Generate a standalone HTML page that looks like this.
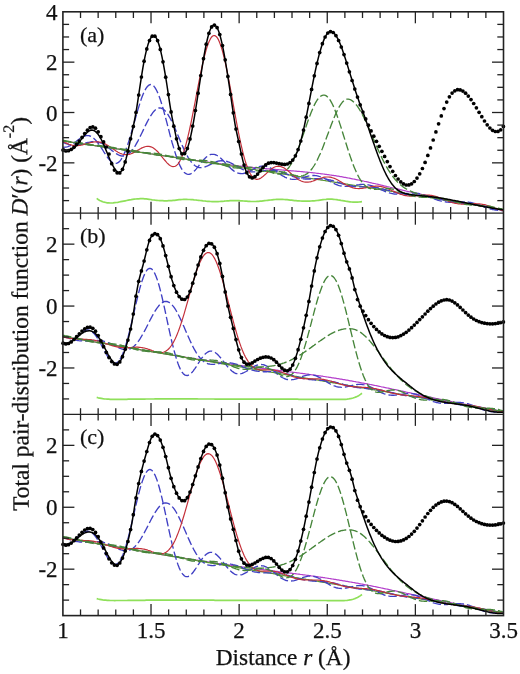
<!DOCTYPE html><html><head><meta charset="utf-8"><title>D(r)</title><style>html,body{margin:0;padding:0;background:#fff;}svg{display:block;}</style></head><body><svg width="520" height="674" viewBox="0 0 520 674"><rect width="520" height="674" fill="#fff"/><path d="M62.9,141.0 63.9,141.2 64.9,141.3 65.9,141.4 66.9,141.6 67.9,141.7 68.9,141.9 69.9,142.0 70.9,142.2 71.9,142.3 72.9,142.4 73.9,142.6 74.9,142.7 75.9,142.9 76.9,143.0 77.9,143.2 78.9,143.3 79.9,143.5 80.9,143.6 81.9,143.8 82.9,143.9 83.9,144.0 84.9,144.2 85.9,144.3 86.9,144.5 87.9,144.6 88.9,144.8 89.9,144.9 90.9,145.1 91.9,145.2 92.9,145.4 93.9,145.5 94.9,145.6 95.9,145.8 96.9,145.9 97.9,146.1 98.9,146.2 100.0,146.4 101.0,146.5 102.0,146.7 103.0,146.8 104.0,147.0 105.0,147.1 106.0,147.2 107.0,147.4 108.0,147.5 109.0,147.7 110.0,147.8 111.0,148.0 112.0,148.1 113.0,148.3 114.0,148.4 115.0,148.6 116.0,148.7 117.0,148.9 118.0,149.0 119.0,149.2 120.0,149.3 121.0,149.4 122.0,149.6 123.0,149.7 124.0,149.9 125.0,150.0 126.0,150.2 127.0,150.3 128.0,150.5 129.0,150.6 130.0,150.8 131.0,150.9 132.0,151.1 133.0,151.2 134.0,151.4 135.0,151.5 136.0,151.7 137.0,151.8 138.0,152.0 139.0,152.1 140.0,152.3 141.0,152.4 142.0,152.5 143.0,152.7 144.0,152.8 145.0,153.0 146.0,153.1 147.0,153.3 148.0,153.4 149.0,153.6 150.0,153.7 151.0,153.9 152.0,154.0 153.0,154.2 154.0,154.3 155.0,154.5 156.0,154.6 157.0,154.8 158.0,154.9 159.0,155.1 160.0,155.2 161.0,155.4 162.0,155.5 163.0,155.7 164.0,155.8 165.0,156.0 166.0,156.1 167.0,156.2 168.0,156.4 169.0,156.5 170.0,156.7 171.0,156.8 172.0,157.0 173.1,157.1 174.1,157.3 175.1,157.4 176.1,157.6 177.1,157.7 178.1,157.9 179.1,158.0 180.1,158.2 181.1,158.3 182.1,158.4 183.1,158.6 184.1,158.7 185.1,158.9 186.1,159.0 187.1,159.2 188.1,159.3 189.1,159.5 190.1,159.6 191.1,159.7 192.1,159.9 193.1,160.0 194.1,160.2 195.1,160.3 196.1,160.5 197.1,160.6 198.1,160.7 199.1,160.9 200.1,161.0 201.1,161.2 202.1,161.3 203.1,161.4 204.1,161.6 205.1,161.7 206.1,161.9 207.1,162.0 208.1,162.1 209.1,162.3 210.1,162.4 211.1,162.5 212.1,162.7 213.1,162.8 214.1,162.9 215.1,163.1 216.1,163.2 217.1,163.3 218.1,163.5 219.1,163.6 220.1,163.7 221.1,163.8 222.1,164.0 223.1,164.1 224.1,164.2 225.1,164.4 226.1,164.5 227.1,164.6 228.1,164.7 229.1,164.8 230.1,165.0 231.1,165.1 232.1,165.2 233.1,165.3 234.1,165.4 235.1,165.6 236.1,165.7 237.1,165.8 238.1,165.9 239.1,166.0 240.1,166.1 241.1,166.2 242.1,166.3 243.1,166.4 244.1,166.6 245.1,166.7 246.1,166.8 247.2,166.9 248.2,167.0 249.2,167.1 250.2,167.2 251.2,167.3 252.2,167.4 253.2,167.5 254.2,167.6 255.2,167.7 256.2,167.8 257.2,167.9 258.2,168.0 259.2,168.0 260.2,168.1 261.2,168.2 262.2,168.3 263.2,168.4 264.2,168.5 265.2,168.6 266.2,168.7 267.2,168.8 268.2,168.9 269.2,168.9 270.2,169.0 271.2,169.1 272.2,169.2 273.2,169.3 274.2,169.4 275.2,169.4 276.2,169.5 277.2,169.6 278.2,169.7 279.2,169.8 280.2,169.8 281.2,169.9 282.2,170.0 283.2,170.1 284.2,170.2 285.2,170.3 286.2,170.3 287.2,170.4 288.2,170.5 289.2,170.6 290.2,170.7 291.2,170.8 292.2,170.8 293.2,170.9 294.2,171.0 295.2,171.1 296.2,171.2 297.2,171.3 298.2,171.4 299.2,171.4 300.2,171.5 301.2,171.6 302.2,171.7 303.2,171.8 304.2,171.9 305.2,172.0 306.2,172.1 307.2,172.2 308.2,172.3 309.2,172.4 310.2,172.5 311.2,172.6 312.2,172.7 313.2,172.8 314.2,172.9 315.2,173.0 316.2,173.2 317.2,173.3 318.2,173.4 319.2,173.5 320.3,173.6 321.3,173.8 322.3,173.9 323.3,174.0 324.3,174.1 325.3,174.3 326.3,174.4 327.3,174.6 328.3,174.7 329.3,174.8 330.3,175.0 331.3,175.1 332.3,175.3 333.3,175.4 334.3,175.6 335.3,175.7 336.3,175.9 337.3,176.1 338.3,176.2 339.3,176.4 340.3,176.6 341.3,176.7 342.3,176.9 343.3,177.1 344.3,177.3 345.3,177.4 346.3,177.6 347.3,177.8 348.3,178.0 349.3,178.2 350.3,178.4 351.3,178.6 352.3,178.8 353.3,179.0 354.3,179.2 355.3,179.4 356.3,179.6 357.3,179.8 358.3,180.0 359.3,180.2 360.3,180.4 361.3,180.6 362.3,180.8 363.3,181.0 364.3,181.3 365.3,181.5 366.3,181.7 367.3,181.9 368.3,182.1 369.3,182.4 370.3,182.6 371.3,182.8 372.3,183.1 373.3,183.3 374.3,183.5 375.3,183.7 376.3,184.0 377.3,184.2 378.3,184.4 379.3,184.7 380.3,184.9 381.3,185.2 382.3,185.4 383.3,185.6 384.3,185.9 385.3,186.1 386.3,186.3 387.3,186.6 388.3,186.8 389.3,187.0 390.3,187.3 391.3,187.5 392.3,187.8 393.4,188.0 394.4,188.2 395.4,188.5 396.4,188.7 397.4,188.9 398.4,189.2 399.4,189.4 400.4,189.7 401.4,189.9 402.4,190.1 403.4,190.4 404.4,190.6 405.4,190.8 406.4,191.1 407.4,191.3 408.4,191.5 409.4,191.8 410.4,192.0 411.4,192.2 412.4,192.4 413.4,192.7 414.4,192.9 415.4,193.1 416.4,193.3 417.4,193.6 418.4,193.8 419.4,194.0 420.4,194.2 421.4,194.4 422.4,194.7 423.4,194.9 424.4,195.1 425.4,195.3 426.4,195.5 427.4,195.7 428.4,196.0 429.4,196.2 430.4,196.4 431.4,196.6 432.4,196.8 433.4,197.0 434.4,197.2 435.4,197.4 436.4,197.6 437.4,197.8 438.4,198.0 439.4,198.2 440.4,198.4 441.4,198.6 442.4,198.8 443.4,199.0 444.4,199.2 445.4,199.4 446.4,199.6 447.4,199.8 448.4,200.0 449.4,200.2 450.4,200.4 451.4,200.6 452.4,200.8 453.4,201.0 454.4,201.2 455.4,201.3 456.4,201.5 457.4,201.7 458.4,201.9 459.4,202.1 460.4,202.3 461.4,202.5 462.4,202.6 463.4,202.8 464.4,203.0 465.4,203.2 466.4,203.4 467.5,203.6 468.5,203.7 469.5,203.9 470.5,204.1 471.5,204.3 472.5,204.5 473.5,204.6 474.5,204.8 475.5,205.0 476.5,205.2 477.5,205.4 478.5,205.5 479.5,205.7 480.5,205.9 481.5,206.1 482.5,206.2 483.5,206.4 484.5,206.6 485.5,206.8 486.5,206.9 487.5,207.1 488.5,207.3 489.5,207.5 490.5,207.6 491.5,207.8 492.5,208.0 493.5,208.2 494.5,208.3 495.5,208.5 496.5,208.7 497.5,208.8 498.5,209.0 499.5,209.2 500.5,209.4 501.5,209.5 502.5,209.7 503.5,209.9" fill="none" stroke="#b440cc" stroke-width="1.2" stroke-linejoin="round"/><path d="M62.9,141.0 63.9,141.2 64.9,141.3 65.9,141.4 66.9,141.6 67.9,141.7 68.9,141.9 69.9,142.0 70.9,142.2 71.9,142.3 72.9,142.4 73.9,142.6 74.9,142.7 75.9,142.9 76.9,143.0 77.9,143.2 78.9,143.3 79.9,143.5 80.9,143.6 81.9,143.8 82.9,143.9 83.9,144.0 84.9,144.2 85.9,144.3 86.9,144.5 87.9,144.6 88.9,144.8 89.9,144.9 90.9,145.1 91.9,145.2 92.9,145.4 93.9,145.5 94.9,145.6 95.9,145.8 96.9,145.9 97.9,146.1 98.9,146.2 100.0,146.4 101.0,146.5 102.0,146.7 103.0,146.8 104.0,147.0 105.0,147.1 106.0,147.2 107.0,147.4 108.0,147.5 109.0,147.7 110.0,147.8 111.0,148.0 112.0,148.1 113.0,148.3 114.0,148.4 115.0,148.6 116.0,148.7 117.0,148.9 118.0,149.0 119.0,149.2 120.0,149.3 121.0,149.5 122.0,149.6 123.0,149.7 124.0,149.9 125.0,150.0 126.0,150.2 127.0,150.3 128.0,150.5 129.0,150.6 130.0,150.8 131.0,150.9 132.0,151.1 133.0,151.2 134.0,151.4 135.0,151.5 136.0,151.7 137.0,151.8 138.0,152.0 139.0,152.1 140.0,152.3 141.0,152.4 142.0,152.6 143.0,152.7 144.0,152.9 145.0,153.0 146.0,153.1 147.0,153.3 148.0,153.4 149.0,153.6 150.0,153.7 151.0,153.9 152.0,154.0 153.0,154.2 154.0,154.3 155.0,154.5 156.0,154.6 157.0,154.8 158.0,154.9 159.0,155.1 160.0,155.2 161.0,155.4 162.0,155.5 163.0,155.7 164.0,155.8 165.0,156.0 166.0,156.1 167.0,156.3 168.0,156.4 169.0,156.6 170.0,156.7 171.0,156.9 172.0,157.0 173.1,157.2 174.1,157.3 175.1,157.5 176.1,157.6 177.1,157.8 178.1,157.9 179.1,158.1 180.1,158.2 181.1,158.4 182.1,158.5 183.1,158.7 184.1,158.8 185.1,159.0 186.1,159.1 187.1,159.3 188.1,159.4 189.1,159.6 190.1,159.7 191.1,159.9 192.1,160.1 193.1,160.2 194.1,160.4 195.1,160.5 196.1,160.7 197.1,160.8 198.1,161.0 199.1,161.1 200.1,161.3 201.1,161.4 202.1,161.6 203.1,161.7 204.1,161.9 205.1,162.0 206.1,162.2 207.1,162.3 208.1,162.5 209.1,162.6 210.1,162.8 211.1,162.9 212.1,163.1 213.1,163.2 214.1,163.4 215.1,163.5 216.1,163.7 217.1,163.9 218.1,164.0 219.1,164.2 220.1,164.3 221.1,164.5 222.1,164.6 223.1,164.8 224.1,164.9 225.1,165.1 226.1,165.2 227.1,165.4 228.1,165.5 229.1,165.7 230.1,165.8 231.1,166.0 232.1,166.2 233.1,166.3 234.1,166.5 235.1,166.6 236.1,166.8 237.1,166.9 238.1,167.1 239.1,167.2 240.1,167.4 241.1,167.5 242.1,167.7 243.1,167.8 244.1,168.0 245.1,168.2 246.1,168.3 247.2,168.5 248.2,168.6 249.2,168.8 250.2,168.9 251.2,169.1 252.2,169.2 253.2,169.4 254.2,169.5 255.2,169.7 256.2,169.9 257.2,170.0 258.2,170.2 259.2,170.3 260.2,170.5 261.2,170.6 262.2,170.8 263.2,170.9 264.2,171.1 265.2,171.3 266.2,171.4 267.2,171.6 268.2,171.7 269.2,171.9 270.2,172.0 271.2,172.2 272.2,172.3 273.2,172.5 274.2,172.7 275.2,172.8 276.2,173.0 277.2,173.1 278.2,173.3 279.2,173.4 280.2,173.6 281.2,173.8 282.2,173.9 283.2,174.1 284.2,174.2 285.2,174.4 286.2,174.5 287.2,174.7 288.2,174.8 289.2,175.0 290.2,175.2 291.2,175.3 292.2,175.5 293.2,175.6 294.2,175.8 295.2,175.9 296.2,176.1 297.2,176.3 298.2,176.4 299.2,176.6 300.2,176.7 301.2,176.9 302.2,177.0 303.2,177.2 304.2,177.4 305.2,177.5 306.2,177.7 307.2,177.8 308.2,178.0 309.2,178.2 310.2,178.3 311.2,178.5 312.2,178.6 313.2,178.8 314.2,178.9 315.2,179.1 316.2,179.3 317.2,179.4 318.2,179.6 319.2,179.7 320.3,179.9 321.3,180.1 322.3,180.2 323.3,180.4 324.3,180.5 325.3,180.7 326.3,180.9 327.3,181.0 328.3,181.2 329.3,181.3 330.3,181.5 331.3,181.6 332.3,181.8 333.3,182.0 334.3,182.1 335.3,182.3 336.3,182.4 337.3,182.6 338.3,182.8 339.3,182.9 340.3,183.1 341.3,183.2 342.3,183.4 343.3,183.6 344.3,183.7 345.3,183.9 346.3,184.0 347.3,184.2 348.3,184.4 349.3,184.5 350.3,184.7 351.3,184.8 352.3,185.0 353.3,185.2 354.3,185.3 355.3,185.5 356.3,185.7 357.3,185.8 358.3,186.0 359.3,186.1 360.3,186.3 361.3,186.5 362.3,186.6 363.3,186.8 364.3,186.9 365.3,187.1 366.3,187.3 367.3,187.4 368.3,187.6 369.3,187.7 370.3,187.9 371.3,188.1 372.3,188.2 373.3,188.4 374.3,188.6 375.3,188.7 376.3,188.9 377.3,189.0 378.3,189.2 379.3,189.4 380.3,189.5 381.3,189.7 382.3,189.9 383.3,190.0 384.3,190.2 385.3,190.3 386.3,190.5 387.3,190.7 388.3,190.8 389.3,191.0 390.3,191.2 391.3,191.3 392.3,191.5 393.4,191.6 394.4,191.8 395.4,192.0 396.4,192.1 397.4,192.3 398.4,192.5 399.4,192.6 400.4,192.8 401.4,192.9 402.4,193.1 403.4,193.3 404.4,193.4 405.4,193.6 406.4,193.8 407.4,193.9 408.4,194.1 409.4,194.3 410.4,194.4 411.4,194.6 412.4,194.7 413.4,194.9 414.4,195.1 415.4,195.2 416.4,195.4 417.4,195.6 418.4,195.7 419.4,195.9 420.4,196.1 421.4,196.2 422.4,196.4 423.4,196.6 424.4,196.7 425.4,196.9 426.4,197.1 427.4,197.2 428.4,197.4 429.4,197.5 430.4,197.7 431.4,197.9 432.4,198.0 433.4,198.2 434.4,198.4 435.4,198.5 436.4,198.7 437.4,198.9 438.4,199.0 439.4,199.2 440.4,199.4 441.4,199.5 442.4,199.7 443.4,199.9 444.4,200.0 445.4,200.2 446.4,200.4 447.4,200.5 448.4,200.7 449.4,200.9 450.4,201.0 451.4,201.2 452.4,201.4 453.4,201.5 454.4,201.7 455.4,201.9 456.4,202.0 457.4,202.2 458.4,202.4 459.4,202.5 460.4,202.7 461.4,202.9 462.4,203.0 463.4,203.2 464.4,203.4 465.4,203.5 466.4,203.7 467.5,203.9 468.5,204.0 469.5,204.2 470.5,204.4 471.5,204.5 472.5,204.7 473.5,204.9 474.5,205.0 475.5,205.2 476.5,205.4 477.5,205.5 478.5,205.7 479.5,205.9 480.5,206.0 481.5,206.2 482.5,206.4 483.5,206.5 484.5,206.7 485.5,206.9 486.5,207.0 487.5,207.2 488.5,207.4 489.5,207.6 490.5,207.7 491.5,207.9 492.5,208.1 493.5,208.2 494.5,208.4 495.5,208.6 496.5,208.7 497.5,208.9 498.5,209.1 499.5,209.2 500.5,209.4 501.5,209.6 502.5,209.7 503.5,209.9" fill="none" stroke="#5c9632" stroke-width="1.2" stroke-linejoin="round"/><path d="M62.9,147.2 63.9,147.3 64.9,147.2 65.9,147.1 66.9,146.9 67.9,146.6 68.9,146.2 69.9,145.8 70.9,145.2 71.9,144.6 72.9,143.9 73.9,143.2 74.9,142.5 75.9,141.7 76.9,140.9 77.9,140.1 78.9,139.4 79.9,138.6 80.9,138.0 81.9,137.3 82.9,136.8 83.9,136.3 84.9,136.0 85.9,135.7 86.9,135.6 87.9,135.6 88.9,135.7 89.9,136.0 90.9,136.4 91.9,137.0 92.9,137.7 93.9,138.5 94.9,139.4 95.9,140.5 96.9,141.7 97.9,143.0 98.9,144.4 100.0,145.8 101.0,147.3 102.0,148.9 103.0,150.5 104.0,152.1 105.0,153.6 106.0,155.1 107.0,156.6 108.0,158.0 109.0,159.2 110.0,160.4 111.0,161.4 112.0,162.2 113.0,162.8 114.0,163.2 115.0,163.5 116.0,163.4 117.0,163.2 118.0,162.7 119.0,161.9 120.0,160.9 121.0,159.6 122.0,158.0 123.0,156.2 124.0,154.1 125.0,151.9 126.0,149.3 127.0,146.6 128.0,143.7 129.0,140.6 130.0,137.4 131.0,134.0 132.0,130.5 133.0,127.0 134.0,123.4 135.0,119.9 136.0,116.3 137.0,112.8 138.0,109.4 139.0,106.1 140.0,102.9 141.0,99.9 142.0,97.1 143.0,94.5 144.0,92.2 145.0,90.2 146.0,88.4 147.0,87.0 148.0,85.9 149.0,85.1 150.0,84.6 151.0,84.5 152.0,84.8 153.0,85.4 154.0,86.3 155.0,87.6 156.0,89.3 157.0,91.2 158.0,93.4 159.0,95.9 160.0,98.7 161.0,101.7 162.0,104.9 163.0,108.3 164.0,111.9 165.0,115.6 166.0,119.4 167.0,123.2 168.0,127.1 169.0,130.9 170.0,134.8 171.0,138.6 172.0,142.3 173.1,145.9 174.1,149.3 175.1,152.6 176.1,155.7 177.1,158.6 178.1,161.3 179.1,163.7 180.1,165.9 181.1,167.9 182.1,169.6 183.1,171.0 184.1,172.2 185.1,173.1 186.1,173.7 187.1,174.1 188.1,174.3 189.1,174.3 190.1,174.0 191.1,173.6 192.1,172.9 193.1,172.1 194.1,171.2 195.1,170.2 196.1,169.1 197.1,167.9 198.1,166.6 199.1,165.3 200.1,164.1 201.1,162.8 202.1,161.6 203.1,160.4 204.1,159.3 205.1,158.2 206.1,157.3 207.1,156.5 208.1,155.8 209.1,155.2 210.1,154.7 211.1,154.4 212.1,154.3 213.1,154.3 214.1,154.4 215.1,154.6 216.1,155.0 217.1,155.5 218.1,156.1 219.1,156.8 220.1,157.6 221.1,158.5 222.1,159.5 223.1,160.5 224.1,161.5 225.1,162.6 226.1,163.7 227.1,164.7 228.1,165.8 229.1,166.8 230.1,167.8 231.1,168.8 232.1,169.6 233.1,170.4 234.1,171.2 235.1,171.8 236.1,172.3 237.1,172.8 238.1,173.1 239.1,173.4 240.1,173.5 241.1,173.6 242.1,173.6 243.1,173.5 244.1,173.3 245.1,173.0 246.1,172.7 247.2,172.3 248.2,171.8 249.2,171.3 250.2,170.8 251.2,170.3 252.2,169.8 253.2,169.2 254.2,168.7 255.2,168.2 256.2,167.8 257.2,167.4 258.2,167.0 259.2,166.7 260.2,166.4 261.2,166.2 262.2,166.1 263.2,166.1 264.2,166.1 265.2,166.2 266.2,166.4 267.2,166.6 268.2,167.0 269.2,167.4 270.2,167.8 271.2,168.3 272.2,168.9 273.2,169.5 274.2,170.1 275.2,170.8 276.2,171.5 277.2,172.2 278.2,172.9 279.2,173.6 280.2,174.3 281.2,174.9 282.2,175.6 283.2,176.2 284.2,176.7 285.2,177.3 286.2,177.7 287.2,178.1 288.2,178.5 289.2,178.8 290.2,179.0 291.2,179.2 292.2,179.3 293.2,179.3 294.2,179.3 295.2,179.3 296.2,179.2 297.2,179.0 298.2,178.8 299.2,178.6 300.2,178.3 301.2,178.1 302.2,177.8 303.2,177.5 304.2,177.2 305.2,176.9 306.2,176.6 307.2,176.3 308.2,176.1 309.2,175.9 310.2,175.8 311.2,175.6 312.2,175.5 313.2,175.5 314.2,175.5 315.2,175.6 316.2,175.7 317.2,175.9 318.2,176.1 319.2,176.4 320.3,176.7 321.3,177.1 322.3,177.5 323.3,177.9 324.3,178.4 325.3,178.9 326.3,179.4 327.3,180.0 328.3,180.5 329.3,181.0 330.3,181.6 331.3,182.1 332.3,182.7 333.3,183.2 334.3,183.6 335.3,184.1 336.3,184.5 337.3,184.9 338.3,185.3 339.3,185.6 340.3,185.8 341.3,186.0 342.3,186.2 343.3,186.3 344.3,186.4 345.3,186.4 346.3,186.4 347.3,186.4 348.3,186.3 349.3,186.2 350.3,186.1 351.3,186.0 352.3,185.8 353.3,185.6 354.3,185.5 355.3,185.3 356.3,185.1 357.3,184.9 358.3,184.8 359.3,184.7 360.3,184.5 361.3,184.5 362.3,184.4 363.3,184.4 364.3,184.4 365.3,184.5 366.3,184.6 367.3,184.7 368.3,184.9 369.3,185.1 370.3,185.3 371.3,185.6 372.3,185.9 373.3,186.3 374.3,186.7 375.3,187.1 376.3,187.5 377.3,187.9 378.3,188.4 379.3,188.8 380.3,189.3 381.3,189.8 382.3,190.2 383.3,190.7 384.3,191.1 385.3,191.5 386.3,191.9 387.3,192.3 388.3,192.6 389.3,192.9 390.3,193.2 391.3,193.4 392.3,193.6 393.4,193.8 394.4,194.0 395.4,194.1 396.4,194.1 397.4,194.2 398.4,194.2 399.4,194.1 400.4,194.1 401.4,194.0 402.4,194.0 403.4,193.9 404.4,193.8 405.4,193.6 406.4,193.5 407.4,193.4 408.4,193.3 409.4,193.2 410.4,193.2 411.4,193.1 412.4,193.1 413.4,193.1 414.4,193.1 415.4,193.2 416.4,193.2 417.4,193.3 418.4,193.5 419.4,193.7 420.4,193.9 421.4,194.1 422.4,194.4 423.4,194.7 424.4,195.0 425.4,195.3 426.4,195.7 427.4,196.1 428.4,196.5 429.4,196.9 430.4,197.3 431.4,197.7 432.4,198.1 433.4,198.5 434.4,198.9 435.4,199.3 436.4,199.7 437.4,200.0 438.4,200.4 439.4,200.7 440.4,200.9 441.4,201.2 442.4,201.4 443.4,201.6 444.4,201.8 445.4,201.9 446.4,202.1 447.4,202.1 448.4,202.2 449.4,202.2 450.4,202.2 451.4,202.2 452.4,202.2 453.4,202.2 454.4,202.1 455.4,202.1 456.4,202.0 457.4,202.0 458.4,201.9 459.4,201.8 460.4,201.8 461.4,201.8 462.4,201.8 463.4,201.8 464.4,201.8 465.4,201.8 466.4,201.9 467.5,202.0 468.5,202.1 469.5,202.3 470.5,202.5 471.5,202.7 472.5,202.9 473.5,203.2 474.5,203.4 475.5,203.7 476.5,204.0 477.5,204.4 478.5,204.7 479.5,205.1 480.5,205.5 481.5,205.8 482.5,206.2 483.5,206.6 484.5,207.0 485.5,207.3 486.5,207.7 487.5,208.0 488.5,208.4 489.5,208.7 490.5,209.0 491.5,209.2 492.5,209.5 493.5,209.7 494.5,209.9 495.5,210.1 496.5,210.2 497.5,210.3 498.5,210.4 499.5,210.5 500.5,210.6 501.5,210.6 502.5,210.6 503.5,210.6" fill="none" stroke="#4040c4" stroke-width="1.35" stroke-dasharray="8.5,3" stroke-linejoin="round"/><path d="M62.9,142.4 63.9,142.8 64.9,143.2 65.9,143.6 66.9,143.9 67.9,144.2 68.9,144.5 69.9,144.7 70.9,144.9 71.9,145.0 72.9,145.1 73.9,145.2 74.9,145.2 75.9,145.1 76.9,145.0 77.9,144.9 78.9,144.7 79.9,144.6 80.9,144.3 81.9,144.1 82.9,143.8 83.9,143.6 84.9,143.3 85.9,143.0 86.9,142.7 87.9,142.5 88.9,142.3 89.9,142.1 90.9,141.9 91.9,141.7 92.9,141.7 93.9,141.6 94.9,141.6 95.9,141.7 96.9,141.8 97.9,142.0 98.9,142.3 100.0,142.6 101.0,143.0 102.0,143.5 103.0,144.0 104.0,144.6 105.0,145.2 106.0,145.9 107.0,146.6 108.0,147.4 109.0,148.2 110.0,149.0 111.0,149.8 112.0,150.6 113.0,151.3 114.0,152.1 115.0,152.8 116.0,153.5 117.0,154.1 118.0,154.7 119.0,155.2 120.0,155.5 121.0,155.8 122.0,156.0 123.0,156.0 124.0,156.0 125.0,155.8 126.0,155.4 127.0,155.0 128.0,154.3 129.0,153.6 130.0,152.7 131.0,151.6 132.0,150.4 133.0,149.1 134.0,147.7 135.0,146.1 136.0,144.4 137.0,142.6 138.0,140.8 139.0,138.8 140.0,136.8 141.0,134.8 142.0,132.7 143.0,130.6 144.0,128.5 145.0,126.4 146.0,124.4 147.0,122.4 148.0,120.5 149.0,118.6 150.0,116.9 151.0,115.3 152.0,113.8 153.0,112.4 154.0,111.2 155.0,110.2 156.0,109.4 157.0,108.7 158.0,108.3 159.0,108.0 160.0,108.0 161.0,108.1 162.0,108.5 163.0,109.0 164.0,109.8 165.0,110.7 166.0,111.8 167.0,113.1 168.0,114.6 169.0,116.3 170.0,118.0 171.0,119.9 172.0,122.0 173.1,124.1 174.1,126.3 175.1,128.6 176.1,131.0 177.1,133.3 178.1,135.7 179.1,138.1 180.1,140.5 181.1,142.9 182.1,145.2 183.1,147.4 184.1,149.6 185.1,151.7 186.1,153.6 187.1,155.5 188.1,157.3 189.1,158.9 190.1,160.4 191.1,161.7 192.1,162.9 193.1,164.0 194.1,164.9 195.1,165.7 196.1,166.4 197.1,166.9 198.1,167.3 199.1,167.5 200.1,167.6 201.1,167.7 202.1,167.6 203.1,167.4 204.1,167.2 205.1,166.8 206.1,166.5 207.1,166.0 208.1,165.6 209.1,165.1 210.1,164.6 211.1,164.1 212.1,163.6 213.1,163.1 214.1,162.7 215.1,162.2 216.1,161.9 217.1,161.5 218.1,161.2 219.1,161.0 220.1,160.8 221.1,160.7 222.1,160.7 223.1,160.7 224.1,160.8 225.1,161.0 226.1,161.2 227.1,161.5 228.1,161.8 229.1,162.2 230.1,162.7 231.1,163.1 232.1,163.6 233.1,164.2 234.1,164.7 235.1,165.3 236.1,165.9 237.1,166.4 238.1,167.0 239.1,167.6 240.1,168.1 241.1,168.6 242.1,169.1 243.1,169.6 244.1,170.0 245.1,170.4 246.1,170.7 247.2,171.0 248.2,171.3 249.2,171.5 250.2,171.7 251.2,171.8 252.2,171.9 253.2,171.9 254.2,171.9 255.2,171.9 256.2,171.8 257.2,171.7 258.2,171.6 259.2,171.5 260.2,171.3 261.2,171.2 262.2,171.0 263.2,170.9 264.2,170.7 265.2,170.6 266.2,170.4 267.2,170.3 268.2,170.2 269.2,170.2 270.2,170.2 271.2,170.2 272.2,170.2 273.2,170.2 274.2,170.3 275.2,170.5 276.2,170.6 277.2,170.8 278.2,171.1 279.2,171.3 280.2,171.6 281.2,172.0 282.2,172.3 283.2,172.7 284.2,173.0 285.2,173.4 286.2,173.8 287.2,174.2 288.2,174.6 289.2,175.0 290.2,175.4 291.2,175.8 292.2,176.2 293.2,176.6 294.2,176.9 295.2,177.2 296.2,177.5 297.2,177.8 298.2,178.0 299.2,178.2 300.2,178.4 301.2,178.6 302.2,178.7 303.2,178.8 304.2,178.9 305.2,179.0 306.2,179.0 307.2,179.0 308.2,179.0 309.2,179.0 310.2,179.0 311.2,178.9 312.2,178.9 313.2,178.8 314.2,178.8 315.2,178.7 316.2,178.7 317.2,178.7 318.2,178.6 319.2,178.6 320.3,178.7 321.3,178.7 322.3,178.8 323.3,178.8 324.3,178.9 325.3,179.1 326.3,179.2 327.3,179.4 328.3,179.6 329.3,179.8 330.3,180.0 331.3,180.3 332.3,180.5 333.3,180.8 334.3,181.1 335.3,181.5 336.3,181.8 337.3,182.1 338.3,182.5 339.3,182.8 340.3,183.1 341.3,183.5 342.3,183.8 343.3,184.1 344.3,184.4 345.3,184.7 346.3,185.0 347.3,185.2 348.3,185.5 349.3,185.7 350.3,185.9 351.3,186.1 352.3,186.2 353.3,186.4 354.3,186.5 355.3,186.6 356.3,186.7 357.3,186.7 358.3,186.8 359.3,186.8 360.3,186.8 361.3,186.9 362.3,186.9 363.3,186.9 364.3,186.9 365.3,186.9 366.3,186.9 367.3,186.9 368.3,187.0 369.3,187.0 370.3,187.0 371.3,187.1 372.3,187.2 373.3,187.2 374.3,187.3 375.3,187.5 376.3,187.6 377.3,187.7 378.3,187.9 379.3,188.1 380.3,188.3 381.3,188.5 382.3,188.8 383.3,189.0 384.3,189.3 385.3,189.6 386.3,189.9 387.3,190.2 388.3,190.4 389.3,190.7 390.3,191.0 391.3,191.3 392.3,191.6 393.4,191.9 394.4,192.2 395.4,192.5 396.4,192.7 397.4,193.0 398.4,193.2 399.4,193.5 400.4,193.7 401.4,193.9 402.4,194.0 403.4,194.2 404.4,194.3 405.4,194.5 406.4,194.6 407.4,194.7 408.4,194.8 409.4,194.9 410.4,194.9 411.4,195.0 412.4,195.0 413.4,195.1 414.4,195.1 415.4,195.2 416.4,195.2 417.4,195.2 418.4,195.3 419.4,195.3 420.4,195.4 421.4,195.5 422.4,195.6 423.4,195.7 424.4,195.8 425.4,195.9 426.4,196.0 427.4,196.2 428.4,196.3 429.4,196.5 430.4,196.7 431.4,196.9 432.4,197.1 433.4,197.3 434.4,197.6 435.4,197.8 436.4,198.1 437.4,198.3 438.4,198.6 439.4,198.9 440.4,199.2 441.4,199.4 442.4,199.7 443.4,200.0 444.4,200.3 445.4,200.5 446.4,200.8 447.4,201.0 448.4,201.3 449.4,201.5 450.4,201.7 451.4,201.9 452.4,202.1 453.4,202.3 454.4,202.4 455.4,202.6 456.4,202.7 457.4,202.8 458.4,203.0 459.4,203.1 460.4,203.2 461.4,203.2 462.4,203.3 463.4,203.4 464.4,203.5 465.4,203.5 466.4,203.6 467.5,203.7 468.5,203.7 469.5,203.8 470.5,203.9 471.5,204.0 472.5,204.0 473.5,204.1 474.5,204.2 475.5,204.4 476.5,204.5 477.5,204.6 478.5,204.8 479.5,205.0 480.5,205.1 481.5,205.3 482.5,205.5 483.5,205.7 484.5,206.0 485.5,206.2 486.5,206.4 487.5,206.7 488.5,206.9 489.5,207.2 490.5,207.5 491.5,207.7 492.5,208.0 493.5,208.2 494.5,208.5 495.5,208.8 496.5,209.0 497.5,209.3 498.5,209.5 499.5,209.7 500.5,209.9 501.5,210.1 502.5,210.3 503.5,210.5" fill="none" stroke="#4040c4" stroke-width="1.35" stroke-dasharray="8.5,3" stroke-linejoin="round"/><path d="M62.9,141.5 63.9,142.0 64.9,142.5 65.9,142.9 66.9,143.4 67.9,143.8 68.9,144.2 69.9,144.5 70.9,144.8 71.9,145.1 72.9,145.3 73.9,145.4 74.9,145.5 75.9,145.6 76.9,145.6 77.9,145.6 78.9,145.5 79.9,145.4 80.9,145.2 81.9,145.0 82.9,144.8 83.9,144.5 84.9,144.2 85.9,143.9 86.9,143.6 87.9,143.3 88.9,143.1 89.9,142.8 90.9,142.5 91.9,142.3 92.9,142.1 93.9,142.0 94.9,141.9 95.9,141.8 96.9,141.8 97.9,141.8 98.9,142.0 100.0,142.1 101.0,142.4 102.0,142.7 103.0,143.0 104.0,143.4 105.0,143.9 106.0,144.4 107.0,145.0 108.0,145.6 109.0,146.2 110.0,146.9 111.0,147.6 112.0,148.3 113.0,149.0 114.0,149.6 115.0,150.3 116.0,151.0 117.0,151.6 118.0,152.2 119.0,152.7 120.0,153.2 121.0,153.6 122.0,154.0 123.0,154.3 124.0,154.5 125.0,154.6 126.0,154.7 127.0,154.6 128.0,154.5 129.0,154.3 130.0,154.1 131.0,153.8 132.0,153.4 133.0,152.9 134.0,152.4 135.0,151.9 136.0,151.3 137.0,150.7 138.0,150.1 139.0,149.6 140.0,149.0 141.0,148.4 142.0,147.9 143.0,147.5 144.0,147.1 145.0,146.8 146.0,146.5 147.0,146.4 148.0,146.4 149.0,146.4 150.0,146.6 151.0,146.9 152.0,147.3 153.0,147.8 154.0,148.5 155.0,149.2 156.0,150.1 157.0,151.0 158.0,152.0 159.0,153.2 160.0,154.3 161.0,155.6 162.0,156.8 163.0,158.1 164.0,159.3 165.0,160.5 166.0,161.7 167.0,162.8 168.0,163.8 169.0,164.7 170.0,165.4 171.0,166.0 172.0,166.4 173.1,166.6 174.1,166.5 175.1,166.3 176.1,165.7 177.1,164.9 178.1,163.8 179.1,162.3 180.1,160.6 181.1,158.6 182.1,156.2 183.1,153.6 184.1,150.6 185.1,147.4 186.1,143.8 187.1,140.0 188.1,135.9 189.1,131.6 190.1,127.0 191.1,122.3 192.1,117.4 193.1,112.3 194.1,107.2 195.1,102.0 196.1,96.7 197.1,91.4 198.1,86.2 199.1,81.1 200.1,76.0 201.1,71.1 202.1,66.4 203.1,61.9 204.1,57.7 205.1,53.8 206.1,50.1 207.1,46.9 208.1,44.0 209.1,41.5 210.1,39.4 211.1,37.7 212.1,36.5 213.1,35.8 214.1,35.5 215.1,35.7 216.1,36.4 217.1,37.5 218.1,39.1 219.1,41.2 220.1,43.7 221.1,46.6 222.1,49.8 223.1,53.5 224.1,57.5 225.1,61.8 226.1,66.4 227.1,71.2 228.1,76.3 229.1,81.5 230.1,86.9 231.1,92.4 232.1,97.9 233.1,103.5 234.1,109.0 235.1,114.6 236.1,120.0 237.1,125.3 238.1,130.5 239.1,135.5 240.1,140.3 241.1,144.9 242.1,149.2 243.1,153.3 244.1,157.1 245.1,160.6 246.1,163.8 247.2,166.7 248.2,169.3 249.2,171.6 250.2,173.5 251.2,175.2 252.2,176.6 253.2,177.6 254.2,178.4 255.2,179.0 256.2,179.3 257.2,179.3 258.2,179.2 259.2,178.9 260.2,178.4 261.2,177.8 262.2,177.1 263.2,176.3 264.2,175.4 265.2,174.5 266.2,173.6 267.2,172.6 268.2,171.7 269.2,170.8 270.2,169.9 271.2,169.1 272.2,168.4 273.2,167.8 274.2,167.2 275.2,166.8 276.2,166.5 277.2,166.3 278.2,166.2 279.2,166.3 280.2,166.4 281.2,166.7 282.2,167.1 283.2,167.5 284.2,168.1 285.2,168.7 286.2,169.4 287.2,170.2 288.2,171.0 289.2,171.9 290.2,172.8 291.2,173.7 292.2,174.6 293.2,175.4 294.2,176.3 295.2,177.1 296.2,177.9 297.2,178.7 298.2,179.4 299.2,180.0 300.2,180.5 301.2,181.0 302.2,181.4 303.2,181.7 304.2,182.0 305.2,182.1 306.2,182.2 307.2,182.2 308.2,182.1 309.2,182.0 310.2,181.8 311.2,181.6 312.2,181.3 313.2,181.0 314.2,180.6 315.2,180.2 316.2,179.8 317.2,179.4 318.2,179.0 319.2,178.7 320.3,178.3 321.3,178.0 322.3,177.7 323.3,177.4 324.3,177.2 325.3,177.1 326.3,177.0 327.3,177.0 328.3,177.0 329.3,177.1 330.3,177.2 331.3,177.4 332.3,177.7 333.3,178.0 334.3,178.4 335.3,178.8 336.3,179.3 337.3,179.8 338.3,180.3 339.3,180.9 340.3,181.5 341.3,182.1 342.3,182.7 343.3,183.3 344.3,183.9 345.3,184.4 346.3,185.0 347.3,185.5 348.3,186.0 349.3,186.5 350.3,186.9 351.3,187.3 352.3,187.6 353.3,187.9 354.3,188.1 355.3,188.3 356.3,188.5 357.3,188.5 358.3,188.6 359.3,188.6 360.3,188.5 361.3,188.5 362.3,188.3 363.3,188.2 364.3,188.0 365.3,187.9 366.3,187.7 367.3,187.5 368.3,187.2 369.3,187.0 370.3,186.9 371.3,186.7 372.3,186.5 373.3,186.4 374.3,186.3 375.3,186.2 376.3,186.2 377.3,186.2 378.3,186.2 379.3,186.3 380.3,186.4 381.3,186.6 382.3,186.8 383.3,187.1 384.3,187.4 385.3,187.7 386.3,188.0 387.3,188.4 388.3,188.8 389.3,189.3 390.3,189.7 391.3,190.2 392.3,190.7 393.4,191.1 394.4,191.6 395.4,192.1 396.4,192.5 397.4,193.0 398.4,193.4 399.4,193.8 400.4,194.2 401.4,194.5 402.4,194.8 403.4,195.1 404.4,195.4 405.4,195.6 406.4,195.7 407.4,195.9 408.4,196.0 409.4,196.1 410.4,196.1 411.4,196.1 412.4,196.1 413.4,196.0 414.4,196.0 415.4,195.9 416.4,195.8 417.4,195.7 418.4,195.6 419.4,195.5 420.4,195.4 421.4,195.3 422.4,195.2 423.4,195.1 424.4,195.0 425.4,195.0 426.4,195.0 427.4,195.0 428.4,195.1 429.4,195.2 430.4,195.3 431.4,195.4 432.4,195.6 433.4,195.8 434.4,196.0 435.4,196.3 436.4,196.6 437.4,196.9 438.4,197.3 439.4,197.6 440.4,198.0 441.4,198.4 442.4,198.8 443.4,199.2 444.4,199.6 445.4,200.0 446.4,200.4 447.4,200.8 448.4,201.2 449.4,201.6 450.4,201.9 451.4,202.3 452.4,202.6 453.4,202.8 454.4,203.1 455.4,203.3 456.4,203.5 457.4,203.7 458.4,203.8 459.4,203.9 460.4,204.0 461.4,204.1 462.4,204.1 463.4,204.1 464.4,204.1 465.4,204.1 466.4,204.1 467.5,204.0 468.5,204.0 469.5,203.9 470.5,203.9 471.5,203.8 472.5,203.8 473.5,203.8 474.5,203.7 475.5,203.7 476.5,203.8 477.5,203.8 478.5,203.8 479.5,203.9 480.5,204.0 481.5,204.2 482.5,204.3 483.5,204.5 484.5,204.7 485.5,204.9 486.5,205.2 487.5,205.5 488.5,205.8 489.5,206.1 490.5,206.4 491.5,206.8 492.5,207.1 493.5,207.5 494.5,207.8 495.5,208.2 496.5,208.6 497.5,208.9 498.5,209.3 499.5,209.6 500.5,210.0 501.5,210.3 502.5,210.6 503.5,210.9" fill="none" stroke="#c4303a" stroke-width="1.2" stroke-linejoin="round"/><path d="M62.9,140.3 63.9,140.5 64.9,140.7 65.9,141.0 66.9,141.2 67.9,141.4 68.9,141.6 69.9,141.8 70.9,142.0 71.9,142.3 72.9,142.5 73.9,142.7 74.9,142.9 75.9,143.1 76.9,143.3 77.9,143.5 78.9,143.6 79.9,143.8 80.9,143.9 81.9,144.1 82.9,144.2 83.9,144.3 84.9,144.5 85.9,144.6 86.9,144.7 87.9,144.8 88.9,144.8 89.9,144.9 90.9,145.0 91.9,145.1 92.9,145.1 93.9,145.2 94.9,145.2 95.9,145.3 96.9,145.4 97.9,145.4 98.9,145.5 100.0,145.6 101.0,145.7 102.0,145.8 103.0,145.9 104.0,146.0 105.0,146.1 106.0,146.2 107.0,146.4 108.0,146.5 109.0,146.7 110.0,146.9 111.0,147.1 112.0,147.3 113.0,147.5 114.0,147.7 115.0,147.9 116.0,148.1 117.0,148.4 118.0,148.6 119.0,148.8 120.0,149.1 121.0,149.3 122.0,149.6 123.0,149.8 124.0,150.0 125.0,150.3 126.0,150.5 127.0,150.7 128.0,150.9 129.0,151.1 130.0,151.2 131.0,151.4 132.0,151.6 133.0,151.7 134.0,151.8 135.0,152.0 136.0,152.1 137.0,152.2 138.0,152.3 139.0,152.3 140.0,152.4 141.0,152.5 142.0,152.5 143.0,152.6 144.0,152.6 145.0,152.6 146.0,152.7 147.0,152.7 148.0,152.8 149.0,152.8 150.0,152.9 151.0,153.0 152.0,153.0 153.0,153.1 154.0,153.2 155.0,153.3 156.0,153.4 157.0,153.6 158.0,153.7 159.0,153.9 160.0,154.1 161.0,154.3 162.0,154.5 163.0,154.7 164.0,154.9 165.0,155.2 166.0,155.4 167.0,155.7 168.0,155.9 169.0,156.2 170.0,156.5 171.0,156.8 172.0,157.0 173.1,157.3 174.1,157.6 175.1,157.8 176.1,158.1 177.1,158.3 178.1,158.5 179.1,158.8 180.1,159.0 181.1,159.1 182.1,159.3 183.1,159.5 184.1,159.6 185.1,159.7 186.1,159.8 187.1,159.9 188.1,160.0 189.1,160.0 190.1,160.1 191.1,160.1 192.1,160.1 193.1,160.2 194.1,160.2 195.1,160.2 196.1,160.2 197.1,160.2 198.1,160.2 199.1,160.2 200.1,160.2 201.1,160.2 202.1,160.3 203.1,160.3 204.1,160.4 205.1,160.5 206.1,160.6 207.1,160.7 208.1,160.9 209.1,161.1 210.1,161.2 211.1,161.5 212.1,161.7 213.1,161.9 214.1,162.2 215.1,162.5 216.1,162.8 217.1,163.1 218.1,163.4 219.1,163.7 220.1,164.1 221.1,164.4 222.1,164.7 223.1,165.1 224.1,165.4 225.1,165.7 226.1,166.0 227.1,166.3 228.1,166.6 229.1,166.8 230.1,167.1 231.1,167.3 232.1,167.5 233.1,167.6 234.1,167.8 235.1,167.9 236.1,167.9 237.1,168.0 238.1,168.0 239.1,168.0 240.1,168.0 241.1,168.0 242.1,167.9 243.1,167.9 244.1,167.8 245.1,167.7 246.1,167.6 247.2,167.5 248.2,167.4 249.2,167.4 250.2,167.3 251.2,167.3 252.2,167.3 253.2,167.3 254.2,167.3 255.2,167.4 256.2,167.4 257.2,167.6 258.2,167.7 259.2,167.9 260.2,168.2 261.2,168.4 262.2,168.7 263.2,169.1 264.2,169.4 265.2,169.8 266.2,170.2 267.2,170.7 268.2,171.1 269.2,171.5 270.2,171.9 271.2,172.3 272.2,172.7 273.2,173.1 274.2,173.4 275.2,173.6 276.2,173.8 277.2,174.0 278.2,174.0 279.2,174.0 280.2,173.9 281.2,173.6 282.2,173.3 283.2,172.8 284.2,172.2 285.2,171.4 286.2,170.5 287.2,169.5 288.2,168.3 289.2,167.0 290.2,165.5 291.2,163.9 292.2,162.1 293.2,160.2 294.2,158.1 295.2,155.9 296.2,153.6 297.2,151.1 298.2,148.6 299.2,146.0 300.2,143.2 301.2,140.4 302.2,137.6 303.2,134.7 304.2,131.8 305.2,128.9 306.2,126.0 307.2,123.1 308.2,120.3 309.2,117.6 310.2,114.9 311.2,112.3 312.2,109.9 313.2,107.6 314.2,105.4 315.2,103.4 316.2,101.6 317.2,100.0 318.2,98.6 319.2,97.4 320.3,96.5 321.3,95.8 322.3,95.3 323.3,95.1 324.3,95.1 325.3,95.4 326.3,95.9 327.3,96.7 328.3,97.7 329.3,98.9 330.3,100.4 331.3,102.1 332.3,104.0 333.3,106.1 334.3,108.4 335.3,110.9 336.3,113.5 337.3,116.2 338.3,119.1 339.3,122.1 340.3,125.1 341.3,128.3 342.3,131.5 343.3,134.7 344.3,137.9 345.3,141.1 346.3,144.3 347.3,147.5 348.3,150.6 349.3,153.7 350.3,156.6 351.3,159.5 352.3,162.3 353.3,164.9 354.3,167.4 355.3,169.8 356.3,172.1 357.3,174.2 358.3,176.2 359.3,178.0 360.3,179.6 361.3,181.1 362.3,182.5 363.3,183.7 364.3,184.8 365.3,185.7 366.3,186.6 367.3,187.2 368.3,187.8 369.3,188.3 370.3,188.6 371.3,188.9 372.3,189.1 373.3,189.2 374.3,189.3 375.3,189.3 376.3,189.3 377.3,189.2 378.3,189.1 379.3,189.0 380.3,188.9 381.3,188.8 382.3,188.7 383.3,188.6 384.3,188.5 385.3,188.5 386.3,188.5 387.3,188.5 388.3,188.5 389.3,188.6 390.3,188.7 391.3,188.9 392.3,189.1 393.4,189.3 394.4,189.5 395.4,189.8 396.4,190.1 397.4,190.5 398.4,190.8 399.4,191.2 400.4,191.6 401.4,192.0 402.4,192.4 403.4,192.8 404.4,193.2 405.4,193.6 406.4,194.0 407.4,194.3 408.4,194.7 409.4,195.0 410.4,195.4 411.4,195.6 412.4,195.9 413.4,196.2 414.4,196.4 415.4,196.6 416.4,196.7 417.4,196.9 418.4,197.0 419.4,197.1 420.4,197.1 421.4,197.2 422.4,197.2 423.4,197.2 424.4,197.2 425.4,197.2 426.4,197.2 427.4,197.2 428.4,197.2 429.4,197.1 430.4,197.1 431.4,197.1 432.4,197.1 433.4,197.2 434.4,197.2 435.4,197.2 436.4,197.3 437.4,197.4 438.4,197.5 439.4,197.6 440.4,197.8 441.4,197.9 442.4,198.1 443.4,198.3 444.4,198.6 445.4,198.8 446.4,199.1 447.4,199.3 448.4,199.6 449.4,199.9 450.4,200.2 451.4,200.5 452.4,200.9 453.4,201.2 454.4,201.5 455.4,201.8 456.4,202.1 457.4,202.4 458.4,202.7 459.4,203.0 460.4,203.2 461.4,203.5 462.4,203.7 463.4,203.9 464.4,204.1 465.4,204.3 466.4,204.5 467.5,204.6 468.5,204.7 469.5,204.9 470.5,205.0 471.5,205.1 472.5,205.1 473.5,205.2 474.5,205.3 475.5,205.3 476.5,205.4 477.5,205.4 478.5,205.5 479.5,205.5 480.5,205.6 481.5,205.6 482.5,205.7 483.5,205.7 484.5,205.8 485.5,205.9 486.5,206.0 487.5,206.1 488.5,206.2 489.5,206.4 490.5,206.5 491.5,206.7 492.5,206.9 493.5,207.1 494.5,207.3 495.5,207.5 496.5,207.7 497.5,208.0 498.5,208.2 499.5,208.5 500.5,208.7 501.5,209.0 502.5,209.3 503.5,209.5" fill="none" stroke="#46853a" stroke-width="1.35" stroke-dasharray="8.5,3" stroke-linejoin="round"/><path d="M62.9,140.9 63.9,141.0 64.9,141.1 65.9,141.2 66.9,141.3 67.9,141.4 68.9,141.5 69.9,141.6 70.9,141.6 71.9,141.7 72.9,141.8 73.9,142.0 74.9,142.1 75.9,142.2 76.9,142.3 77.9,142.4 78.9,142.6 79.9,142.7 80.9,142.9 81.9,143.0 82.9,143.2 83.9,143.3 84.9,143.5 85.9,143.7 86.9,143.9 87.9,144.1 88.9,144.3 89.9,144.5 90.9,144.7 91.9,144.9 92.9,145.1 93.9,145.3 94.9,145.5 95.9,145.7 96.9,145.9 97.9,146.1 98.9,146.2 100.0,146.4 101.0,146.6 102.0,146.8 103.0,146.9 104.0,147.1 105.0,147.3 106.0,147.4 107.0,147.5 108.0,147.7 109.0,147.8 110.0,147.9 111.0,148.0 112.0,148.1 113.0,148.2 114.0,148.3 115.0,148.4 116.0,148.5 117.0,148.6 118.0,148.7 119.0,148.8 120.0,148.8 121.0,148.9 122.0,149.0 123.0,149.1 124.0,149.2 125.0,149.3 126.0,149.4 127.0,149.5 128.0,149.7 129.0,149.8 130.0,149.9 131.0,150.1 132.0,150.2 133.0,150.4 134.0,150.6 135.0,150.7 136.0,150.9 137.0,151.1 138.0,151.3 139.0,151.5 140.0,151.7 141.0,152.0 142.0,152.2 143.0,152.4 144.0,152.6 145.0,152.8 146.0,153.0 147.0,153.3 148.0,153.5 149.0,153.7 150.0,153.9 151.0,154.1 152.0,154.3 153.0,154.4 154.0,154.6 155.0,154.8 156.0,154.9 157.0,155.1 158.0,155.2 159.0,155.3 160.0,155.4 161.0,155.5 162.0,155.6 163.0,155.7 164.0,155.8 165.0,155.9 166.0,156.0 167.0,156.1 168.0,156.1 169.0,156.2 170.0,156.3 171.0,156.3 172.0,156.4 173.1,156.5 174.1,156.6 175.1,156.7 176.1,156.8 177.1,156.9 178.1,157.0 179.1,157.1 180.1,157.2 181.1,157.4 182.1,157.5 183.1,157.7 184.1,157.9 185.1,158.1 186.1,158.3 187.1,158.5 188.1,158.7 189.1,158.9 190.1,159.1 191.1,159.4 192.1,159.6 193.1,159.9 194.1,160.1 195.1,160.3 196.1,160.6 197.1,160.8 198.1,161.1 199.1,161.3 200.1,161.5 201.1,161.7 202.1,161.9 203.1,162.1 204.1,162.3 205.1,162.5 206.1,162.7 207.1,162.8 208.1,162.9 209.1,163.1 210.1,163.2 211.1,163.3 212.1,163.4 213.1,163.5 214.1,163.5 215.1,163.6 216.1,163.6 217.1,163.7 218.1,163.7 219.1,163.8 220.1,163.8 221.1,163.9 222.1,163.9 223.1,164.0 224.1,164.0 225.1,164.1 226.1,164.2 227.1,164.2 228.1,164.3 229.1,164.5 230.1,164.6 231.1,164.7 232.1,164.9 233.1,165.0 234.1,165.2 235.1,165.4 236.1,165.7 237.1,165.9 238.1,166.1 239.1,166.4 240.1,166.6 241.1,166.9 242.1,167.2 243.1,167.5 244.1,167.8 245.1,168.1 246.1,168.4 247.2,168.6 248.2,168.9 249.2,169.2 250.2,169.5 251.2,169.7 252.2,169.9 253.2,170.2 254.2,170.4 255.2,170.6 256.2,170.7 257.2,170.9 258.2,171.0 259.2,171.1 260.2,171.2 261.2,171.3 262.2,171.3 263.2,171.4 264.2,171.4 265.2,171.4 266.2,171.4 267.2,171.4 268.2,171.4 269.2,171.4 270.2,171.3 271.2,171.3 272.2,171.3 273.2,171.3 274.2,171.3 275.2,171.3 276.2,171.4 277.2,171.4 278.2,171.5 279.2,171.6 280.2,171.7 281.2,171.9 282.2,172.0 283.2,172.2 284.2,172.4 285.2,172.7 286.2,172.9 287.2,173.2 288.2,173.5 289.2,173.8 290.2,174.1 291.2,174.4 292.2,174.7 293.2,174.9 294.2,175.2 295.2,175.4 296.2,175.7 297.2,175.8 298.2,175.9 299.2,176.0 300.2,176.0 301.2,175.9 302.2,175.8 303.2,175.6 304.2,175.2 305.2,174.8 306.2,174.2 307.2,173.6 308.2,172.8 309.2,171.9 310.2,170.9 311.2,169.7 312.2,168.5 313.2,167.0 314.2,165.5 315.2,163.8 316.2,162.0 317.2,160.1 318.2,158.0 319.2,155.8 320.3,153.6 321.3,151.2 322.3,148.8 323.3,146.2 324.3,143.6 325.3,141.0 326.3,138.3 327.3,135.6 328.3,132.9 329.3,130.1 330.3,127.5 331.3,124.8 332.3,122.2 333.3,119.6 334.3,117.2 335.3,114.8 336.3,112.6 337.3,110.5 338.3,108.5 339.3,106.7 340.3,105.1 341.3,103.6 342.3,102.3 343.3,101.3 344.3,100.4 345.3,99.7 346.3,99.3 347.3,99.1 348.3,99.1 349.3,99.4 350.3,99.7 351.3,100.2 352.3,100.9 353.3,101.7 354.3,102.6 355.3,103.7 356.3,104.9 357.3,106.2 358.3,107.6 359.3,109.2 360.3,110.8 361.3,112.6 362.3,114.4 363.3,116.4 364.3,118.4 365.3,120.5 366.3,122.6 367.3,124.8 368.3,127.0 369.3,129.3 370.3,131.6 371.3,133.9 372.3,136.3 373.3,138.6 374.3,140.9 375.3,143.3 376.3,145.6 377.3,147.9 378.3,150.1 379.3,152.3 380.3,154.5 381.3,156.6 382.3,158.7 383.3,160.7 384.3,162.7 385.3,164.5 386.3,166.4 387.3,168.1 388.3,169.8 389.3,171.4 390.3,173.0 391.3,174.5 392.3,175.9 393.4,177.2 394.4,178.5 395.4,179.7 396.4,180.8 397.4,181.9 398.4,182.9 399.4,183.8 400.4,184.7 401.4,185.6 402.4,186.3 403.4,187.1 404.4,187.8 405.4,188.4 406.4,189.0 407.4,189.6 408.4,190.1 409.4,190.6 410.4,191.0 411.4,191.5 412.4,191.9 413.4,192.3 414.4,192.7 415.4,193.0 416.4,193.3 417.4,193.7 418.4,194.0 419.4,194.3 420.4,194.6 421.4,194.8 422.4,195.1 423.4,195.4 424.4,195.6 425.4,195.9 426.4,196.1 427.4,196.4 428.4,196.6 429.4,196.8 430.4,197.1 431.4,197.3 432.4,197.5 433.4,197.7 434.4,197.9 435.4,198.1 436.4,198.3 437.4,198.5 438.4,198.7 439.4,198.9 440.4,199.1 441.4,199.3 442.4,199.4 443.4,199.6 444.4,199.8 445.4,199.9 446.4,200.1 447.4,200.3 448.4,200.4 449.4,200.6 450.4,200.7 451.4,200.9 452.4,201.0 453.4,201.1 454.4,201.3 455.4,201.4 456.4,201.6 457.4,201.7 458.4,201.9 459.4,202.0 460.4,202.2 461.4,202.3 462.4,202.5 463.4,202.6 464.4,202.8 465.4,203.0 466.4,203.1 467.5,203.3 468.5,203.5 469.5,203.6 470.5,203.8 471.5,204.0 472.5,204.2 473.5,204.3 474.5,204.5 475.5,204.7 476.5,204.9 477.5,205.1 478.5,205.3 479.5,205.4 480.5,205.6 481.5,205.8 482.5,206.0 483.5,206.2 484.5,206.4 485.5,206.6 486.5,206.7 487.5,206.9 488.5,207.1 489.5,207.3 490.5,207.4 491.5,207.6 492.5,207.8 493.5,207.9 494.5,208.1 495.5,208.3 496.5,208.4 497.5,208.6 498.5,208.8 499.5,208.9 500.5,209.1 501.5,209.2 502.5,209.4 503.5,209.5" fill="none" stroke="#46853a" stroke-width="1.35" stroke-dasharray="8.5,3" stroke-linejoin="round"/><path d="M62.9,148.3 63.9,149.0 64.9,149.6 65.9,150.0 66.9,150.3 67.9,150.5 68.9,150.5 69.9,150.3 70.9,149.9 71.9,149.5 72.9,148.8 73.9,148.0 74.9,147.1 75.9,146.1 76.9,145.0 77.9,143.8 78.9,142.5 79.9,141.2 80.9,139.9 81.9,138.5 82.9,137.2 83.9,135.9 84.9,134.7 85.9,133.6 86.9,132.7 87.9,131.8 88.9,131.1 89.9,130.6 90.9,130.3 91.9,130.1 92.9,130.2 93.9,130.5 94.9,131.1 95.9,131.9 96.9,132.9 97.9,134.1 98.9,135.5 100.0,137.2 101.0,139.0 102.0,141.0 103.0,143.1 104.0,145.4 105.0,147.7 106.0,150.1 107.0,152.5 108.0,155.0 109.0,157.4 110.0,159.7 111.0,161.8 112.0,163.9 113.0,165.9 114.0,167.7 115.0,169.2 116.0,170.5 117.0,171.5 118.0,172.1 119.0,172.4 120.0,172.2 121.0,171.5 122.0,170.2 123.0,168.2 124.0,165.6 125.0,162.5 126.0,159.0 127.0,155.1 128.0,150.8 129.0,146.3 130.0,141.6 131.0,136.9 132.0,132.3 133.0,127.8 134.0,123.0 135.0,118.0 136.0,112.4 137.0,106.2 138.0,99.7 139.0,92.9 140.0,86.2 141.0,79.6 142.0,73.2 143.0,67.2 144.0,61.6 145.0,56.6 146.0,52.1 147.0,48.1 148.0,44.6 149.0,41.7 150.0,39.4 151.0,37.6 152.0,36.4 153.0,35.8 154.0,35.7 155.0,36.3 156.0,37.5 157.0,39.3 158.0,41.7 159.0,44.7 160.0,48.3 161.0,52.3 162.0,56.9 163.0,61.9 164.0,67.3 165.0,73.1 166.0,79.2 167.0,85.5 168.0,92.1 169.0,98.8 170.0,105.3 171.0,111.5 172.0,117.1 173.1,122.3 174.1,127.4 175.1,132.2 176.1,136.8 177.1,141.0 178.1,144.8 179.1,148.0 180.1,150.7 181.1,152.7 182.1,153.9 183.1,154.4 184.1,154.1 185.1,153.0 186.1,151.4 187.1,149.1 188.1,146.2 189.1,142.7 190.1,138.8 191.1,134.3 192.1,129.5 193.1,124.2 194.1,118.6 195.1,112.7 196.1,106.5 197.1,100.1 198.1,93.6 199.1,87.0 200.1,80.4 201.1,73.9 202.1,67.5 203.1,61.4 204.1,55.5 205.1,50.0 206.1,44.9 207.1,40.3 208.1,36.2 209.1,32.8 210.1,30.0 211.1,27.8 212.1,26.3 213.1,25.4 214.1,25.0 215.1,25.3 216.1,26.2 217.1,27.7 218.1,29.8 219.1,32.5 220.1,35.8 221.1,39.6 222.1,43.9 223.1,48.7 224.1,54.0 225.1,59.5 226.1,65.5 227.1,71.7 228.1,78.1 229.1,84.7 230.1,91.4 231.1,98.2 232.1,105.1 233.1,111.9 234.1,118.5 235.1,124.6 236.1,129.9 237.1,134.5 238.1,139.0 239.1,143.7 240.1,148.4 241.1,153.0 242.1,157.4 243.1,161.6 244.1,165.3 245.1,168.6 246.1,171.3 247.2,173.5 248.2,175.2 249.2,176.4 250.2,177.3 251.2,177.7 252.2,177.9 253.2,177.7 254.2,177.2 255.2,176.5 256.2,175.6 257.2,174.6 258.2,173.5 259.2,172.2 260.2,170.9 261.2,169.7 262.2,168.4 263.2,167.2 264.2,166.1 265.2,165.2 266.2,164.4 267.2,163.8 268.2,163.3 269.2,162.9 270.2,162.7 271.2,162.6 272.2,162.5 273.2,162.5 274.2,162.6 275.2,162.8 276.2,163.0 277.2,163.2 278.2,163.5 279.2,163.7 280.2,163.9 281.2,164.1 282.2,164.3 283.2,164.4 284.2,164.4 285.2,164.4 286.2,164.3 287.2,164.1 288.2,163.7 289.2,163.2 290.2,162.6 291.2,161.7 292.2,160.7 293.2,159.4 294.2,157.9 295.2,156.2 296.2,154.2 297.2,151.9 298.2,149.3 299.2,146.4 300.2,143.1 301.2,139.5 302.2,135.5 303.2,131.2 304.2,126.7 305.2,122.0 306.2,117.1 307.2,112.1 308.2,107.0 309.2,101.8 310.2,96.5 311.2,91.3 312.2,86.2 313.2,81.1 314.2,76.2 315.2,71.4 316.2,66.8 317.2,62.5 318.2,58.3 319.2,54.4 320.3,50.7 321.3,47.3 322.3,44.2 323.3,41.4 324.3,38.9 325.3,36.8 326.3,35.0 327.3,33.6 328.3,32.6 329.3,32.0 330.3,31.6 331.3,31.6 332.3,32.0 333.3,32.6 334.3,33.5 335.3,34.7 336.3,36.1 337.3,37.8 338.3,39.7 339.3,41.9 340.3,44.3 341.3,46.8 342.3,49.5 343.3,52.4 344.3,55.4 345.3,58.4 346.3,61.6 347.3,64.8 348.3,68.1 349.3,71.3 350.3,74.6 351.3,77.8 352.3,81.0 353.3,84.1 354.3,87.3 355.3,90.4 356.3,93.4 357.3,96.4 358.3,99.3 359.3,102.2 360.3,105.0 361.3,107.7 362.3,110.3 363.3,112.9 364.3,115.7 365.3,118.7 366.3,121.6 367.3,124.5 368.3,127.5 369.3,130.4 370.3,133.4 371.3,136.4 372.3,139.3 373.3,142.2 374.3,145.1 375.3,147.9 376.3,150.7 377.3,153.5 378.3,156.2 379.3,158.8 380.3,161.4 381.3,163.8 382.3,166.2 383.3,168.5 384.3,170.7 385.3,172.8 386.3,174.8 387.3,176.7 388.3,178.5 389.3,180.2 390.3,181.7 391.3,183.2 392.3,184.5 393.4,185.8 394.4,186.9 395.4,188.0 396.4,188.9 397.4,189.7 398.4,190.5 399.4,191.1 400.4,191.7 401.4,192.2 402.4,192.6 403.4,193.0 404.4,193.3 405.4,193.6 406.4,193.8 407.4,194.0 408.4,194.2 409.4,194.4 410.4,194.6 411.4,194.7 412.4,194.9 413.4,195.0 414.4,195.1 415.4,195.2 416.4,195.3 417.4,195.4 418.4,195.5 419.4,195.6 420.4,195.7 421.4,195.8 422.4,195.9 423.4,196.0 424.4,196.1 425.4,196.2 426.4,196.2 427.4,196.3 428.4,196.4 429.4,196.6 430.4,196.7 431.4,196.8 432.4,196.9 433.4,197.0 434.4,197.2 435.4,197.3 436.4,197.4 437.4,197.6 438.4,197.7 439.4,197.9 440.4,198.0 441.4,198.2 442.4,198.4 443.4,198.5 444.4,198.7 445.4,198.9 446.4,199.0 447.4,199.2 448.4,199.4 449.4,199.6 450.4,199.8 451.4,200.0 452.4,200.2 453.4,200.4 454.4,200.5 455.4,200.7 456.4,200.9 457.4,201.1 458.4,201.3 459.4,201.6 460.4,201.8 461.4,202.0 462.4,202.2 463.4,202.4 464.4,202.6 465.4,202.8 466.4,203.0 467.5,203.2 468.5,203.4 469.5,203.6 470.5,203.8 471.5,204.1 472.5,204.3 473.5,204.5 474.5,204.7 475.5,204.9 476.5,205.1 477.5,205.3 478.5,205.5 479.5,205.7 480.5,205.9 481.5,206.1 482.5,206.3 483.5,206.5 484.5,206.7 485.5,206.9 486.5,207.1 487.5,207.3 488.5,207.5 489.5,207.6 490.5,207.8 491.5,208.0 492.5,208.2 493.5,208.3 494.5,208.5 495.5,208.7 496.5,208.8 497.5,209.0 498.5,209.2 499.5,209.3 500.5,209.5 501.5,209.6 502.5,209.7 503.5,209.9" fill="none" stroke="#000" stroke-width="1.5" stroke-linejoin="round"/><path d="M96.7,198.4 98.2,199.5 99.7,200.4 101.2,201.1 102.7,201.7 104.2,202.2 105.7,202.5 107.2,202.8 108.7,202.9 110.2,203.0 111.7,203.0 113.2,202.9 114.7,202.7 116.2,202.5 117.7,202.3 119.2,202.0 120.7,201.7 122.2,201.4 123.7,201.1 125.2,200.8 126.7,200.5 128.2,200.2 129.7,199.9 131.2,199.7 132.7,199.4 134.2,199.2 135.7,199.0 137.2,198.9 138.7,198.8 140.2,198.7 141.7,198.7 143.2,198.7 144.7,198.8 146.2,198.9 147.7,199.1 149.2,199.3 150.7,199.5 152.2,199.8 153.7,200.0 155.2,200.2 156.7,200.3 158.2,200.5 159.7,200.6 161.2,200.7 162.7,200.7 164.1,200.8 165.6,200.8 167.1,200.8 168.6,200.7 170.1,200.7 171.6,200.6 173.1,200.4 174.6,200.3 176.1,200.1 177.6,199.9 179.1,199.7 180.6,199.6 182.1,199.5 183.6,199.4 185.1,199.4 186.6,199.4 188.1,199.5 189.6,199.5 191.1,199.6 192.6,199.7 194.1,199.9 195.6,200.0 197.1,200.2 198.6,200.3 200.1,200.5 201.6,200.7 203.1,200.9 204.6,201.0 206.1,201.2 207.6,201.3 209.1,201.4 210.6,201.5 212.1,201.6 213.6,201.7 215.1,201.7 216.6,201.7 218.1,201.6 219.6,201.5 221.1,201.4 222.6,201.3 224.1,201.2 225.6,201.0 227.1,200.9 228.6,200.8 230.1,200.7 231.6,200.7 233.1,200.6 234.6,200.6 236.1,200.6 237.6,200.7 239.1,200.7 240.6,200.8 242.1,200.9 243.6,201.0 245.1,201.1 246.6,201.2 248.1,201.3 249.6,201.4 251.1,201.5 252.6,201.5 254.1,201.5 255.6,201.5 257.1,201.4 258.6,201.3 260.1,201.2 261.6,201.1 263.1,200.9 264.6,200.7 266.1,200.5 267.6,200.3 269.1,200.1 270.6,200.0 272.1,199.8 273.6,199.6 275.1,199.5 276.6,199.4 278.1,199.3 279.6,199.3 281.1,199.3 282.6,199.4 284.1,199.5 285.6,199.6 287.1,199.7 288.6,199.9 290.1,200.1 291.6,200.2 293.1,200.4 294.6,200.6 296.0,200.7 297.5,200.8 299.0,200.9 300.5,201.0 302.0,201.1 303.5,201.1 305.0,201.1 306.5,201.1 308.0,201.1 309.5,201.1 311.0,201.0 312.5,200.9 314.0,200.8 315.5,200.7 317.0,200.5 318.5,200.3 320.0,200.1 321.5,199.9 323.0,199.7 324.5,199.5 326.0,199.4 327.5,199.2 329.0,199.2 330.5,199.2 332.0,199.2 333.5,199.3 335.0,199.5 336.5,199.6 338.0,199.9 339.5,200.1 341.0,200.4 342.5,200.6 344.0,200.9 345.5,201.2 347.0,201.4 348.5,201.6 350.0,201.8 351.5,202.0 353.0,202.1 354.5,202.2 356.0,202.2 357.5,202.2 359.0,202.0 360.5,201.8 362.0,201.6" fill="none" stroke="#8fe05a" stroke-width="1.7" stroke-linejoin="round"/><g fill="#000"><circle cx="63.0" cy="150.1" r="1.85"/><circle cx="65.8" cy="151.0" r="1.85"/><circle cx="68.5" cy="150.7" r="1.85"/><circle cx="71.2" cy="149.4" r="1.85"/><circle cx="73.9" cy="147.3" r="1.85"/><circle cx="76.6" cy="144.4" r="1.85"/><circle cx="79.3" cy="141.1" r="1.85"/><circle cx="82.0" cy="137.4" r="1.85"/><circle cx="84.7" cy="133.6" r="1.85"/><circle cx="87.4" cy="130.2" r="1.85"/><circle cx="90.1" cy="127.7" r="1.85"/><circle cx="92.8" cy="126.9" r="1.85"/><circle cx="95.5" cy="128.2" r="1.85"/><circle cx="98.2" cy="131.8" r="1.85"/><circle cx="100.9" cy="136.7" r="1.85"/><circle cx="103.6" cy="141.9" r="1.85"/><circle cx="106.3" cy="147.0" r="1.85"/><circle cx="109.0" cy="154.0" r="1.85"/><circle cx="111.7" cy="163.7" r="1.85"/><circle cx="114.4" cy="170.1" r="1.85"/><circle cx="117.1" cy="172.8" r="1.85"/><circle cx="119.8" cy="172.9" r="1.85"/><circle cx="122.5" cy="169.3" r="1.85"/><circle cx="125.2" cy="161.9" r="1.85"/><circle cx="127.9" cy="151.2" r="1.85"/><circle cx="130.6" cy="138.8" r="1.85"/><circle cx="133.3" cy="126.4" r="1.85"/><circle cx="136.0" cy="112.4" r="1.85"/><circle cx="138.7" cy="95.0" r="1.85"/><circle cx="141.4" cy="77.0" r="1.85"/><circle cx="144.1" cy="61.2" r="1.85"/><circle cx="146.8" cy="48.9" r="1.85"/><circle cx="149.5" cy="40.5" r="1.85"/><circle cx="152.2" cy="36.2" r="1.85"/><circle cx="154.9" cy="36.2" r="1.85"/><circle cx="157.6" cy="40.6" r="1.85"/><circle cx="160.3" cy="49.4" r="1.85"/><circle cx="163.0" cy="61.8" r="1.85"/><circle cx="165.7" cy="77.2" r="1.85"/><circle cx="168.4" cy="94.6" r="1.85"/><circle cx="171.1" cy="111.9" r="1.85"/><circle cx="173.8" cy="126.2" r="1.85"/><circle cx="176.5" cy="138.8" r="1.85"/><circle cx="179.2" cy="148.5" r="1.85"/><circle cx="181.9" cy="153.8" r="1.85"/><circle cx="184.6" cy="153.6" r="1.85"/><circle cx="187.3" cy="148.4" r="1.85"/><circle cx="190.0" cy="138.9" r="1.85"/><circle cx="192.7" cy="126.0" r="1.85"/><circle cx="195.4" cy="110.5" r="1.85"/><circle cx="198.1" cy="93.2" r="1.85"/><circle cx="200.8" cy="75.5" r="1.85"/><circle cx="203.5" cy="58.7" r="1.85"/><circle cx="206.2" cy="44.2" r="1.85"/><circle cx="208.9" cy="33.3" r="1.85"/><circle cx="211.6" cy="26.9" r="1.85"/><circle cx="214.4" cy="25.1" r="1.85"/><circle cx="217.1" cy="27.6" r="1.85"/><circle cx="219.8" cy="34.5" r="1.85"/><circle cx="222.5" cy="45.5" r="1.85"/><circle cx="225.2" cy="59.8" r="1.85"/><circle cx="227.9" cy="76.4" r="1.85"/><circle cx="230.6" cy="94.4" r="1.85"/><circle cx="233.3" cy="112.8" r="1.85"/><circle cx="236.0" cy="129.0" r="1.85"/><circle cx="238.7" cy="141.5" r="1.85"/><circle cx="241.4" cy="154.0" r="1.85"/><circle cx="244.1" cy="165.0" r="1.85"/><circle cx="246.8" cy="172.7" r="1.85"/><circle cx="249.5" cy="176.8" r="1.85"/><circle cx="252.2" cy="177.9" r="1.85"/><circle cx="254.9" cy="176.7" r="1.85"/><circle cx="257.6" cy="174.1" r="1.85"/><circle cx="260.3" cy="170.8" r="1.85"/><circle cx="263.0" cy="167.4" r="1.85"/><circle cx="265.7" cy="164.8" r="1.85"/><circle cx="268.4" cy="163.2" r="1.85"/><circle cx="271.1" cy="162.6" r="1.85"/><circle cx="273.8" cy="162.6" r="1.85"/><circle cx="276.5" cy="163.1" r="1.85"/><circle cx="279.2" cy="163.7" r="1.85"/><circle cx="281.9" cy="164.2" r="1.85"/><circle cx="284.6" cy="164.4" r="1.85"/><circle cx="287.3" cy="164.0" r="1.85"/><circle cx="290.0" cy="162.7" r="1.85"/><circle cx="292.7" cy="160.1" r="1.85"/><circle cx="295.4" cy="155.8" r="1.85"/><circle cx="298.1" cy="149.6" r="1.85"/><circle cx="300.8" cy="141.0" r="1.85"/><circle cx="303.5" cy="130.0" r="1.85"/><circle cx="306.2" cy="117.2" r="1.85"/><circle cx="308.9" cy="103.4" r="1.85"/><circle cx="311.6" cy="89.4" r="1.85"/><circle cx="314.3" cy="75.8" r="1.85"/><circle cx="317.0" cy="63.4" r="1.85"/><circle cx="319.7" cy="52.6" r="1.85"/><circle cx="322.4" cy="43.7" r="1.85"/><circle cx="325.1" cy="37.0" r="1.85"/><circle cx="327.8" cy="33.0" r="1.85"/><circle cx="330.5" cy="31.6" r="1.85"/><circle cx="333.2" cy="32.5" r="1.85"/><circle cx="335.9" cy="35.6" r="1.85"/><circle cx="338.6" cy="40.5" r="1.85"/><circle cx="341.3" cy="47.0" r="1.85"/><circle cx="344.0" cy="54.6" r="1.85"/><circle cx="346.7" cy="63.1" r="1.85"/><circle cx="349.4" cy="71.8" r="1.85"/><circle cx="352.1" cy="80.5" r="1.85"/><circle cx="354.8" cy="89.0" r="1.85"/><circle cx="357.5" cy="97.1" r="1.85"/><circle cx="360.2" cy="104.8" r="1.85"/><circle cx="362.9" cy="112.1" r="1.85"/><circle cx="365.7" cy="118.9" r="1.85"/><circle cx="368.4" cy="125.2" r="1.85"/><circle cx="371.1" cy="130.9" r="1.85"/><circle cx="373.8" cy="136.2" r="1.85"/><circle cx="376.5" cy="141.3" r="1.85"/><circle cx="379.2" cy="146.3" r="1.85"/><circle cx="381.9" cy="151.3" r="1.85"/><circle cx="384.6" cy="156.4" r="1.85"/><circle cx="387.3" cy="161.6" r="1.85"/><circle cx="390.0" cy="166.6" r="1.85"/><circle cx="392.7" cy="171.3" r="1.85"/><circle cx="395.4" cy="175.5" r="1.85"/><circle cx="398.1" cy="179.0" r="1.85"/><circle cx="400.8" cy="181.9" r="1.85"/><circle cx="403.5" cy="183.9" r="1.85"/><circle cx="406.2" cy="185.0" r="1.85"/><circle cx="408.9" cy="184.9" r="1.85"/><circle cx="411.6" cy="183.8" r="1.85"/><circle cx="414.3" cy="181.5" r="1.85"/><circle cx="417.0" cy="178.1" r="1.85"/><circle cx="419.7" cy="173.8" r="1.85"/><circle cx="422.4" cy="168.5" r="1.85"/><circle cx="425.1" cy="162.4" r="1.85"/><circle cx="427.8" cy="155.4" r="1.85"/><circle cx="430.5" cy="147.9" r="1.85"/><circle cx="433.2" cy="140.0" r="1.85"/><circle cx="435.9" cy="131.9" r="1.85"/><circle cx="438.6" cy="123.8" r="1.85"/><circle cx="441.3" cy="115.9" r="1.85"/><circle cx="444.0" cy="108.6" r="1.85"/><circle cx="446.7" cy="102.1" r="1.85"/><circle cx="449.4" cy="96.8" r="1.85"/><circle cx="452.1" cy="93.1" r="1.85"/><circle cx="454.8" cy="90.8" r="1.85"/><circle cx="457.5" cy="89.7" r="1.85"/><circle cx="460.2" cy="89.9" r="1.85"/><circle cx="462.9" cy="91.1" r="1.85"/><circle cx="465.6" cy="93.2" r="1.85"/><circle cx="468.3" cy="96.1" r="1.85"/><circle cx="471.0" cy="99.6" r="1.85"/><circle cx="473.7" cy="103.5" r="1.85"/><circle cx="476.4" cy="107.8" r="1.85"/><circle cx="479.1" cy="112.3" r="1.85"/><circle cx="481.8" cy="116.7" r="1.85"/><circle cx="484.5" cy="121.0" r="1.85"/><circle cx="487.2" cy="124.8" r="1.85"/><circle cx="489.9" cy="128.0" r="1.85"/><circle cx="492.6" cy="130.3" r="1.85"/><circle cx="495.3" cy="131.5" r="1.85"/><circle cx="498.0" cy="131.4" r="1.85"/><circle cx="500.7" cy="129.8" r="1.85"/><circle cx="503.4" cy="126.4" r="1.85"/></g><path d="M62.9,336.5 63.9,336.7 64.9,336.8 65.9,337.0 66.9,337.2 67.9,337.4 68.9,337.5 69.9,337.7 70.9,337.9 71.9,338.0 72.9,338.2 73.9,338.4 74.9,338.6 75.9,338.7 76.9,338.9 77.9,339.1 78.9,339.2 79.9,339.4 80.9,339.6 81.9,339.8 82.9,339.9 83.9,340.1 84.9,340.3 85.9,340.4 86.9,340.6 87.9,340.8 88.9,341.0 89.9,341.1 90.9,341.3 91.9,341.5 92.9,341.6 93.9,341.8 94.9,342.0 95.9,342.2 96.9,342.3 97.9,342.5 98.9,342.7 100.0,342.8 101.0,343.0 102.0,343.2 103.0,343.4 104.0,343.5 105.0,343.7 106.0,343.9 107.0,344.0 108.0,344.2 109.0,344.4 110.0,344.5 111.0,344.7 112.0,344.9 113.0,345.1 114.0,345.2 115.0,345.4 116.0,345.6 117.0,345.7 118.0,345.9 119.0,346.1 120.0,346.3 121.0,346.4 122.0,346.6 123.0,346.8 124.0,346.9 125.0,347.1 126.0,347.3 127.0,347.4 128.0,347.6 129.0,347.8 130.0,348.0 131.0,348.1 132.0,348.3 133.0,348.5 134.0,348.6 135.0,348.8 136.0,349.0 137.0,349.1 138.0,349.3 139.0,349.5 140.0,349.7 141.0,349.8 142.0,350.0 143.0,350.2 144.0,350.3 145.0,350.5 146.0,350.7 147.0,350.8 148.0,351.0 149.0,351.2 150.0,351.3 151.0,351.5 152.0,351.7 153.0,351.8 154.0,352.0 155.0,352.2 156.0,352.4 157.0,352.5 158.0,352.7 159.0,352.9 160.0,353.0 161.0,353.2 162.0,353.4 163.0,353.5 164.0,353.7 165.0,353.9 166.0,354.0 167.0,354.2 168.0,354.4 169.0,354.5 170.0,354.7 171.0,354.8 172.0,355.0 173.1,355.2 174.1,355.3 175.1,355.5 176.1,355.7 177.1,355.8 178.1,356.0 179.1,356.2 180.1,356.3 181.1,356.5 182.1,356.6 183.1,356.8 184.1,357.0 185.1,357.1 186.1,357.3 187.1,357.5 188.1,357.6 189.1,357.8 190.1,357.9 191.1,358.1 192.1,358.3 193.1,358.4 194.1,358.6 195.1,358.7 196.1,358.9 197.1,359.0 198.1,359.2 199.1,359.4 200.1,359.5 201.1,359.7 202.1,359.8 203.1,360.0 204.1,360.1 205.1,360.3 206.1,360.4 207.1,360.6 208.1,360.7 209.1,360.9 210.1,361.1 211.1,361.2 212.1,361.4 213.1,361.5 214.1,361.7 215.1,361.8 216.1,362.0 217.1,362.1 218.1,362.3 219.1,362.4 220.1,362.5 221.1,362.7 222.1,362.8 223.1,363.0 224.1,363.1 225.1,363.3 226.1,363.4 227.1,363.6 228.1,363.7 229.1,363.8 230.1,364.0 231.1,364.1 232.1,364.3 233.1,364.4 234.1,364.6 235.1,364.7 236.1,364.8 237.1,365.0 238.1,365.1 239.1,365.3 240.1,365.4 241.1,365.5 242.1,365.7 243.1,365.8 244.1,365.9 245.1,366.1 246.1,366.2 247.2,366.3 248.2,366.5 249.2,366.6 250.2,366.7 251.2,366.9 252.2,367.0 253.2,367.1 254.2,367.3 255.2,367.4 256.2,367.5 257.2,367.7 258.2,367.8 259.2,367.9 260.2,368.1 261.2,368.2 262.2,368.3 263.2,368.4 264.2,368.6 265.2,368.7 266.2,368.8 267.2,369.0 268.2,369.1 269.2,369.2 270.2,369.3 271.2,369.5 272.2,369.6 273.2,369.7 274.2,369.8 275.2,370.0 276.2,370.1 277.2,370.2 278.2,370.3 279.2,370.5 280.2,370.6 281.2,370.7 282.2,370.9 283.2,371.0 284.2,371.1 285.2,371.2 286.2,371.4 287.2,371.5 288.2,371.6 289.2,371.7 290.2,371.9 291.2,372.0 292.2,372.1 293.2,372.3 294.2,372.4 295.2,372.5 296.2,372.6 297.2,372.8 298.2,372.9 299.2,373.0 300.2,373.2 301.2,373.3 302.2,373.4 303.2,373.6 304.2,373.7 305.2,373.8 306.2,374.0 307.2,374.1 308.2,374.2 309.2,374.4 310.2,374.5 311.2,374.7 312.2,374.8 313.2,374.9 314.2,375.1 315.2,375.2 316.2,375.4 317.2,375.5 318.2,375.6 319.2,375.8 320.3,375.9 321.3,376.1 322.3,376.2 323.3,376.4 324.3,376.5 325.3,376.7 326.3,376.8 327.3,377.0 328.3,377.1 329.3,377.3 330.3,377.4 331.3,377.6 332.3,377.8 333.3,377.9 334.3,378.1 335.3,378.2 336.3,378.4 337.3,378.6 338.3,378.7 339.3,378.9 340.3,379.1 341.3,379.2 342.3,379.4 343.3,379.6 344.3,379.7 345.3,379.9 346.3,380.1 347.3,380.2 348.3,380.4 349.3,380.6 350.3,380.8 351.3,380.9 352.3,381.1 353.3,381.3 354.3,381.5 355.3,381.7 356.3,381.9 357.3,382.0 358.3,382.2 359.3,382.4 360.3,382.6 361.3,382.8 362.3,383.0 363.3,383.2 364.3,383.4 365.3,383.6 366.3,383.7 367.3,383.9 368.3,384.1 369.3,384.3 370.3,384.5 371.3,384.7 372.3,384.9 373.3,385.1 374.3,385.3 375.3,385.5 376.3,385.7 377.3,385.9 378.3,386.1 379.3,386.3 380.3,386.5 381.3,386.8 382.3,387.0 383.3,387.2 384.3,387.4 385.3,387.6 386.3,387.8 387.3,388.0 388.3,388.2 389.3,388.4 390.3,388.6 391.3,388.8 392.3,389.1 393.4,389.3 394.4,389.5 395.4,389.7 396.4,389.9 397.4,390.1 398.4,390.3 399.4,390.6 400.4,390.8 401.4,391.0 402.4,391.2 403.4,391.4 404.4,391.6 405.4,391.8 406.4,392.1 407.4,392.3 408.4,392.5 409.4,392.7 410.4,392.9 411.4,393.1 412.4,393.4 413.4,393.6 414.4,393.8 415.4,394.0 416.4,394.2 417.4,394.4 418.4,394.7 419.4,394.9 420.4,395.1 421.4,395.3 422.4,395.5 423.4,395.7 424.4,395.9 425.4,396.2 426.4,396.4 427.4,396.6 428.4,396.8 429.4,397.0 430.4,397.2 431.4,397.4 432.4,397.7 433.4,397.9 434.4,398.1 435.4,398.3 436.4,398.5 437.4,398.7 438.4,398.9 439.4,399.1 440.4,399.3 441.4,399.6 442.4,399.8 443.4,400.0 444.4,400.2 445.4,400.4 446.4,400.6 447.4,400.8 448.4,401.0 449.4,401.2 450.4,401.4 451.4,401.6 452.4,401.8 453.4,402.0 454.4,402.2 455.4,402.4 456.4,402.6 457.4,402.8 458.4,403.0 459.4,403.2 460.4,403.5 461.4,403.7 462.4,403.8 463.4,404.0 464.4,404.2 465.4,404.4 466.4,404.6 467.5,404.8 468.5,405.0 469.5,405.2 470.5,405.4 471.5,405.6 472.5,405.8 473.5,406.0 474.5,406.2 475.5,406.4 476.5,406.6 477.5,406.8 478.5,407.0 479.5,407.2 480.5,407.4 481.5,407.5 482.5,407.7 483.5,407.9 484.5,408.1 485.5,408.3 486.5,408.5 487.5,408.7 488.5,408.9 489.5,409.1 490.5,409.2 491.5,409.4 492.5,409.6 493.5,409.8 494.5,410.0 495.5,410.2 496.5,410.4 497.5,410.5 498.5,410.7 499.5,410.9 500.5,411.1 501.5,411.3 502.5,411.5 503.5,411.6" fill="none" stroke="#b440cc" stroke-width="1.2" stroke-linejoin="round"/><path d="M62.9,336.5 63.9,336.7 64.9,336.8 65.9,337.0 66.9,337.2 67.9,337.4 68.9,337.5 69.9,337.7 70.9,337.9 71.9,338.0 72.9,338.2 73.9,338.4 74.9,338.6 75.9,338.7 76.9,338.9 77.9,339.1 78.9,339.2 79.9,339.4 80.9,339.6 81.9,339.8 82.9,339.9 83.9,340.1 84.9,340.3 85.9,340.4 86.9,340.6 87.9,340.8 88.9,341.0 89.9,341.1 90.9,341.3 91.9,341.5 92.9,341.6 93.9,341.8 94.9,342.0 95.9,342.2 96.9,342.3 97.9,342.5 98.9,342.7 100.0,342.8 101.0,343.0 102.0,343.2 103.0,343.4 104.0,343.5 105.0,343.7 106.0,343.9 107.0,344.0 108.0,344.2 109.0,344.4 110.0,344.6 111.0,344.7 112.0,344.9 113.0,345.1 114.0,345.2 115.0,345.4 116.0,345.6 117.0,345.8 118.0,345.9 119.0,346.1 120.0,346.3 121.0,346.4 122.0,346.6 123.0,346.8 124.0,347.0 125.0,347.1 126.0,347.3 127.0,347.5 128.0,347.6 129.0,347.8 130.0,348.0 131.0,348.2 132.0,348.3 133.0,348.5 134.0,348.7 135.0,348.8 136.0,349.0 137.0,349.2 138.0,349.4 139.0,349.5 140.0,349.7 141.0,349.9 142.0,350.0 143.0,350.2 144.0,350.4 145.0,350.6 146.0,350.7 147.0,350.9 148.0,351.1 149.0,351.2 150.0,351.4 151.0,351.6 152.0,351.8 153.0,351.9 154.0,352.1 155.0,352.3 156.0,352.4 157.0,352.6 158.0,352.8 159.0,353.0 160.0,353.1 161.0,353.3 162.0,353.5 163.0,353.6 164.0,353.8 165.0,354.0 166.0,354.2 167.0,354.3 168.0,354.5 169.0,354.7 170.0,354.8 171.0,355.0 172.0,355.2 173.1,355.4 174.1,355.5 175.1,355.7 176.1,355.9 177.1,356.0 178.1,356.2 179.1,356.4 180.1,356.6 181.1,356.7 182.1,356.9 183.1,357.1 184.1,357.2 185.1,357.4 186.1,357.6 187.1,357.8 188.1,357.9 189.1,358.1 190.1,358.3 191.1,358.4 192.1,358.6 193.1,358.8 194.1,359.0 195.1,359.1 196.1,359.3 197.1,359.5 198.1,359.6 199.1,359.8 200.1,360.0 201.1,360.2 202.1,360.3 203.1,360.5 204.1,360.7 205.1,360.8 206.1,361.0 207.1,361.2 208.1,361.4 209.1,361.5 210.1,361.7 211.1,361.9 212.1,362.0 213.1,362.2 214.1,362.4 215.1,362.6 216.1,362.7 217.1,362.9 218.1,363.1 219.1,363.2 220.1,363.4 221.1,363.6 222.1,363.8 223.1,363.9 224.1,364.1 225.1,364.3 226.1,364.4 227.1,364.6 228.1,364.8 229.1,365.0 230.1,365.1 231.1,365.3 232.1,365.5 233.1,365.6 234.1,365.8 235.1,366.0 236.1,366.2 237.1,366.3 238.1,366.5 239.1,366.7 240.1,366.8 241.1,367.0 242.1,367.2 243.1,367.4 244.1,367.5 245.1,367.7 246.1,367.9 247.2,368.0 248.2,368.2 249.2,368.4 250.2,368.6 251.2,368.7 252.2,368.9 253.2,369.1 254.2,369.2 255.2,369.4 256.2,369.6 257.2,369.8 258.2,369.9 259.2,370.1 260.2,370.3 261.2,370.4 262.2,370.6 263.2,370.8 264.2,371.0 265.2,371.1 266.2,371.3 267.2,371.5 268.2,371.6 269.2,371.8 270.2,372.0 271.2,372.2 272.2,372.3 273.2,372.5 274.2,372.7 275.2,372.8 276.2,373.0 277.2,373.2 278.2,373.4 279.2,373.5 280.2,373.7 281.2,373.9 282.2,374.0 283.2,374.2 284.2,374.4 285.2,374.6 286.2,374.7 287.2,374.9 288.2,375.1 289.2,375.2 290.2,375.4 291.2,375.6 292.2,375.8 293.2,375.9 294.2,376.1 295.2,376.3 296.2,376.4 297.2,376.6 298.2,376.8 299.2,377.0 300.2,377.1 301.2,377.3 302.2,377.5 303.2,377.6 304.2,377.8 305.2,378.0 306.2,378.2 307.2,378.3 308.2,378.5 309.2,378.7 310.2,378.8 311.2,379.0 312.2,379.2 313.2,379.4 314.2,379.5 315.2,379.7 316.2,379.9 317.2,380.0 318.2,380.2 319.2,380.4 320.3,380.6 321.3,380.7 322.3,380.9 323.3,381.1 324.3,381.3 325.3,381.4 326.3,381.6 327.3,381.8 328.3,381.9 329.3,382.1 330.3,382.3 331.3,382.5 332.3,382.6 333.3,382.8 334.3,383.0 335.3,383.1 336.3,383.3 337.3,383.5 338.3,383.7 339.3,383.8 340.3,384.0 341.3,384.2 342.3,384.3 343.3,384.5 344.3,384.7 345.3,384.9 346.3,385.0 347.3,385.2 348.3,385.4 349.3,385.5 350.3,385.7 351.3,385.9 352.3,386.1 353.3,386.2 354.3,386.4 355.3,386.6 356.3,386.7 357.3,386.9 358.3,387.1 359.3,387.3 360.3,387.4 361.3,387.6 362.3,387.8 363.3,387.9 364.3,388.1 365.3,388.3 366.3,388.5 367.3,388.6 368.3,388.8 369.3,389.0 370.3,389.1 371.3,389.3 372.3,389.5 373.3,389.7 374.3,389.8 375.3,390.0 376.3,390.2 377.3,390.3 378.3,390.5 379.3,390.7 380.3,390.9 381.3,391.0 382.3,391.2 383.3,391.4 384.3,391.5 385.3,391.7 386.3,391.9 387.3,392.1 388.3,392.2 389.3,392.4 390.3,392.6 391.3,392.7 392.3,392.9 393.4,393.1 394.4,393.3 395.4,393.4 396.4,393.6 397.4,393.8 398.4,393.9 399.4,394.1 400.4,394.3 401.4,394.5 402.4,394.6 403.4,394.8 404.4,395.0 405.4,395.1 406.4,395.3 407.4,395.5 408.4,395.7 409.4,395.8 410.4,396.0 411.4,396.2 412.4,396.3 413.4,396.5 414.4,396.7 415.4,396.9 416.4,397.0 417.4,397.2 418.4,397.4 419.4,397.5 420.4,397.7 421.4,397.9 422.4,398.1 423.4,398.2 424.4,398.4 425.4,398.6 426.4,398.7 427.4,398.9 428.4,399.1 429.4,399.3 430.4,399.4 431.4,399.6 432.4,399.8 433.4,399.9 434.4,400.1 435.4,400.3 436.4,400.5 437.4,400.6 438.4,400.8 439.4,401.0 440.4,401.1 441.4,401.3 442.4,401.5 443.4,401.7 444.4,401.8 445.4,402.0 446.4,402.2 447.4,402.3 448.4,402.5 449.4,402.7 450.4,402.9 451.4,403.0 452.4,403.2 453.4,403.4 454.4,403.5 455.4,403.7 456.4,403.9 457.4,404.1 458.4,404.2 459.4,404.4 460.4,404.6 461.4,404.7 462.4,404.9 463.4,405.1 464.4,405.3 465.4,405.4 466.4,405.6 467.5,405.8 468.5,405.9 469.5,406.1 470.5,406.3 471.5,406.5 472.5,406.6 473.5,406.8 474.5,407.0 475.5,407.1 476.5,407.3 477.5,407.5 478.5,407.7 479.5,407.8 480.5,408.0 481.5,408.2 482.5,408.3 483.5,408.5 484.5,408.7 485.5,408.9 486.5,409.0 487.5,409.2 488.5,409.4 489.5,409.5 490.5,409.7 491.5,409.9 492.5,410.1 493.5,410.2 494.5,410.4 495.5,410.6 496.5,410.7 497.5,410.9 498.5,411.1 499.5,411.3 500.5,411.4 501.5,411.6 502.5,411.8 503.5,411.9" fill="none" stroke="#5c9632" stroke-width="1.2" stroke-linejoin="round"/><path d="M62.9,343.9 63.9,344.0 64.9,344.1 65.9,344.0 66.9,343.8 67.9,343.4 68.9,343.0 69.9,342.4 70.9,341.8 71.9,341.1 72.9,340.3 73.9,339.4 74.9,338.5 75.9,337.5 76.9,336.6 77.9,335.6 78.9,334.7 79.9,333.8 80.9,333.0 81.9,332.2 82.9,331.5 83.9,331.0 84.9,330.5 85.9,330.2 86.9,330.0 87.9,330.0 88.9,330.1 89.9,330.5 90.9,330.9 91.9,331.6 92.9,332.4 93.9,333.4 94.9,334.6 95.9,335.9 96.9,337.4 97.9,338.9 98.9,340.6 100.0,342.4 101.0,344.3 102.0,346.1 103.0,348.1 104.0,350.0 105.0,351.9 106.0,353.7 107.0,355.4 108.0,357.1 109.0,358.6 110.0,359.9 111.0,361.0 112.0,361.9 113.0,362.6 114.0,363.1 115.0,363.2 116.0,363.1 117.0,362.6 118.0,361.9 119.0,360.8 120.0,359.4 121.0,357.7 122.0,355.6 123.0,353.3 124.0,350.6 125.0,347.7 126.0,344.5 127.0,341.0 128.0,337.4 129.0,333.5 130.0,329.4 131.0,325.3 132.0,321.0 133.0,316.7 134.0,312.3 135.0,308.0 136.0,303.7 137.0,299.5 138.0,295.4 139.0,291.5 140.0,287.7 141.0,284.3 142.0,281.1 143.0,278.2 144.0,275.6 145.0,273.4 146.0,271.5 147.0,270.1 148.0,269.1 149.0,268.5 150.0,268.3 151.0,268.6 152.0,269.3 153.0,270.4 154.0,271.9 155.0,273.9 156.0,276.2 157.0,278.9 158.0,282.0 159.0,285.3 160.0,289.0 161.0,292.9 162.0,297.0 163.0,301.4 164.0,305.9 165.0,310.4 166.0,315.1 167.0,319.8 168.0,324.5 169.0,329.2 170.0,333.7 171.0,338.2 172.0,342.5 173.1,346.7 174.1,350.6 175.1,354.3 176.1,357.7 177.1,360.9 178.1,363.8 179.1,366.4 180.1,368.6 181.1,370.5 182.1,372.2 183.1,373.4 184.1,374.4 185.1,375.1 186.1,375.4 187.1,375.5 188.1,375.3 189.1,374.9 190.1,374.2 191.1,373.3 192.1,372.3 193.1,371.1 194.1,369.7 195.1,368.3 196.1,366.8 197.1,365.2 198.1,363.6 199.1,362.1 200.1,360.5 201.1,359.1 202.1,357.7 203.1,356.4 204.1,355.2 205.1,354.1 206.1,353.2 207.1,352.5 208.1,351.9 209.1,351.4 210.1,351.2 211.1,351.1 212.1,351.2 213.1,351.5 214.1,351.9 215.1,352.5 216.1,353.2 217.1,354.0 218.1,355.0 219.1,356.1 220.1,357.2 221.1,358.4 222.1,359.7 223.1,361.0 224.1,362.2 225.1,363.5 226.1,364.8 227.1,366.1 228.1,367.2 229.1,368.4 230.1,369.4 231.1,370.3 232.1,371.2 233.1,371.9 234.1,372.6 235.1,373.1 236.1,373.5 237.1,373.7 238.1,373.9 239.1,373.9 240.1,373.8 241.1,373.6 242.1,373.4 243.1,373.0 244.1,372.5 245.1,372.0 246.1,371.5 247.2,370.8 248.2,370.2 249.2,369.5 250.2,368.9 251.2,368.2 252.2,367.6 253.2,367.0 254.2,366.4 255.2,365.9 256.2,365.5 257.2,365.1 258.2,364.8 259.2,364.6 260.2,364.5 261.2,364.5 262.2,364.6 263.2,364.7 264.2,365.0 265.2,365.4 266.2,365.8 267.2,366.3 268.2,366.9 269.2,367.5 270.2,368.2 271.2,369.0 272.2,369.8 273.2,370.6 274.2,371.4 275.2,372.2 276.2,373.1 277.2,373.9 278.2,374.7 279.2,375.5 280.2,376.2 281.2,376.9 282.2,377.5 283.2,378.0 284.2,378.5 285.2,378.9 286.2,379.3 287.2,379.5 288.2,379.7 289.2,379.8 290.2,379.9 291.2,379.8 292.2,379.7 293.2,379.6 294.2,379.4 295.2,379.1 296.2,378.8 297.2,378.5 298.2,378.1 299.2,377.7 300.2,377.4 301.2,377.0 302.2,376.6 303.2,376.2 304.2,375.9 305.2,375.6 306.2,375.4 307.2,375.2 308.2,375.0 309.2,374.9 310.2,374.9 311.2,374.9 312.2,375.0 313.2,375.1 314.2,375.3 315.2,375.6 316.2,375.9 317.2,376.3 318.2,376.8 319.2,377.3 320.3,377.8 321.3,378.4 322.3,379.0 323.3,379.6 324.3,380.2 325.3,380.9 326.3,381.5 327.3,382.2 328.3,382.8 329.3,383.4 330.3,384.0 331.3,384.5 332.3,385.0 333.3,385.5 334.3,385.9 335.3,386.2 336.3,386.6 337.3,386.8 338.3,387.0 339.3,387.1 340.3,387.2 341.3,387.3 342.3,387.3 343.3,387.2 344.3,387.1 345.3,387.0 346.3,386.8 347.3,386.6 348.3,386.4 349.3,386.1 350.3,385.9 351.3,385.6 352.3,385.4 353.3,385.2 354.3,385.0 355.3,384.8 356.3,384.6 357.3,384.5 358.3,384.4 359.3,384.4 360.3,384.4 361.3,384.4 362.3,384.5 363.3,384.7 364.3,384.8 365.3,385.1 366.3,385.4 367.3,385.7 368.3,386.1 369.3,386.5 370.3,386.9 371.3,387.4 372.3,387.9 373.3,388.4 374.3,388.9 375.3,389.5 376.3,390.0 377.3,390.6 378.3,391.1 379.3,391.6 380.3,392.1 381.3,392.6 382.3,393.0 383.3,393.4 384.3,393.8 385.3,394.1 386.3,394.4 387.3,394.6 388.3,394.8 389.3,395.0 390.3,395.1 391.3,395.2 392.3,395.2 393.4,395.2 394.4,395.2 395.4,395.1 396.4,395.0 397.4,394.9 398.4,394.7 399.4,394.6 400.4,394.4 401.4,394.3 402.4,394.1 403.4,394.0 404.4,393.8 405.4,393.7 406.4,393.6 407.4,393.5 408.4,393.5 409.4,393.5 410.4,393.5 411.4,393.6 412.4,393.7 413.4,393.8 414.4,394.0 415.4,394.2 416.4,394.5 417.4,394.8 418.4,395.1 419.4,395.5 420.4,395.8 421.4,396.3 422.4,396.7 423.4,397.1 424.4,397.6 425.4,398.1 426.4,398.5 427.4,399.0 428.4,399.5 429.4,399.9 430.4,400.4 431.4,400.8 432.4,401.2 433.4,401.6 434.4,401.9 435.4,402.2 436.4,402.5 437.4,402.7 438.4,402.9 439.4,403.1 440.4,403.2 441.4,403.3 442.4,403.4 443.4,403.4 444.4,403.4 445.4,403.4 446.4,403.3 447.4,403.3 448.4,403.2 449.4,403.1 450.4,403.0 451.4,402.9 452.4,402.8 453.4,402.7 454.4,402.6 455.4,402.5 456.4,402.5 457.4,402.4 458.4,402.4 459.4,402.4 460.4,402.5 461.4,402.6 462.4,402.7 463.4,402.8 464.4,403.0 465.4,403.2 466.4,403.4 467.5,403.7 468.5,404.0 469.5,404.3 470.5,404.7 471.5,405.0 472.5,405.4 473.5,405.8 474.5,406.2 475.5,406.7 476.5,407.1 477.5,407.5 478.5,407.9 479.5,408.3 480.5,408.7 481.5,409.1 482.5,409.5 483.5,409.8 484.5,410.2 485.5,410.4 486.5,410.7 487.5,410.9 488.5,411.1 489.5,411.3 490.5,411.5 491.5,411.6 492.5,411.7 493.5,411.7 494.5,411.7 495.5,411.8 496.5,411.7 497.5,411.7 498.5,411.7 499.5,411.6 500.5,411.6 501.5,411.5 502.5,411.4 503.5,411.4" fill="none" stroke="#4040c4" stroke-width="1.35" stroke-dasharray="8.5,3" stroke-linejoin="round"/><path d="M62.9,336.0 63.9,336.4 64.9,336.7 65.9,337.1 66.9,337.5 67.9,337.8 68.9,338.1 69.9,338.5 70.9,338.8 71.9,339.1 72.9,339.4 73.9,339.7 74.9,339.9 75.9,340.1 76.9,340.3 77.9,340.5 78.9,340.7 79.9,340.8 80.9,340.9 81.9,340.9 82.9,341.0 83.9,341.0 84.9,341.0 85.9,341.0 86.9,340.9 87.9,340.9 88.9,340.8 89.9,340.7 90.9,340.7 91.9,340.6 92.9,340.5 93.9,340.5 94.9,340.4 95.9,340.4 96.9,340.4 97.9,340.4 98.9,340.5 100.0,340.6 101.0,340.7 102.0,340.8 103.0,341.0 104.0,341.3 105.0,341.5 106.0,341.8 107.0,342.2 108.0,342.6 109.0,343.0 110.0,343.4 111.0,343.9 112.0,344.4 113.0,344.9 114.0,345.4 115.0,345.9 116.0,346.4 117.0,346.9 118.0,347.4 119.0,347.9 120.0,348.3 121.0,348.7 122.0,349.0 123.0,349.3 124.0,349.5 125.0,349.6 126.0,349.6 127.0,349.6 128.0,349.4 129.0,349.2 130.0,348.8 131.0,348.3 132.0,347.7 133.0,347.0 134.0,346.2 135.0,345.2 136.0,344.2 137.0,343.0 138.0,341.7 139.0,340.3 140.0,338.8 141.0,337.2 142.0,335.5 143.0,333.8 144.0,332.0 145.0,330.1 146.0,328.2 147.0,326.2 148.0,324.3 149.0,322.3 150.0,320.3 151.0,318.4 152.0,316.5 153.0,314.7 154.0,312.9 155.0,311.2 156.0,309.6 157.0,308.1 158.0,306.8 159.0,305.5 160.0,304.5 161.0,303.5 162.0,302.8 163.0,302.2 164.0,301.7 165.0,301.5 166.0,301.4 167.0,301.5 168.0,301.8 169.0,302.3 170.0,303.0 171.0,303.9 172.0,304.9 173.1,306.1 174.1,307.4 175.1,308.9 176.1,310.5 177.1,312.3 178.1,314.2 179.1,316.2 180.1,318.2 181.1,320.4 182.1,322.6 183.1,324.8 184.1,327.1 185.1,329.4 186.1,331.8 187.1,334.1 188.1,336.3 189.1,338.6 190.1,340.8 191.1,342.9 192.1,345.0 193.1,347.0 194.1,348.9 195.1,350.6 196.1,352.3 197.1,353.9 198.1,355.4 199.1,356.8 200.1,358.0 201.1,359.1 202.1,360.1 203.1,361.0 204.1,361.8 205.1,362.4 206.1,363.0 207.1,363.4 208.1,363.8 209.1,364.0 210.1,364.2 211.1,364.3 212.1,364.4 213.1,364.4 214.1,364.3 215.1,364.2 216.1,364.1 217.1,363.9 218.1,363.8 219.1,363.6 220.1,363.4 221.1,363.2 222.1,363.1 223.1,363.0 224.1,362.8 225.1,362.7 226.1,362.7 227.1,362.7 228.1,362.7 229.1,362.7 230.1,362.8 231.1,363.0 232.1,363.1 233.1,363.3 234.1,363.6 235.1,363.9 236.1,364.2 237.1,364.5 238.1,364.9 239.1,365.2 240.1,365.6 241.1,366.0 242.1,366.4 243.1,366.9 244.1,367.3 245.1,367.7 246.1,368.1 247.2,368.5 248.2,368.8 249.2,369.2 250.2,369.5 251.2,369.9 252.2,370.1 253.2,370.4 254.2,370.6 255.2,370.9 256.2,371.0 257.2,371.2 258.2,371.3 259.2,371.4 260.2,371.5 261.2,371.6 262.2,371.6 263.2,371.7 264.2,371.7 265.2,371.7 266.2,371.7 267.2,371.7 268.2,371.6 269.2,371.6 270.2,371.6 271.2,371.6 272.2,371.6 273.2,371.7 274.2,371.7 275.2,371.7 276.2,371.8 277.2,371.9 278.2,372.0 279.2,372.1 280.2,372.3 281.2,372.4 282.2,372.6 283.2,372.8 284.2,373.1 285.2,373.3 286.2,373.6 287.2,373.8 288.2,374.1 289.2,374.4 290.2,374.7 291.2,375.0 292.2,375.4 293.2,375.7 294.2,376.0 295.2,376.3 296.2,376.6 297.2,376.9 298.2,377.2 299.2,377.5 300.2,377.8 301.2,378.0 302.2,378.3 303.2,378.5 304.2,378.7 305.2,378.9 306.2,379.0 307.2,379.2 308.2,379.3 309.2,379.5 310.2,379.6 311.2,379.7 312.2,379.8 313.2,379.8 314.2,379.9 315.2,380.0 316.2,380.0 317.2,380.1 318.2,380.1 319.2,380.2 320.3,380.2 321.3,380.3 322.3,380.3 323.3,380.4 324.3,380.5 325.3,380.6 326.3,380.7 327.3,380.8 328.3,380.9 329.3,381.1 330.3,381.2 331.3,381.4 332.3,381.6 333.3,381.8 334.3,382.0 335.3,382.2 336.3,382.5 337.3,382.7 338.3,383.0 339.3,383.2 340.3,383.5 341.3,383.8 342.3,384.0 343.3,384.3 344.3,384.6 345.3,384.9 346.3,385.1 347.3,385.4 348.3,385.7 349.3,385.9 350.3,386.1 351.3,386.4 352.3,386.6 353.3,386.8 354.3,387.0 355.3,387.2 356.3,387.3 357.3,387.5 358.3,387.7 359.3,387.8 360.3,387.9 361.3,388.0 362.3,388.1 363.3,388.2 364.3,388.3 365.3,388.4 366.3,388.5 367.3,388.6 368.3,388.7 369.3,388.7 370.3,388.8 371.3,388.9 372.3,389.0 373.3,389.1 374.3,389.2 375.3,389.3 376.3,389.4 377.3,389.6 378.3,389.7 379.3,389.8 380.3,390.0 381.3,390.2 382.3,390.4 383.3,390.6 384.3,390.8 385.3,391.0 386.3,391.2 387.3,391.4 388.3,391.7 389.3,391.9 390.3,392.1 391.3,392.4 392.3,392.6 393.4,392.9 394.4,393.2 395.4,393.4 396.4,393.7 397.4,393.9 398.4,394.1 399.4,394.4 400.4,394.6 401.4,394.8 402.4,395.0 403.4,395.2 404.4,395.4 405.4,395.6 406.4,395.8 407.4,395.9 408.4,396.1 409.4,396.2 410.4,396.3 411.4,396.5 412.4,396.6 413.4,396.7 414.4,396.8 415.4,396.9 416.4,397.0 417.4,397.1 418.4,397.2 419.4,397.3 420.4,397.4 421.4,397.5 422.4,397.6 423.4,397.7 424.4,397.9 425.4,398.0 426.4,398.1 427.4,398.2 428.4,398.4 429.4,398.5 430.4,398.7 431.4,398.9 432.4,399.1 433.4,399.2 434.4,399.4 435.4,399.6 436.4,399.9 437.4,400.1 438.4,400.3 439.4,400.5 440.4,400.8 441.4,401.0 442.4,401.2 443.4,401.5 444.4,401.7 445.4,402.0 446.4,402.2 447.4,402.4 448.4,402.6 449.4,402.9 450.4,403.1 451.4,403.3 452.4,403.5 453.4,403.7 454.4,403.9 455.4,404.1 456.4,404.2 457.4,404.4 458.4,404.5 459.4,404.7 460.4,404.8 461.4,405.0 462.4,405.1 463.4,405.2 464.4,405.3 465.4,405.5 466.4,405.6 467.5,405.7 468.5,405.8 469.5,405.9 470.5,406.0 471.5,406.1 472.5,406.2 473.5,406.4 474.5,406.5 475.5,406.6 476.5,406.8 477.5,406.9 478.5,407.0 479.5,407.2 480.5,407.4 481.5,407.5 482.5,407.7 483.5,407.9 484.5,408.1 485.5,408.3 486.5,408.5 487.5,408.7 488.5,408.9 489.5,409.1 490.5,409.4 491.5,409.6 492.5,409.8 493.5,410.0 494.5,410.3 495.5,410.5 496.5,410.7 497.5,411.0 498.5,411.2 499.5,411.4 500.5,411.6 501.5,411.8 502.5,412.0 503.5,412.2" fill="none" stroke="#4040c4" stroke-width="1.35" stroke-dasharray="8.5,3" stroke-linejoin="round"/><path d="M62.9,336.8 63.9,337.1 64.9,337.3 65.9,337.6 66.9,337.8 67.9,338.0 68.9,338.2 69.9,338.3 70.9,338.5 71.9,338.6 72.9,338.7 73.9,338.8 74.9,338.9 75.9,339.0 76.9,339.0 77.9,339.1 78.9,339.1 79.9,339.2 80.9,339.2 81.9,339.2 82.9,339.2 83.9,339.3 84.9,339.3 85.9,339.3 86.9,339.4 87.9,339.5 88.9,339.5 89.9,339.6 90.9,339.7 91.9,339.9 92.9,340.0 93.9,340.2 94.9,340.4 95.9,340.6 96.9,340.8 97.9,341.0 98.9,341.3 100.0,341.6 101.0,341.9 102.0,342.2 103.0,342.5 104.0,342.9 105.0,343.2 106.0,343.6 107.0,343.9 108.0,344.3 109.0,344.6 110.0,344.9 111.0,345.3 112.0,345.6 113.0,345.9 114.0,346.2 115.0,346.4 116.0,346.7 117.0,346.9 118.0,347.1 119.0,347.2 120.0,347.4 121.0,347.5 122.0,347.6 123.0,347.6 124.0,347.7 125.0,347.7 126.0,347.7 127.0,347.7 128.0,347.6 129.0,347.6 130.0,347.5 131.0,347.5 132.0,347.4 133.0,347.3 134.0,347.3 135.0,347.3 136.0,347.2 137.0,347.2 138.0,347.2 139.0,347.3 140.0,347.4 141.0,347.5 142.0,347.6 143.0,347.8 144.0,348.0 145.0,348.2 146.0,348.5 147.0,348.7 148.0,349.1 149.0,349.4 150.0,349.7 151.0,350.1 152.0,350.5 153.0,350.8 154.0,351.2 155.0,351.5 156.0,351.8 157.0,352.1 158.0,352.3 159.0,352.4 160.0,352.5 161.0,352.5 162.0,352.5 163.0,352.3 164.0,352.0 165.0,351.6 166.0,351.0 167.0,350.3 168.0,349.5 169.0,348.5 170.0,347.3 171.0,346.0 172.0,344.5 173.1,342.9 174.1,341.0 175.1,339.0 176.1,336.8 177.1,334.4 178.1,331.9 179.1,329.2 180.1,326.4 181.1,323.4 182.1,320.3 183.1,317.1 184.1,313.8 185.1,310.4 186.1,306.9 187.1,303.4 188.1,299.8 189.1,296.2 190.1,292.7 191.1,289.1 192.1,285.6 193.1,282.2 194.1,278.9 195.1,275.7 196.1,272.6 197.1,269.6 198.1,266.9 199.1,264.3 200.1,262.0 201.1,259.9 202.1,258.0 203.1,256.4 204.1,255.0 205.1,254.0 206.1,253.2 207.1,252.7 208.1,252.5 209.1,252.6 210.1,253.0 211.1,253.7 212.1,254.7 213.1,256.0 214.1,257.6 215.1,259.4 216.1,261.6 217.1,263.9 218.1,266.5 219.1,269.3 220.1,272.3 221.1,275.5 222.1,278.9 223.1,282.4 224.1,286.0 225.1,289.8 226.1,293.6 227.1,297.4 228.1,301.3 229.1,305.3 230.1,309.2 231.1,313.1 232.1,316.9 233.1,320.7 234.1,324.4 235.1,328.0 236.1,331.5 237.1,334.9 238.1,338.1 239.1,341.2 240.1,344.1 241.1,346.9 242.1,349.5 243.1,351.9 244.1,354.2 245.1,356.3 246.1,358.2 247.2,359.9 248.2,361.5 249.2,362.9 250.2,364.2 251.2,365.3 252.2,366.2 253.2,367.0 254.2,367.7 255.2,368.3 256.2,368.7 257.2,369.1 258.2,369.4 259.2,369.6 260.2,369.8 261.2,369.8 262.2,369.9 263.2,369.9 264.2,369.9 265.2,369.9 266.2,369.9 267.2,369.9 268.2,369.9 269.2,369.9 270.2,369.9 271.2,369.9 272.2,370.0 273.2,370.1 274.2,370.2 275.2,370.4 276.2,370.6 277.2,370.8 278.2,371.1 279.2,371.4 280.2,371.7 281.2,372.0 282.2,372.4 283.2,372.7 284.2,373.1 285.2,373.5 286.2,373.9 287.2,374.3 288.2,374.7 289.2,375.1 290.2,375.5 291.2,375.9 292.2,376.2 293.2,376.6 294.2,376.9 295.2,377.2 296.2,377.5 297.2,377.7 298.2,377.9 299.2,378.1 300.2,378.3 301.2,378.4 302.2,378.5 303.2,378.6 304.2,378.7 305.2,378.7 306.2,378.8 307.2,378.8 308.2,378.8 309.2,378.8 310.2,378.8 311.2,378.8 312.2,378.8 313.2,378.8 314.2,378.8 315.2,378.8 316.2,378.8 317.2,378.8 318.2,378.9 319.2,379.0 320.3,379.1 321.3,379.2 322.3,379.3 323.3,379.4 324.3,379.6 325.3,379.8 326.3,380.0 327.3,380.2 328.3,380.5 329.3,380.7 330.3,381.0 331.3,381.3 332.3,381.6 333.3,381.9 334.3,382.2 335.3,382.5 336.3,382.8 337.3,383.2 338.3,383.5 339.3,383.8 340.3,384.1 341.3,384.4 342.3,384.6 343.3,384.9 344.3,385.2 345.3,385.4 346.3,385.6 347.3,385.8 348.3,386.0 349.3,386.2 350.3,386.3 351.3,386.5 352.3,386.6 353.3,386.7 354.3,386.8 355.3,386.9 356.3,386.9 357.3,387.0 358.3,387.0 359.3,387.1 360.3,387.2 361.3,387.2 362.3,387.3 363.3,387.3 364.3,387.4 365.3,387.4 366.3,387.5 367.3,387.6 368.3,387.7 369.3,387.8 370.3,387.9 371.3,388.1 372.3,388.2 373.3,388.4 374.3,388.5 375.3,388.7 376.3,388.9 377.3,389.2 378.3,389.4 379.3,389.6 380.3,389.9 381.3,390.1 382.3,390.4 383.3,390.7 384.3,390.9 385.3,391.2 386.3,391.5 387.3,391.8 388.3,392.0 389.3,392.3 390.3,392.6 391.3,392.8 392.3,393.1 393.4,393.3 394.4,393.5 395.4,393.7 396.4,393.9 397.4,394.1 398.4,394.3 399.4,394.5 400.4,394.6 401.4,394.8 402.4,394.9 403.4,395.0 404.4,395.1 405.4,395.2 406.4,395.3 407.4,395.4 408.4,395.5 409.4,395.6 410.4,395.7 411.4,395.7 412.4,395.8 413.4,395.9 414.4,396.0 415.4,396.1 416.4,396.2 417.4,396.3 418.4,396.4 419.4,396.5 420.4,396.7 421.4,396.8 422.4,397.0 423.4,397.1 424.4,397.3 425.4,397.5 426.4,397.7 427.4,397.9 428.4,398.1 429.4,398.4 430.4,398.6 431.4,398.8 432.4,399.1 433.4,399.3 434.4,399.6 435.4,399.8 436.4,400.1 437.4,400.3 438.4,400.6 439.4,400.8 440.4,401.1 441.4,401.3 442.4,401.5 443.4,401.8 444.4,402.0 445.4,402.2 446.4,402.4 447.4,402.5 448.4,402.7 449.4,402.9 450.4,403.0 451.4,403.2 452.4,403.3 453.4,403.5 454.4,403.6 455.4,403.7 456.4,403.8 457.4,403.9 458.4,404.0 459.4,404.1 460.4,404.2 461.4,404.3 462.4,404.4 463.4,404.5 464.4,404.6 465.4,404.7 466.4,404.8 467.5,405.0 468.5,405.1 469.5,405.2 470.5,405.4 471.5,405.5 472.5,405.7 473.5,405.8 474.5,406.0 475.5,406.2 476.5,406.4 477.5,406.6 478.5,406.8 479.5,407.0 480.5,407.2 481.5,407.5 482.5,407.7 483.5,407.9 484.5,408.2 485.5,408.4 486.5,408.7 487.5,408.9 488.5,409.1 489.5,409.4 490.5,409.6 491.5,409.8 492.5,410.0 493.5,410.2 494.5,410.4 495.5,410.6 496.5,410.8 497.5,411.0 498.5,411.2 499.5,411.4 500.5,411.5 501.5,411.7 502.5,411.8 503.5,411.9" fill="none" stroke="#c4303a" stroke-width="1.2" stroke-linejoin="round"/><path d="M62.9,335.4 63.9,335.5 64.9,335.7 65.9,335.8 66.9,336.0 67.9,336.2 68.9,336.4 69.9,336.6 70.9,336.8 71.9,337.0 72.9,337.3 73.9,337.5 74.9,337.8 75.9,338.1 76.9,338.3 77.9,338.6 78.9,338.9 79.9,339.2 80.9,339.4 81.9,339.7 82.9,340.0 83.9,340.2 84.9,340.5 85.9,340.8 86.9,341.0 87.9,341.2 88.9,341.4 89.9,341.6 90.9,341.8 91.9,342.0 92.9,342.2 93.9,342.3 94.9,342.4 95.9,342.6 96.9,342.7 97.9,342.8 98.9,342.8 100.0,342.9 101.0,343.0 102.0,343.0 103.0,343.1 104.0,343.2 105.0,343.2 106.0,343.3 107.0,343.3 108.0,343.4 109.0,343.5 110.0,343.5 111.0,343.6 112.0,343.7 113.0,343.8 114.0,343.9 115.0,344.1 116.0,344.2 117.0,344.4 118.0,344.6 119.0,344.8 120.0,345.0 121.0,345.2 122.0,345.5 123.0,345.7 124.0,346.0 125.0,346.3 126.0,346.6 127.0,346.9 128.0,347.2 129.0,347.5 130.0,347.8 131.0,348.1 132.0,348.4 133.0,348.7 134.0,349.0 135.0,349.2 136.0,349.5 137.0,349.8 138.0,350.0 139.0,350.2 140.0,350.4 141.0,350.6 142.0,350.8 143.0,351.0 144.0,351.1 145.0,351.2 146.0,351.3 147.0,351.4 148.0,351.5 149.0,351.5 150.0,351.6 151.0,351.6 152.0,351.7 153.0,351.7 154.0,351.7 155.0,351.7 156.0,351.7 157.0,351.8 158.0,351.8 159.0,351.8 160.0,351.9 161.0,351.9 162.0,352.0 163.0,352.1 164.0,352.2 165.0,352.4 166.0,352.5 167.0,352.7 168.0,352.9 169.0,353.1 170.0,353.3 171.0,353.6 172.0,353.8 173.1,354.1 174.1,354.4 175.1,354.7 176.1,355.1 177.1,355.4 178.1,355.7 179.1,356.1 180.1,356.4 181.1,356.8 182.1,357.1 183.1,357.5 184.1,357.8 185.1,358.1 186.1,358.4 187.1,358.7 188.1,358.9 189.1,359.2 190.1,359.4 191.1,359.6 192.1,359.8 193.1,359.9 194.1,360.0 195.1,360.1 196.1,360.2 197.1,360.3 198.1,360.3 199.1,360.3 200.1,360.3 201.1,360.3 202.1,360.3 203.1,360.2 204.1,360.2 205.1,360.1 206.1,360.1 207.1,360.1 208.1,360.0 209.1,360.0 210.1,360.0 211.1,360.1 212.1,360.1 213.1,360.2 214.1,360.3 215.1,360.4 216.1,360.5 217.1,360.7 218.1,360.9 219.1,361.2 220.1,361.4 221.1,361.7 222.1,362.1 223.1,362.4 224.1,362.8 225.1,363.2 226.1,363.6 227.1,364.0 228.1,364.4 229.1,364.9 230.1,365.3 231.1,365.7 232.1,366.2 233.1,366.6 234.1,367.0 235.1,367.3 236.1,367.7 237.1,368.0 238.1,368.3 239.1,368.6 240.1,368.8 241.1,369.0 242.1,369.1 243.1,369.2 244.1,369.3 245.1,369.3 246.1,369.3 247.2,369.2 248.2,369.2 249.2,369.1 250.2,368.9 251.2,368.8 252.2,368.6 253.2,368.5 254.2,368.3 255.2,368.1 256.2,368.0 257.2,367.8 258.2,367.7 259.2,367.6 260.2,367.5 261.2,367.4 262.2,367.4 263.2,367.5 264.2,367.6 265.2,367.7 266.2,367.9 267.2,368.2 268.2,368.5 269.2,368.8 270.2,369.2 271.2,369.7 272.2,370.2 273.2,370.7 274.2,371.3 275.2,371.9 276.2,372.4 277.2,373.0 278.2,373.6 279.2,374.2 280.2,374.7 281.2,375.2 282.2,375.7 283.2,376.1 284.2,376.3 285.2,376.5 286.2,376.6 287.2,376.5 288.2,376.4 289.2,376.0 290.2,375.5 291.2,374.8 292.2,374.0 293.2,373.0 294.2,371.7 295.2,370.3 296.2,368.6 297.2,366.8 298.2,364.7 299.2,362.5 300.2,360.0 301.2,357.4 302.2,354.6 303.2,351.6 304.2,348.4 305.2,345.1 306.2,341.6 307.2,338.1 308.2,334.4 309.2,330.7 310.2,326.9 311.2,323.1 312.2,319.2 313.2,315.4 314.2,311.6 315.2,307.9 316.2,304.3 317.2,300.8 318.2,297.4 319.2,294.2 320.3,291.2 321.3,288.4 322.3,285.8 323.3,283.5 324.3,281.4 325.3,279.7 326.3,278.2 327.3,277.0 328.3,276.2 329.3,275.6 330.3,275.4 331.3,275.6 332.3,276.1 333.3,276.9 334.3,278.0 335.3,279.5 336.3,281.2 337.3,283.3 338.3,285.6 339.3,288.3 340.3,291.1 341.3,294.3 342.3,297.6 343.3,301.1 344.3,304.8 345.3,308.6 346.3,312.5 347.3,316.6 348.3,320.7 349.3,324.9 350.3,329.0 351.3,333.2 352.3,337.3 353.3,341.4 354.3,345.4 355.3,349.4 356.3,353.2 357.3,356.9 358.3,360.4 359.3,363.8 360.3,367.0 361.3,370.0 362.3,372.8 363.3,375.5 364.3,377.9 365.3,380.1 366.3,382.1 367.3,384.0 368.3,385.6 369.3,387.0 370.3,388.2 371.3,389.3 372.3,390.1 373.3,390.8 374.3,391.4 375.3,391.8 376.3,392.1 377.3,392.3 378.3,392.4 379.3,392.4 380.3,392.3 381.3,392.1 382.3,391.9 383.3,391.7 384.3,391.5 385.3,391.2 386.3,391.0 387.3,390.7 388.3,390.5 389.3,390.3 390.3,390.1 391.3,390.0 392.3,390.0 393.4,389.9 394.4,390.0 395.4,390.1 396.4,390.2 397.4,390.4 398.4,390.6 399.4,390.9 400.4,391.2 401.4,391.6 402.4,392.0 403.4,392.5 404.4,392.9 405.4,393.4 406.4,393.9 407.4,394.5 408.4,395.0 409.4,395.5 410.4,396.0 411.4,396.5 412.4,397.0 413.4,397.4 414.4,397.8 415.4,398.2 416.4,398.6 417.4,398.9 418.4,399.2 419.4,399.4 420.4,399.6 421.4,399.8 422.4,399.9 423.4,400.0 424.4,400.1 425.4,400.1 426.4,400.1 427.4,400.1 428.4,400.0 429.4,400.0 430.4,399.9 431.4,399.8 432.4,399.7 433.4,399.6 434.4,399.5 435.4,399.5 436.4,399.4 437.4,399.3 438.4,399.3 439.4,399.3 440.4,399.3 441.4,399.4 442.4,399.4 443.4,399.5 444.4,399.6 445.4,399.8 446.4,400.0 447.4,400.2 448.4,400.5 449.4,400.7 450.4,401.0 451.4,401.3 452.4,401.7 453.4,402.0 454.4,402.4 455.4,402.8 456.4,403.1 457.4,403.5 458.4,403.9 459.4,404.3 460.4,404.6 461.4,405.0 462.4,405.4 463.4,405.7 464.4,406.0 465.4,406.3 466.4,406.6 467.5,406.8 468.5,407.1 469.5,407.3 470.5,407.4 471.5,407.6 472.5,407.7 473.5,407.8 474.5,407.9 475.5,408.0 476.5,408.0 477.5,408.1 478.5,408.1 479.5,408.1 480.5,408.1 481.5,408.1 482.5,408.1 483.5,408.1 484.5,408.1 485.5,408.1 486.5,408.1 487.5,408.1 488.5,408.2 489.5,408.2 490.5,408.3 491.5,408.4 492.5,408.5 493.5,408.6 494.5,408.7 495.5,408.9 496.5,409.1 497.5,409.3 498.5,409.5 499.5,409.8 500.5,410.1 501.5,410.3 502.5,410.6 503.5,410.9" fill="none" stroke="#46853a" stroke-width="1.35" stroke-dasharray="8.5,3" stroke-linejoin="round"/><path d="M62.9,336.1 63.9,336.2 64.9,336.4 65.9,336.6 66.9,336.7 67.9,336.9 68.9,337.1 69.9,337.3 70.9,337.4 71.9,337.6 72.9,337.8 73.9,337.9 74.9,338.1 75.9,338.3 76.9,338.5 77.9,338.6 78.9,338.8 79.9,339.0 80.9,339.1 81.9,339.3 82.9,339.5 83.9,339.7 84.9,339.8 85.9,340.0 86.9,340.2 87.9,340.3 88.9,340.5 89.9,340.7 90.9,340.9 91.9,341.0 92.9,341.2 93.9,341.4 94.9,341.5 95.9,341.7 96.9,341.9 97.9,342.1 98.9,342.2 100.0,342.4 101.0,342.6 102.0,342.7 103.0,342.9 104.0,343.1 105.0,343.3 106.0,343.4 107.0,343.6 108.0,343.8 109.0,343.9 110.0,344.1 111.0,344.3 112.0,344.5 113.0,344.6 114.0,344.8 115.0,345.0 116.0,345.1 117.0,345.3 118.0,345.5 119.0,345.7 120.0,345.8 121.0,346.0 122.0,346.2 123.0,346.3 124.0,346.5 125.0,346.7 126.0,346.9 127.0,347.0 128.0,347.2 129.0,347.4 130.0,347.5 131.0,347.7 132.0,347.9 133.0,348.1 134.0,348.2 135.0,348.4 136.0,348.6 137.0,348.7 138.0,348.9 139.0,349.1 140.0,349.3 141.0,349.4 142.0,349.6 143.0,349.8 144.0,349.9 145.0,350.1 146.0,350.3 147.0,350.5 148.0,350.6 149.0,350.8 150.0,351.0 151.0,351.1 152.0,351.3 153.0,351.5 154.0,351.7 155.0,351.8 156.0,352.0 157.0,352.2 158.0,352.3 159.0,352.5 160.0,352.7 161.0,352.9 162.0,353.0 163.0,353.2 164.0,353.4 165.0,353.5 166.0,353.7 167.0,353.9 168.0,354.1 169.0,354.2 170.0,354.4 171.0,354.6 172.0,354.7 173.1,354.9 174.1,355.1 175.1,355.3 176.1,355.4 177.1,355.6 178.1,355.8 179.1,355.9 180.1,356.1 181.1,356.3 182.1,356.5 183.1,356.6 184.1,356.8 185.1,357.0 186.1,357.1 187.1,357.3 188.1,357.5 189.1,357.7 190.1,357.8 191.1,358.0 192.1,358.2 193.1,358.3 194.1,358.5 195.1,358.7 196.1,358.8 197.1,359.0 198.1,359.2 199.1,359.4 200.1,359.5 201.1,359.7 202.1,359.9 203.1,360.0 204.1,360.2 205.1,360.4 206.1,360.5 207.1,360.7 208.1,360.9 209.1,361.0 210.1,361.2 211.1,361.4 212.1,361.5 213.1,361.7 214.1,361.9 215.1,362.0 216.1,362.2 217.1,362.4 218.1,362.5 219.1,362.7 220.1,362.8 221.1,363.0 222.1,363.2 223.1,363.3 224.1,363.5 225.1,363.6 226.1,363.8 227.1,363.9 228.1,364.1 229.1,364.2 230.1,364.4 231.1,364.5 232.1,364.7 233.1,364.8 234.1,364.9 235.1,365.1 236.1,365.2 237.1,365.3 238.1,365.5 239.1,365.6 240.1,365.7 241.1,365.8 242.1,365.9 243.1,366.0 244.1,366.1 245.1,366.2 246.1,366.3 247.2,366.4 248.2,366.5 249.2,366.6 250.2,366.7 251.2,366.7 252.2,366.8 253.2,366.8 254.2,366.9 255.2,366.9 256.2,366.9 257.2,366.9 258.2,367.0 259.2,367.0 260.2,366.9 261.2,366.9 262.2,366.9 263.2,366.9 264.2,366.8 265.2,366.7 266.2,366.7 267.2,366.6 268.2,366.5 269.2,366.4 270.2,366.2 271.2,366.1 272.2,365.9 273.2,365.8 274.2,365.6 275.2,365.4 276.2,365.2 277.2,364.9 278.2,364.7 279.2,364.4 280.2,364.1 281.2,363.8 282.2,363.5 283.2,363.2 284.2,362.9 285.2,362.5 286.2,362.1 287.2,361.7 288.2,361.3 289.2,360.8 290.2,360.4 291.2,359.9 292.2,359.4 293.2,358.9 294.2,358.4 295.2,357.9 296.2,357.3 297.2,356.7 298.2,356.1 299.2,355.5 300.2,354.9 301.2,354.3 302.2,353.6 303.2,353.0 304.2,352.3 305.2,351.6 306.2,350.9 307.2,350.2 308.2,349.5 309.2,348.8 310.2,348.1 311.2,347.4 312.2,346.6 313.2,345.9 314.2,345.2 315.2,344.4 316.2,343.7 317.2,343.0 318.2,342.2 319.2,341.5 320.3,340.8 321.3,340.1 322.3,339.4 323.3,338.7 324.3,338.0 325.3,337.3 326.3,336.7 327.3,336.0 328.3,335.4 329.3,334.8 330.3,334.2 331.3,333.7 332.3,333.1 333.3,332.6 334.3,332.1 335.3,331.7 336.3,331.2 337.3,330.8 338.3,330.5 339.3,330.1 340.3,329.8 341.3,329.5 342.3,329.3 343.3,329.1 344.3,328.9 345.3,328.8 346.3,328.7 347.3,328.6 348.3,328.6 349.3,328.6 350.3,328.7 351.3,328.8 352.3,328.9 353.3,329.1 354.3,329.4 355.3,329.7 356.3,330.1 357.3,330.5 358.3,331.0 359.3,331.6 360.3,332.2 361.3,332.9 362.3,333.7 363.3,334.5 364.3,335.4 365.3,336.3 366.3,337.3 367.3,338.3 368.3,339.3 369.3,340.4 370.3,341.6 371.3,342.8 372.3,344.0 373.3,345.2 374.3,346.5 375.3,347.7 376.3,349.1 377.3,350.4 378.3,351.7 379.3,353.1 380.3,354.4 381.3,355.8 382.3,357.1 383.3,358.5 384.3,359.8 385.3,361.2 386.3,362.5 387.3,363.8 388.3,365.2 389.3,366.5 390.3,367.7 391.3,369.0 392.3,370.2 393.4,371.4 394.4,372.6 395.4,373.8 396.4,374.9 397.4,376.0 398.4,377.1 399.4,378.2 400.4,379.2 401.4,380.2 402.4,381.1 403.4,382.1 404.4,383.0 405.4,383.8 406.4,384.7 407.4,385.5 408.4,386.3 409.4,387.0 410.4,387.7 411.4,388.4 412.4,389.1 413.4,389.8 414.4,390.4 415.4,391.0 416.4,391.5 417.4,392.1 418.4,392.6 419.4,393.1 420.4,393.6 421.4,394.1 422.4,394.5 423.4,394.9 424.4,395.3 425.4,395.7 426.4,396.1 427.4,396.5 428.4,396.8 429.4,397.2 430.4,397.5 431.4,397.8 432.4,398.1 433.4,398.4 434.4,398.7 435.4,398.9 436.4,399.2 437.4,399.5 438.4,399.7 439.4,400.0 440.4,400.2 441.4,400.4 442.4,400.7 443.4,400.9 444.4,401.1 445.4,401.3 446.4,401.5 447.4,401.7 448.4,401.9 449.4,402.1 450.4,402.3 451.4,402.5 452.4,402.7 453.4,402.9 454.4,403.1 455.4,403.3 456.4,403.4 457.4,403.6 458.4,403.8 459.4,404.0 460.4,404.2 461.4,404.3 462.4,404.5 463.4,404.7 464.4,404.9 465.4,405.0 466.4,405.2 467.5,405.4 468.5,405.6 469.5,405.7 470.5,405.9 471.5,406.1 472.5,406.3 473.5,406.4 474.5,406.6 475.5,406.8 476.5,407.0 477.5,407.1 478.5,407.3 479.5,407.5 480.5,407.6 481.5,407.8 482.5,408.0 483.5,408.2 484.5,408.3 485.5,408.5 486.5,408.7 487.5,408.9 488.5,409.0 489.5,409.2 490.5,409.4 491.5,409.5 492.5,409.7 493.5,409.9 494.5,410.1 495.5,410.2 496.5,410.4 497.5,410.6 498.5,410.7 499.5,410.9 500.5,411.1 501.5,411.3 502.5,411.4 503.5,411.6" fill="none" stroke="#46853a" stroke-width="1.35" stroke-dasharray="8.5,3" stroke-linejoin="round"/><path d="M62.9,342.3 63.9,342.6 64.9,342.9 65.9,343.0 66.9,343.0 67.9,342.9 68.9,342.7 69.9,342.3 70.9,341.9 71.9,341.3 72.9,340.7 73.9,340.0 74.9,339.2 75.9,338.4 76.9,337.5 77.9,336.7 78.9,335.8 79.9,335.0 80.9,334.2 81.9,333.5 82.9,332.8 83.9,332.2 84.9,331.7 85.9,331.3 86.9,331.0 87.9,330.9 88.9,330.8 89.9,330.8 90.9,331.0 91.9,331.3 92.9,331.8 93.9,332.4 94.9,333.1 95.9,334.1 96.9,335.1 97.9,336.4 98.9,337.8 100.0,339.3 101.0,341.0 102.0,342.7 103.0,344.6 104.0,346.5 105.0,348.5 106.0,350.4 107.0,352.4 108.0,354.3 109.0,356.0 110.0,357.7 111.0,359.2 112.0,360.5 113.0,361.7 114.0,362.6 115.0,363.3 116.0,363.6 117.0,363.7 118.0,363.3 119.0,362.6 120.0,361.4 121.0,359.8 122.0,357.8 123.0,355.5 124.0,352.8 125.0,349.9 126.0,346.7 127.0,343.3 128.0,339.8 129.0,335.9 130.0,331.7 131.0,327.0 132.0,321.8 133.0,315.9 134.0,309.5 135.0,302.8 136.0,296.2 137.0,290.1 138.0,284.7 139.0,280.0 140.0,276.0 141.0,272.3 142.0,268.8 143.0,265.2 144.0,261.4 145.0,257.3 146.0,253.1 147.0,248.9 148.0,245.1 149.0,241.8 150.0,239.1 151.0,237.1 152.0,235.5 153.0,234.5 154.0,233.9 155.0,233.7 156.0,233.8 157.0,234.3 158.0,235.1 159.0,236.4 160.0,238.1 161.0,240.3 162.0,242.9 163.0,245.9 164.0,249.3 165.0,253.0 166.0,256.8 167.0,260.8 168.0,264.8 169.0,268.8 170.0,272.7 171.0,276.5 172.0,280.0 173.1,283.3 174.1,286.3 175.1,288.9 176.1,291.2 177.1,293.2 178.1,294.9 179.1,296.4 180.1,297.6 181.1,298.6 182.1,299.3 183.1,299.6 184.1,299.7 185.1,299.3 186.1,298.6 187.1,297.4 188.1,295.7 189.1,293.6 190.1,291.2 191.1,288.4 192.1,285.3 193.1,282.1 194.1,278.8 195.1,275.3 196.1,271.9 197.1,268.5 198.1,265.2 199.1,262.0 200.1,259.0 201.1,256.2 202.1,253.6 203.1,251.3 204.1,249.2 205.1,247.4 206.1,245.9 207.1,244.7 208.1,243.8 209.1,243.3 210.1,243.2 211.1,243.5 212.1,244.2 213.1,245.3 214.1,246.8 215.1,248.7 216.1,251.1 217.1,253.9 218.1,257.1 219.1,260.8 220.1,264.9 221.1,269.5 222.1,274.6 223.1,280.1 224.1,285.9 225.1,291.7 226.1,297.3 227.1,302.5 228.1,307.2 229.1,311.4 230.1,315.5 231.1,319.5 232.1,323.7 233.1,327.8 234.1,332.1 235.1,336.2 236.1,340.3 237.1,344.2 238.1,347.9 239.1,351.3 240.1,354.4 241.1,357.0 242.1,359.2 243.1,361.0 244.1,362.3 245.1,363.3 246.1,363.9 247.2,364.3 248.2,364.4 249.2,364.2 250.2,363.9 251.2,363.5 252.2,362.9 253.2,362.3 254.2,361.6 255.2,360.9 256.2,360.3 257.2,359.7 258.2,359.1 259.2,358.6 260.2,358.2 261.2,357.8 262.2,357.5 263.2,357.2 264.2,357.0 265.2,356.9 266.2,356.9 267.2,356.9 268.2,357.1 269.2,357.3 270.2,357.6 271.2,358.1 272.2,358.6 273.2,359.3 274.2,360.0 275.2,360.9 276.2,361.9 277.2,363.0 278.2,364.1 279.2,365.3 280.2,366.4 281.2,367.5 282.2,368.4 283.2,369.3 284.2,370.0 285.2,370.5 286.2,370.8 287.2,370.8 288.2,370.5 289.2,369.9 290.2,369.0 291.2,367.6 292.2,365.9 293.2,363.9 294.2,361.5 295.2,358.9 296.2,355.9 297.2,352.7 298.2,349.2 299.2,345.6 300.2,341.7 301.2,337.6 302.2,333.4 303.2,329.1 304.2,324.6 305.2,320.0 306.2,315.2 307.2,310.3 308.2,305.1 309.2,299.6 310.2,293.9 311.2,288.1 312.2,282.4 313.2,276.7 314.2,271.3 315.2,266.2 316.2,261.4 317.2,256.8 318.2,252.5 319.2,248.6 320.3,244.9 321.3,241.6 322.3,238.5 323.3,235.8 324.3,233.4 325.3,231.3 326.3,229.5 327.3,228.0 328.3,226.9 329.3,226.1 330.3,225.7 331.3,225.6 332.3,225.8 333.3,226.4 334.3,227.3 335.3,228.6 336.3,230.2 337.3,232.1 338.3,234.4 339.3,237.1 340.3,240.1 341.3,243.4 342.3,246.9 343.3,250.5 344.3,254.1 345.3,257.5 346.3,260.6 347.3,263.3 348.3,265.9 349.3,268.5 350.3,271.4 351.3,274.6 352.3,278.5 353.3,282.8 354.3,287.0 355.3,290.6 356.3,293.6 357.3,296.6 358.3,299.8 359.3,303.0 360.3,306.2 361.3,309.2 362.3,312.3 363.3,315.2 364.3,318.1 365.3,321.0 366.3,323.8 367.3,326.5 368.3,329.1 369.3,331.7 370.3,334.2 371.3,336.6 372.3,339.0 373.3,341.3 374.3,343.5 375.3,345.6 376.3,347.6 377.3,349.6 378.3,351.4 379.3,353.2 380.3,355.0 381.3,356.6 382.3,358.2 383.3,359.7 384.3,361.1 385.3,362.5 386.3,363.9 387.3,365.2 388.3,366.4 389.3,367.6 390.3,368.7 391.3,369.8 392.3,370.9 393.4,371.9 394.4,372.9 395.4,373.9 396.4,374.8 397.4,375.7 398.4,376.6 399.4,377.4 400.4,378.3 401.4,379.1 402.4,380.0 403.4,380.8 404.4,381.6 405.4,382.4 406.4,383.2 407.4,384.0 408.4,384.8 409.4,385.6 410.4,386.5 411.4,387.2 412.4,388.0 413.4,388.8 414.4,389.6 415.4,390.3 416.4,391.0 417.4,391.7 418.4,392.4 419.4,393.1 420.4,393.7 421.4,394.3 422.4,394.9 423.4,395.5 424.4,396.0 425.4,396.5 426.4,396.9 427.4,397.4 428.4,397.8 429.4,398.2 430.4,398.6 431.4,399.0 432.4,399.3 433.4,399.6 434.4,399.9 435.4,400.2 436.4,400.5 437.4,400.8 438.4,401.0 439.4,401.2 440.4,401.5 441.4,401.7 442.4,401.9 443.4,402.1 444.4,402.2 445.4,402.4 446.4,402.6 447.4,402.7 448.4,402.9 449.4,403.0 450.4,403.1 451.4,403.3 452.4,403.4 453.4,403.5 454.4,403.7 455.4,403.8 456.4,403.9 457.4,404.1 458.4,404.2 459.4,404.3 460.4,404.5 461.4,404.6 462.4,404.8 463.4,404.9 464.4,405.1 465.4,405.2 466.4,405.4 467.5,405.6 468.5,405.8 469.5,406.0 470.5,406.2 471.5,406.5 472.5,406.7 473.5,407.0 474.5,407.2 475.5,407.5 476.5,407.7 477.5,408.0 478.5,408.3 479.5,408.5 480.5,408.8 481.5,409.1 482.5,409.3 483.5,409.6 484.5,409.9 485.5,410.1 486.5,410.3 487.5,410.6 488.5,410.8 489.5,411.0 490.5,411.2 491.5,411.4 492.5,411.6 493.5,411.7 494.5,411.9 495.5,412.0 496.5,412.1 497.5,412.2 498.5,412.2 499.5,412.3 500.5,412.3 501.5,412.3 502.5,412.3 503.5,412.2" fill="none" stroke="#000" stroke-width="1.5" stroke-linejoin="round"/><path d="M96.7,397.4 98.2,397.8 99.7,398.1 101.2,398.4 102.7,398.7 104.2,398.9 105.7,399.0 107.2,399.1 108.7,399.2 110.2,399.3 111.7,399.3 113.2,399.3 114.7,399.4 116.2,399.3 117.7,399.3 119.2,399.3 120.7,399.3 122.2,399.3 123.7,399.3 125.2,399.3 126.7,399.3 128.2,399.2 129.7,399.2 131.2,399.2 132.7,399.2 134.2,399.2 135.7,399.2 137.2,399.1 138.7,399.1 140.2,399.1 141.7,399.1 143.2,399.1 144.7,399.1 146.2,399.0 147.7,399.0 149.2,399.0 150.7,399.0 152.2,399.0 153.7,399.0 155.2,398.9 156.7,398.9 158.2,398.9 159.7,398.9 161.2,398.9 162.7,398.9 164.1,398.9 165.6,398.9 167.1,398.9 168.6,398.9 170.1,398.9 171.6,398.9 173.1,398.9 174.6,398.9 176.1,398.9 177.6,398.9 179.1,398.9 180.6,398.9 182.1,398.9 183.6,398.9 185.1,398.9 186.6,398.9 188.1,398.9 189.6,398.9 191.1,398.9 192.6,398.9 194.1,398.9 195.6,398.9 197.1,398.9 198.6,399.0 200.1,399.0 201.6,399.0 203.1,399.0 204.6,399.0 206.1,399.0 207.6,399.0 209.1,399.0 210.6,399.0 212.1,399.0 213.6,399.0 215.1,399.1 216.6,399.1 218.1,399.1 219.6,399.1 221.1,399.1 222.6,399.1 224.1,399.1 225.6,399.1 227.1,399.1 228.6,399.1 230.1,399.1 231.6,399.1 233.1,399.2 234.6,399.2 236.1,399.2 237.6,399.2 239.1,399.2 240.6,399.2 242.1,399.2 243.6,399.2 245.1,399.2 246.6,399.2 248.1,399.2 249.6,399.2 251.1,399.2 252.6,399.2 254.1,399.2 255.6,399.2 257.1,399.2 258.6,399.2 260.1,399.2 261.6,399.2 263.1,399.2 264.6,399.2 266.1,399.2 267.6,399.2 269.1,399.2 270.6,399.2 272.1,399.2 273.6,399.2 275.1,399.2 276.6,399.2 278.1,399.2 279.6,399.2 281.1,399.2 282.6,399.2 284.1,399.2 285.6,399.2 287.1,399.2 288.6,399.2 290.1,399.2 291.6,399.2 293.1,399.2 294.6,399.2 296.0,399.2 297.5,399.2 299.0,399.3 300.5,399.3 302.0,399.3 303.5,399.3 305.0,399.3 306.5,399.3 308.0,399.3 309.5,399.3 311.0,399.3 312.5,399.3 314.0,399.3 315.5,399.3 317.0,399.3 318.5,399.3 320.0,399.3 321.5,399.3 323.0,399.3 324.5,399.3 326.0,399.3 327.5,399.4 329.0,399.4 330.5,399.4 332.0,399.4 333.5,399.4 335.0,399.4 336.5,399.4 338.0,399.4 339.5,399.4 341.0,399.4 342.5,399.4 344.0,399.4 345.5,399.3 347.0,399.2 348.5,399.0 350.0,398.7 351.5,398.4 353.0,398.0 354.5,397.5 356.0,396.9 357.5,396.2 359.0,395.4 360.5,394.4 362.0,393.3" fill="none" stroke="#8fe05a" stroke-width="1.7" stroke-linejoin="round"/><g fill="#000"><circle cx="63.0" cy="343.2" r="1.85"/><circle cx="65.8" cy="344.0" r="1.85"/><circle cx="68.5" cy="343.5" r="1.85"/><circle cx="71.2" cy="341.9" r="1.85"/><circle cx="73.9" cy="339.5" r="1.85"/><circle cx="76.6" cy="336.7" r="1.85"/><circle cx="79.3" cy="333.8" r="1.85"/><circle cx="82.0" cy="331.1" r="1.85"/><circle cx="84.7" cy="328.9" r="1.85"/><circle cx="87.4" cy="327.4" r="1.85"/><circle cx="90.1" cy="327.2" r="1.85"/><circle cx="92.8" cy="328.3" r="1.85"/><circle cx="95.5" cy="331.2" r="1.85"/><circle cx="98.2" cy="335.5" r="1.85"/><circle cx="100.9" cy="340.9" r="1.85"/><circle cx="103.6" cy="346.7" r="1.85"/><circle cx="106.3" cy="352.4" r="1.85"/><circle cx="109.0" cy="357.6" r="1.85"/><circle cx="111.7" cy="361.6" r="1.85"/><circle cx="114.4" cy="364.0" r="1.85"/><circle cx="117.1" cy="364.3" r="1.85"/><circle cx="119.8" cy="361.9" r="1.85"/><circle cx="122.5" cy="356.7" r="1.85"/><circle cx="125.2" cy="349.2" r="1.85"/><circle cx="127.9" cy="340.1" r="1.85"/><circle cx="130.6" cy="329.0" r="1.85"/><circle cx="133.3" cy="314.0" r="1.85"/><circle cx="136.0" cy="296.2" r="1.85"/><circle cx="138.7" cy="281.3" r="1.85"/><circle cx="141.4" cy="270.9" r="1.85"/><circle cx="144.1" cy="261.0" r="1.85"/><circle cx="146.8" cy="249.8" r="1.85"/><circle cx="149.5" cy="240.4" r="1.85"/><circle cx="152.2" cy="235.3" r="1.85"/><circle cx="154.9" cy="233.7" r="1.85"/><circle cx="157.6" cy="234.7" r="1.85"/><circle cx="160.3" cy="238.7" r="1.85"/><circle cx="163.0" cy="245.9" r="1.85"/><circle cx="165.7" cy="255.6" r="1.85"/><circle cx="168.4" cy="266.3" r="1.85"/><circle cx="171.1" cy="276.7" r="1.85"/><circle cx="173.8" cy="285.6" r="1.85"/><circle cx="176.5" cy="292.2" r="1.85"/><circle cx="179.2" cy="296.6" r="1.85"/><circle cx="181.9" cy="299.2" r="1.85"/><circle cx="184.6" cy="299.5" r="1.85"/><circle cx="187.3" cy="297.0" r="1.85"/><circle cx="190.0" cy="291.3" r="1.85"/><circle cx="192.7" cy="283.2" r="1.85"/><circle cx="195.4" cy="274.1" r="1.85"/><circle cx="198.1" cy="265.0" r="1.85"/><circle cx="200.8" cy="256.9" r="1.85"/><circle cx="203.5" cy="250.3" r="1.85"/><circle cx="206.2" cy="245.7" r="1.85"/><circle cx="208.9" cy="243.4" r="1.85"/><circle cx="211.6" cy="243.8" r="1.85"/><circle cx="214.4" cy="247.2" r="1.85"/><circle cx="217.1" cy="253.7" r="1.85"/><circle cx="219.8" cy="263.4" r="1.85"/><circle cx="222.5" cy="276.4" r="1.85"/><circle cx="225.2" cy="291.9" r="1.85"/><circle cx="227.9" cy="306.0" r="1.85"/><circle cx="230.6" cy="317.3" r="1.85"/><circle cx="233.3" cy="328.4" r="1.85"/><circle cx="236.0" cy="339.6" r="1.85"/><circle cx="238.7" cy="349.8" r="1.85"/><circle cx="241.4" cy="357.6" r="1.85"/><circle cx="244.1" cy="362.2" r="1.85"/><circle cx="246.8" cy="364.2" r="1.85"/><circle cx="249.5" cy="364.1" r="1.85"/><circle cx="252.2" cy="362.9" r="1.85"/><circle cx="254.9" cy="361.1" r="1.85"/><circle cx="257.6" cy="359.5" r="1.85"/><circle cx="260.3" cy="358.2" r="1.85"/><circle cx="263.0" cy="357.3" r="1.85"/><circle cx="265.7" cy="356.9" r="1.85"/><circle cx="268.4" cy="357.1" r="1.85"/><circle cx="271.1" cy="358.0" r="1.85"/><circle cx="273.8" cy="359.7" r="1.85"/><circle cx="276.5" cy="362.2" r="1.85"/><circle cx="279.2" cy="365.3" r="1.85"/><circle cx="281.9" cy="368.1" r="1.85"/><circle cx="284.6" cy="370.2" r="1.85"/><circle cx="287.3" cy="370.8" r="1.85"/><circle cx="290.0" cy="369.2" r="1.85"/><circle cx="292.7" cy="365.0" r="1.85"/><circle cx="295.4" cy="358.3" r="1.85"/><circle cx="298.1" cy="349.7" r="1.85"/><circle cx="300.8" cy="339.3" r="1.85"/><circle cx="303.5" cy="327.8" r="1.85"/><circle cx="306.2" cy="315.3" r="1.85"/><circle cx="308.9" cy="301.4" r="1.85"/><circle cx="311.6" cy="286.0" r="1.85"/><circle cx="314.3" cy="270.9" r="1.85"/><circle cx="317.0" cy="257.8" r="1.85"/><circle cx="319.7" cy="246.8" r="1.85"/><circle cx="322.4" cy="238.0" r="1.85"/><circle cx="325.1" cy="231.5" r="1.85"/><circle cx="327.8" cy="227.4" r="1.85"/><circle cx="330.5" cy="225.6" r="1.85"/><circle cx="333.2" cy="226.3" r="1.85"/><circle cx="335.9" cy="229.6" r="1.85"/><circle cx="338.6" cy="235.3" r="1.85"/><circle cx="341.3" cy="243.6" r="1.85"/><circle cx="344.0" cy="253.2" r="1.85"/><circle cx="346.7" cy="261.8" r="1.85"/><circle cx="349.4" cy="268.9" r="1.85"/><circle cx="352.1" cy="277.9" r="1.85"/><circle cx="354.8" cy="289.6" r="1.85"/><circle cx="357.5" cy="299.6" r="1.85"/><circle cx="360.2" cy="306.2" r="1.85"/><circle cx="362.9" cy="311.2" r="1.85"/><circle cx="365.7" cy="315.6" r="1.85"/><circle cx="368.4" cy="319.7" r="1.85"/><circle cx="371.1" cy="323.3" r="1.85"/><circle cx="373.8" cy="326.6" r="1.85"/><circle cx="376.5" cy="329.4" r="1.85"/><circle cx="379.2" cy="331.9" r="1.85"/><circle cx="381.9" cy="333.9" r="1.85"/><circle cx="384.6" cy="335.5" r="1.85"/><circle cx="387.3" cy="336.7" r="1.85"/><circle cx="390.0" cy="337.4" r="1.85"/><circle cx="392.7" cy="337.6" r="1.85"/><circle cx="395.4" cy="337.4" r="1.85"/><circle cx="398.1" cy="336.8" r="1.85"/><circle cx="400.8" cy="335.6" r="1.85"/><circle cx="403.5" cy="334.1" r="1.85"/><circle cx="406.2" cy="332.3" r="1.85"/><circle cx="408.9" cy="330.1" r="1.85"/><circle cx="411.6" cy="327.7" r="1.85"/><circle cx="414.3" cy="325.1" r="1.85"/><circle cx="417.0" cy="322.4" r="1.85"/><circle cx="419.7" cy="319.6" r="1.85"/><circle cx="422.4" cy="316.8" r="1.85"/><circle cx="425.1" cy="314.0" r="1.85"/><circle cx="427.8" cy="311.2" r="1.85"/><circle cx="430.5" cy="308.6" r="1.85"/><circle cx="433.2" cy="306.2" r="1.85"/><circle cx="435.9" cy="304.0" r="1.85"/><circle cx="438.6" cy="302.2" r="1.85"/><circle cx="441.3" cy="300.8" r="1.85"/><circle cx="444.0" cy="300.0" r="1.85"/><circle cx="446.7" cy="299.7" r="1.85"/><circle cx="449.4" cy="300.0" r="1.85"/><circle cx="452.1" cy="301.1" r="1.85"/><circle cx="454.8" cy="302.8" r="1.85"/><circle cx="457.5" cy="304.9" r="1.85"/><circle cx="460.2" cy="307.4" r="1.85"/><circle cx="462.9" cy="310.0" r="1.85"/><circle cx="465.6" cy="312.6" r="1.85"/><circle cx="468.3" cy="315.1" r="1.85"/><circle cx="471.0" cy="317.2" r="1.85"/><circle cx="473.7" cy="319.0" r="1.85"/><circle cx="476.4" cy="320.5" r="1.85"/><circle cx="479.1" cy="321.7" r="1.85"/><circle cx="481.8" cy="322.6" r="1.85"/><circle cx="484.5" cy="323.2" r="1.85"/><circle cx="487.2" cy="323.6" r="1.85"/><circle cx="489.9" cy="323.8" r="1.85"/><circle cx="492.6" cy="323.8" r="1.85"/><circle cx="495.3" cy="323.6" r="1.85"/><circle cx="498.0" cy="323.2" r="1.85"/><circle cx="500.7" cy="322.6" r="1.85"/><circle cx="503.4" cy="321.9" r="1.85"/></g><path d="M62.9,537.7 63.9,537.9 64.9,538.0 65.9,538.2 66.9,538.4 67.9,538.6 68.9,538.7 69.9,538.9 70.9,539.1 71.9,539.2 72.9,539.4 73.9,539.6 74.9,539.8 75.9,539.9 76.9,540.1 77.9,540.3 78.9,540.4 79.9,540.6 80.9,540.8 81.9,541.0 82.9,541.1 83.9,541.3 84.9,541.5 85.9,541.6 86.9,541.8 87.9,542.0 88.9,542.2 89.9,542.3 90.9,542.5 91.9,542.7 92.9,542.8 93.9,543.0 94.9,543.2 95.9,543.4 96.9,543.5 97.9,543.7 98.9,543.9 100.0,544.0 101.0,544.2 102.0,544.4 103.0,544.6 104.0,544.7 105.0,544.9 106.0,545.1 107.0,545.2 108.0,545.4 109.0,545.6 110.0,545.7 111.0,545.9 112.0,546.1 113.0,546.3 114.0,546.4 115.0,546.6 116.0,546.8 117.0,546.9 118.0,547.1 119.0,547.3 120.0,547.5 121.0,547.6 122.0,547.8 123.0,548.0 124.0,548.1 125.0,548.3 126.0,548.5 127.0,548.6 128.0,548.8 129.0,549.0 130.0,549.2 131.0,549.3 132.0,549.5 133.0,549.7 134.0,549.8 135.0,550.0 136.0,550.2 137.0,550.3 138.0,550.5 139.0,550.7 140.0,550.9 141.0,551.0 142.0,551.2 143.0,551.4 144.0,551.5 145.0,551.7 146.0,551.9 147.0,552.0 148.0,552.2 149.0,552.4 150.0,552.5 151.0,552.7 152.0,552.9 153.0,553.0 154.0,553.2 155.0,553.4 156.0,553.6 157.0,553.7 158.0,553.9 159.0,554.1 160.0,554.2 161.0,554.4 162.0,554.6 163.0,554.7 164.0,554.9 165.0,555.1 166.0,555.2 167.0,555.4 168.0,555.6 169.0,555.7 170.0,555.9 171.0,556.0 172.0,556.2 173.1,556.4 174.1,556.5 175.1,556.7 176.1,556.9 177.1,557.0 178.1,557.2 179.1,557.4 180.1,557.5 181.1,557.7 182.1,557.8 183.1,558.0 184.1,558.2 185.1,558.3 186.1,558.5 187.1,558.7 188.1,558.8 189.1,559.0 190.1,559.1 191.1,559.3 192.1,559.5 193.1,559.6 194.1,559.8 195.1,559.9 196.1,560.1 197.1,560.2 198.1,560.4 199.1,560.6 200.1,560.7 201.1,560.9 202.1,561.0 203.1,561.2 204.1,561.3 205.1,561.5 206.1,561.6 207.1,561.8 208.1,561.9 209.1,562.1 210.1,562.3 211.1,562.4 212.1,562.6 213.1,562.7 214.1,562.9 215.1,563.0 216.1,563.2 217.1,563.3 218.1,563.5 219.1,563.6 220.1,563.7 221.1,563.9 222.1,564.0 223.1,564.2 224.1,564.3 225.1,564.5 226.1,564.6 227.1,564.8 228.1,564.9 229.1,565.0 230.1,565.2 231.1,565.3 232.1,565.5 233.1,565.6 234.1,565.8 235.1,565.9 236.1,566.0 237.1,566.2 238.1,566.3 239.1,566.5 240.1,566.6 241.1,566.7 242.1,566.9 243.1,567.0 244.1,567.1 245.1,567.3 246.1,567.4 247.2,567.5 248.2,567.7 249.2,567.8 250.2,567.9 251.2,568.1 252.2,568.2 253.2,568.3 254.2,568.5 255.2,568.6 256.2,568.7 257.2,568.9 258.2,569.0 259.2,569.1 260.2,569.3 261.2,569.4 262.2,569.5 263.2,569.6 264.2,569.8 265.2,569.9 266.2,570.0 267.2,570.2 268.2,570.3 269.2,570.4 270.2,570.5 271.2,570.7 272.2,570.8 273.2,570.9 274.2,571.0 275.2,571.2 276.2,571.3 277.2,571.4 278.2,571.5 279.2,571.7 280.2,571.8 281.2,571.9 282.2,572.1 283.2,572.2 284.2,572.3 285.2,572.4 286.2,572.6 287.2,572.7 288.2,572.8 289.2,572.9 290.2,573.1 291.2,573.2 292.2,573.3 293.2,573.5 294.2,573.6 295.2,573.7 296.2,573.8 297.2,574.0 298.2,574.1 299.2,574.2 300.2,574.4 301.2,574.5 302.2,574.6 303.2,574.8 304.2,574.9 305.2,575.0 306.2,575.2 307.2,575.3 308.2,575.4 309.2,575.6 310.2,575.7 311.2,575.9 312.2,576.0 313.2,576.1 314.2,576.3 315.2,576.4 316.2,576.6 317.2,576.7 318.2,576.8 319.2,577.0 320.3,577.1 321.3,577.3 322.3,577.4 323.3,577.6 324.3,577.7 325.3,577.9 326.3,578.0 327.3,578.2 328.3,578.3 329.3,578.5 330.3,578.6 331.3,578.8 332.3,579.0 333.3,579.1 334.3,579.3 335.3,579.4 336.3,579.6 337.3,579.8 338.3,579.9 339.3,580.1 340.3,580.3 341.3,580.4 342.3,580.6 343.3,580.8 344.3,580.9 345.3,581.1 346.3,581.3 347.3,581.4 348.3,581.6 349.3,581.8 350.3,582.0 351.3,582.1 352.3,582.3 353.3,582.5 354.3,582.7 355.3,582.9 356.3,583.1 357.3,583.2 358.3,583.4 359.3,583.6 360.3,583.8 361.3,584.0 362.3,584.2 363.3,584.4 364.3,584.6 365.3,584.8 366.3,584.9 367.3,585.1 368.3,585.3 369.3,585.5 370.3,585.7 371.3,585.9 372.3,586.1 373.3,586.3 374.3,586.5 375.3,586.7 376.3,586.9 377.3,587.1 378.3,587.3 379.3,587.5 380.3,587.7 381.3,588.0 382.3,588.2 383.3,588.4 384.3,588.6 385.3,588.8 386.3,589.0 387.3,589.2 388.3,589.4 389.3,589.6 390.3,589.8 391.3,590.0 392.3,590.3 393.4,590.5 394.4,590.7 395.4,590.9 396.4,591.1 397.4,591.3 398.4,591.5 399.4,591.8 400.4,592.0 401.4,592.2 402.4,592.4 403.4,592.6 404.4,592.8 405.4,593.0 406.4,593.3 407.4,593.5 408.4,593.7 409.4,593.9 410.4,594.1 411.4,594.3 412.4,594.6 413.4,594.8 414.4,595.0 415.4,595.2 416.4,595.4 417.4,595.6 418.4,595.9 419.4,596.1 420.4,596.3 421.4,596.5 422.4,596.7 423.4,596.9 424.4,597.1 425.4,597.4 426.4,597.6 427.4,597.8 428.4,598.0 429.4,598.2 430.4,598.4 431.4,598.6 432.4,598.9 433.4,599.1 434.4,599.3 435.4,599.5 436.4,599.7 437.4,599.9 438.4,600.1 439.4,600.3 440.4,600.5 441.4,600.8 442.4,601.0 443.4,601.2 444.4,601.4 445.4,601.6 446.4,601.8 447.4,602.0 448.4,602.2 449.4,602.4 450.4,602.6 451.4,602.8 452.4,603.0 453.4,603.2 454.4,603.4 455.4,603.6 456.4,603.8 457.4,604.0 458.4,604.2 459.4,604.4 460.4,604.7 461.4,604.9 462.4,605.0 463.4,605.2 464.4,605.4 465.4,605.6 466.4,605.8 467.5,606.0 468.5,606.2 469.5,606.4 470.5,606.6 471.5,606.8 472.5,607.0 473.5,607.2 474.5,607.4 475.5,607.6 476.5,607.8 477.5,608.0 478.5,608.2 479.5,608.4 480.5,608.6 481.5,608.7 482.5,608.9 483.5,609.1 484.5,609.3 485.5,609.5 486.5,609.7 487.5,609.9 488.5,610.1 489.5,610.3 490.5,610.4 491.5,610.6 492.5,610.8 493.5,611.0 494.5,611.2 495.5,611.4 496.5,611.6 497.5,611.7 498.5,611.9 499.5,612.1 500.5,612.3 501.5,612.5 502.5,612.7 503.5,612.8" fill="none" stroke="#b440cc" stroke-width="1.2" stroke-linejoin="round"/><path d="M62.9,537.7 63.9,537.9 64.9,538.0 65.9,538.2 66.9,538.4 67.9,538.6 68.9,538.7 69.9,538.9 70.9,539.1 71.9,539.2 72.9,539.4 73.9,539.6 74.9,539.8 75.9,539.9 76.9,540.1 77.9,540.3 78.9,540.4 79.9,540.6 80.9,540.8 81.9,541.0 82.9,541.1 83.9,541.3 84.9,541.5 85.9,541.6 86.9,541.8 87.9,542.0 88.9,542.2 89.9,542.3 90.9,542.5 91.9,542.7 92.9,542.8 93.9,543.0 94.9,543.2 95.9,543.4 96.9,543.5 97.9,543.7 98.9,543.9 100.0,544.0 101.0,544.2 102.0,544.4 103.0,544.6 104.0,544.7 105.0,544.9 106.0,545.1 107.0,545.2 108.0,545.4 109.0,545.6 110.0,545.8 111.0,545.9 112.0,546.1 113.0,546.3 114.0,546.4 115.0,546.6 116.0,546.8 117.0,547.0 118.0,547.1 119.0,547.3 120.0,547.5 121.0,547.6 122.0,547.8 123.0,548.0 124.0,548.2 125.0,548.3 126.0,548.5 127.0,548.7 128.0,548.8 129.0,549.0 130.0,549.2 131.0,549.4 132.0,549.5 133.0,549.7 134.0,549.9 135.0,550.0 136.0,550.2 137.0,550.4 138.0,550.6 139.0,550.7 140.0,550.9 141.0,551.1 142.0,551.2 143.0,551.4 144.0,551.6 145.0,551.8 146.0,551.9 147.0,552.1 148.0,552.3 149.0,552.4 150.0,552.6 151.0,552.8 152.0,553.0 153.0,553.1 154.0,553.3 155.0,553.5 156.0,553.6 157.0,553.8 158.0,554.0 159.0,554.2 160.0,554.3 161.0,554.5 162.0,554.7 163.0,554.8 164.0,555.0 165.0,555.2 166.0,555.4 167.0,555.5 168.0,555.7 169.0,555.9 170.0,556.0 171.0,556.2 172.0,556.4 173.1,556.6 174.1,556.7 175.1,556.9 176.1,557.1 177.1,557.2 178.1,557.4 179.1,557.6 180.1,557.8 181.1,557.9 182.1,558.1 183.1,558.3 184.1,558.4 185.1,558.6 186.1,558.8 187.1,559.0 188.1,559.1 189.1,559.3 190.1,559.5 191.1,559.6 192.1,559.8 193.1,560.0 194.1,560.2 195.1,560.3 196.1,560.5 197.1,560.7 198.1,560.8 199.1,561.0 200.1,561.2 201.1,561.4 202.1,561.5 203.1,561.7 204.1,561.9 205.1,562.0 206.1,562.2 207.1,562.4 208.1,562.6 209.1,562.7 210.1,562.9 211.1,563.1 212.1,563.2 213.1,563.4 214.1,563.6 215.1,563.8 216.1,563.9 217.1,564.1 218.1,564.3 219.1,564.4 220.1,564.6 221.1,564.8 222.1,565.0 223.1,565.1 224.1,565.3 225.1,565.5 226.1,565.6 227.1,565.8 228.1,566.0 229.1,566.2 230.1,566.3 231.1,566.5 232.1,566.7 233.1,566.8 234.1,567.0 235.1,567.2 236.1,567.4 237.1,567.5 238.1,567.7 239.1,567.9 240.1,568.0 241.1,568.2 242.1,568.4 243.1,568.6 244.1,568.7 245.1,568.9 246.1,569.1 247.2,569.2 248.2,569.4 249.2,569.6 250.2,569.8 251.2,569.9 252.2,570.1 253.2,570.3 254.2,570.4 255.2,570.6 256.2,570.8 257.2,571.0 258.2,571.1 259.2,571.3 260.2,571.5 261.2,571.6 262.2,571.8 263.2,572.0 264.2,572.2 265.2,572.3 266.2,572.5 267.2,572.7 268.2,572.8 269.2,573.0 270.2,573.2 271.2,573.4 272.2,573.5 273.2,573.7 274.2,573.9 275.2,574.0 276.2,574.2 277.2,574.4 278.2,574.6 279.2,574.7 280.2,574.9 281.2,575.1 282.2,575.2 283.2,575.4 284.2,575.6 285.2,575.8 286.2,575.9 287.2,576.1 288.2,576.3 289.2,576.4 290.2,576.6 291.2,576.8 292.2,577.0 293.2,577.1 294.2,577.3 295.2,577.5 296.2,577.6 297.2,577.8 298.2,578.0 299.2,578.2 300.2,578.3 301.2,578.5 302.2,578.7 303.2,578.8 304.2,579.0 305.2,579.2 306.2,579.4 307.2,579.5 308.2,579.7 309.2,579.9 310.2,580.0 311.2,580.2 312.2,580.4 313.2,580.6 314.2,580.7 315.2,580.9 316.2,581.1 317.2,581.2 318.2,581.4 319.2,581.6 320.3,581.8 321.3,581.9 322.3,582.1 323.3,582.3 324.3,582.5 325.3,582.6 326.3,582.8 327.3,583.0 328.3,583.1 329.3,583.3 330.3,583.5 331.3,583.7 332.3,583.8 333.3,584.0 334.3,584.2 335.3,584.3 336.3,584.5 337.3,584.7 338.3,584.9 339.3,585.0 340.3,585.2 341.3,585.4 342.3,585.5 343.3,585.7 344.3,585.9 345.3,586.1 346.3,586.2 347.3,586.4 348.3,586.6 349.3,586.7 350.3,586.9 351.3,587.1 352.3,587.3 353.3,587.4 354.3,587.6 355.3,587.8 356.3,587.9 357.3,588.1 358.3,588.3 359.3,588.5 360.3,588.6 361.3,588.8 362.3,589.0 363.3,589.1 364.3,589.3 365.3,589.5 366.3,589.7 367.3,589.8 368.3,590.0 369.3,590.2 370.3,590.3 371.3,590.5 372.3,590.7 373.3,590.9 374.3,591.0 375.3,591.2 376.3,591.4 377.3,591.5 378.3,591.7 379.3,591.9 380.3,592.1 381.3,592.2 382.3,592.4 383.3,592.6 384.3,592.7 385.3,592.9 386.3,593.1 387.3,593.3 388.3,593.4 389.3,593.6 390.3,593.8 391.3,593.9 392.3,594.1 393.4,594.3 394.4,594.5 395.4,594.6 396.4,594.8 397.4,595.0 398.4,595.1 399.4,595.3 400.4,595.5 401.4,595.7 402.4,595.8 403.4,596.0 404.4,596.2 405.4,596.3 406.4,596.5 407.4,596.7 408.4,596.9 409.4,597.0 410.4,597.2 411.4,597.4 412.4,597.5 413.4,597.7 414.4,597.9 415.4,598.1 416.4,598.2 417.4,598.4 418.4,598.6 419.4,598.7 420.4,598.9 421.4,599.1 422.4,599.3 423.4,599.4 424.4,599.6 425.4,599.8 426.4,599.9 427.4,600.1 428.4,600.3 429.4,600.5 430.4,600.6 431.4,600.8 432.4,601.0 433.4,601.1 434.4,601.3 435.4,601.5 436.4,601.7 437.4,601.8 438.4,602.0 439.4,602.2 440.4,602.3 441.4,602.5 442.4,602.7 443.4,602.9 444.4,603.0 445.4,603.2 446.4,603.4 447.4,603.5 448.4,603.7 449.4,603.9 450.4,604.1 451.4,604.2 452.4,604.4 453.4,604.6 454.4,604.7 455.4,604.9 456.4,605.1 457.4,605.3 458.4,605.4 459.4,605.6 460.4,605.8 461.4,605.9 462.4,606.1 463.4,606.3 464.4,606.5 465.4,606.6 466.4,606.8 467.5,607.0 468.5,607.1 469.5,607.3 470.5,607.5 471.5,607.7 472.5,607.8 473.5,608.0 474.5,608.2 475.5,608.3 476.5,608.5 477.5,608.7 478.5,608.9 479.5,609.0 480.5,609.2 481.5,609.4 482.5,609.5 483.5,609.7 484.5,609.9 485.5,610.1 486.5,610.2 487.5,610.4 488.5,610.6 489.5,610.7 490.5,610.9 491.5,611.1 492.5,611.3 493.5,611.4 494.5,611.6 495.5,611.8 496.5,611.9 497.5,612.1 498.5,612.3 499.5,612.5 500.5,612.6 501.5,612.8 502.5,613.0 503.5,613.1" fill="none" stroke="#5c9632" stroke-width="1.2" stroke-linejoin="round"/><path d="M62.9,545.1 63.9,545.2 64.9,545.3 65.9,545.2 66.9,545.0 67.9,544.6 68.9,544.2 69.9,543.6 70.9,543.0 71.9,542.3 72.9,541.5 73.9,540.6 74.9,539.7 75.9,538.7 76.9,537.8 77.9,536.8 78.9,535.9 79.9,535.0 80.9,534.2 81.9,533.4 82.9,532.7 83.9,532.2 84.9,531.7 85.9,531.4 86.9,531.2 87.9,531.2 88.9,531.3 89.9,531.7 90.9,532.1 91.9,532.8 92.9,533.6 93.9,534.6 94.9,535.8 95.9,537.1 96.9,538.6 97.9,540.1 98.9,541.8 100.0,543.6 101.0,545.5 102.0,547.3 103.0,549.3 104.0,551.2 105.0,553.1 106.0,554.9 107.0,556.6 108.0,558.3 109.0,559.8 110.0,561.1 111.0,562.2 112.0,563.1 113.0,563.8 114.0,564.3 115.0,564.4 116.0,564.3 117.0,563.8 118.0,563.1 119.0,562.0 120.0,560.6 121.0,558.9 122.0,556.8 123.0,554.5 124.0,551.8 125.0,548.9 126.0,545.7 127.0,542.2 128.0,538.6 129.0,534.7 130.0,530.6 131.0,526.5 132.0,522.2 133.0,517.9 134.0,513.5 135.0,509.2 136.0,504.9 137.0,500.7 138.0,496.6 139.0,492.7 140.0,488.9 141.0,485.5 142.0,482.3 143.0,479.4 144.0,476.8 145.0,474.6 146.0,472.7 147.0,471.3 148.0,470.3 149.0,469.7 150.0,469.5 151.0,469.8 152.0,470.5 153.0,471.6 154.0,473.1 155.0,475.1 156.0,477.4 157.0,480.1 158.0,483.2 159.0,486.5 160.0,490.2 161.0,494.1 162.0,498.2 163.0,502.6 164.0,507.1 165.0,511.6 166.0,516.3 167.0,521.0 168.0,525.7 169.0,530.4 170.0,534.9 171.0,539.4 172.0,543.7 173.1,547.9 174.1,551.8 175.1,555.5 176.1,558.9 177.1,562.1 178.1,565.0 179.1,567.6 180.1,569.8 181.1,571.7 182.1,573.4 183.1,574.6 184.1,575.6 185.1,576.3 186.1,576.6 187.1,576.7 188.1,576.5 189.1,576.1 190.1,575.4 191.1,574.5 192.1,573.5 193.1,572.3 194.1,570.9 195.1,569.5 196.1,568.0 197.1,566.4 198.1,564.8 199.1,563.3 200.1,561.7 201.1,560.3 202.1,558.9 203.1,557.6 204.1,556.4 205.1,555.3 206.1,554.4 207.1,553.7 208.1,553.1 209.1,552.6 210.1,552.4 211.1,552.3 212.1,552.4 213.1,552.7 214.1,553.1 215.1,553.7 216.1,554.4 217.1,555.2 218.1,556.2 219.1,557.3 220.1,558.4 221.1,559.6 222.1,560.9 223.1,562.2 224.1,563.4 225.1,564.7 226.1,566.0 227.1,567.3 228.1,568.4 229.1,569.6 230.1,570.6 231.1,571.5 232.1,572.4 233.1,573.1 234.1,573.8 235.1,574.3 236.1,574.7 237.1,574.9 238.1,575.1 239.1,575.1 240.1,575.0 241.1,574.8 242.1,574.6 243.1,574.2 244.1,573.7 245.1,573.2 246.1,572.7 247.2,572.0 248.2,571.4 249.2,570.7 250.2,570.1 251.2,569.4 252.2,568.8 253.2,568.2 254.2,567.6 255.2,567.1 256.2,566.7 257.2,566.3 258.2,566.0 259.2,565.8 260.2,565.7 261.2,565.7 262.2,565.8 263.2,565.9 264.2,566.2 265.2,566.6 266.2,567.0 267.2,567.5 268.2,568.1 269.2,568.7 270.2,569.4 271.2,570.2 272.2,571.0 273.2,571.8 274.2,572.6 275.2,573.4 276.2,574.3 277.2,575.1 278.2,575.9 279.2,576.7 280.2,577.4 281.2,578.1 282.2,578.7 283.2,579.2 284.2,579.7 285.2,580.1 286.2,580.5 287.2,580.7 288.2,580.9 289.2,581.0 290.2,581.1 291.2,581.0 292.2,580.9 293.2,580.8 294.2,580.6 295.2,580.3 296.2,580.0 297.2,579.7 298.2,579.3 299.2,578.9 300.2,578.6 301.2,578.2 302.2,577.8 303.2,577.4 304.2,577.1 305.2,576.8 306.2,576.6 307.2,576.4 308.2,576.2 309.2,576.1 310.2,576.1 311.2,576.1 312.2,576.2 313.2,576.3 314.2,576.5 315.2,576.8 316.2,577.1 317.2,577.5 318.2,578.0 319.2,578.5 320.3,579.0 321.3,579.6 322.3,580.2 323.3,580.8 324.3,581.4 325.3,582.1 326.3,582.7 327.3,583.4 328.3,584.0 329.3,584.6 330.3,585.2 331.3,585.7 332.3,586.2 333.3,586.7 334.3,587.1 335.3,587.4 336.3,587.8 337.3,588.0 338.3,588.2 339.3,588.3 340.3,588.4 341.3,588.5 342.3,588.5 343.3,588.4 344.3,588.3 345.3,588.2 346.3,588.0 347.3,587.8 348.3,587.6 349.3,587.3 350.3,587.1 351.3,586.8 352.3,586.6 353.3,586.4 354.3,586.2 355.3,586.0 356.3,585.8 357.3,585.7 358.3,585.6 359.3,585.6 360.3,585.6 361.3,585.6 362.3,585.7 363.3,585.9 364.3,586.0 365.3,586.3 366.3,586.6 367.3,586.9 368.3,587.3 369.3,587.7 370.3,588.1 371.3,588.6 372.3,589.1 373.3,589.6 374.3,590.1 375.3,590.7 376.3,591.2 377.3,591.8 378.3,592.3 379.3,592.8 380.3,593.3 381.3,593.8 382.3,594.2 383.3,594.6 384.3,595.0 385.3,595.3 386.3,595.6 387.3,595.8 388.3,596.0 389.3,596.2 390.3,596.3 391.3,596.4 392.3,596.4 393.4,596.4 394.4,596.4 395.4,596.3 396.4,596.2 397.4,596.1 398.4,595.9 399.4,595.8 400.4,595.6 401.4,595.5 402.4,595.3 403.4,595.2 404.4,595.0 405.4,594.9 406.4,594.8 407.4,594.7 408.4,594.7 409.4,594.7 410.4,594.7 411.4,594.8 412.4,594.9 413.4,595.0 414.4,595.2 415.4,595.4 416.4,595.7 417.4,596.0 418.4,596.3 419.4,596.7 420.4,597.0 421.4,597.5 422.4,597.9 423.4,598.3 424.4,598.8 425.4,599.3 426.4,599.7 427.4,600.2 428.4,600.7 429.4,601.1 430.4,601.6 431.4,602.0 432.4,602.4 433.4,602.8 434.4,603.1 435.4,603.4 436.4,603.7 437.4,603.9 438.4,604.1 439.4,604.3 440.4,604.4 441.4,604.5 442.4,604.6 443.4,604.6 444.4,604.6 445.4,604.6 446.4,604.5 447.4,604.5 448.4,604.4 449.4,604.3 450.4,604.2 451.4,604.1 452.4,604.0 453.4,603.9 454.4,603.8 455.4,603.7 456.4,603.7 457.4,603.6 458.4,603.6 459.4,603.6 460.4,603.7 461.4,603.8 462.4,603.9 463.4,604.0 464.4,604.2 465.4,604.4 466.4,604.6 467.5,604.9 468.5,605.2 469.5,605.5 470.5,605.9 471.5,606.2 472.5,606.6 473.5,607.0 474.5,607.4 475.5,607.9 476.5,608.3 477.5,608.7 478.5,609.1 479.5,609.5 480.5,609.9 481.5,610.3 482.5,610.7 483.5,611.0 484.5,611.4 485.5,611.6 486.5,611.9 487.5,612.1 488.5,612.3 489.5,612.5 490.5,612.7 491.5,612.8 492.5,612.9 493.5,612.9 494.5,612.9 495.5,613.0 496.5,612.9 497.5,612.9 498.5,612.9 499.5,612.8 500.5,612.8 501.5,612.7 502.5,612.6 503.5,612.6" fill="none" stroke="#4040c4" stroke-width="1.35" stroke-dasharray="8.5,3" stroke-linejoin="round"/><path d="M62.9,537.2 63.9,537.6 64.9,537.9 65.9,538.3 66.9,538.7 67.9,539.0 68.9,539.3 69.9,539.7 70.9,540.0 71.9,540.3 72.9,540.6 73.9,540.9 74.9,541.1 75.9,541.3 76.9,541.5 77.9,541.7 78.9,541.9 79.9,542.0 80.9,542.1 81.9,542.1 82.9,542.2 83.9,542.2 84.9,542.2 85.9,542.2 86.9,542.1 87.9,542.1 88.9,542.0 89.9,542.0 90.9,541.9 91.9,541.8 92.9,541.7 93.9,541.7 94.9,541.6 95.9,541.6 96.9,541.6 97.9,541.6 98.9,541.7 100.0,541.8 101.0,541.9 102.0,542.1 103.0,542.2 104.0,542.5 105.0,542.7 106.0,543.0 107.0,543.4 108.0,543.8 109.0,544.2 110.0,544.6 111.0,545.1 112.0,545.6 113.0,546.1 114.0,546.6 115.0,547.1 116.0,547.6 117.0,548.1 118.0,548.6 119.0,549.1 120.0,549.5 121.0,549.9 122.0,550.2 123.0,550.5 124.0,550.7 125.0,550.8 126.0,550.8 127.0,550.8 128.0,550.6 129.0,550.4 130.0,550.0 131.0,549.5 132.0,548.9 133.0,548.2 134.0,547.4 135.0,546.5 136.0,545.4 137.0,544.2 138.0,543.0 139.0,541.6 140.0,540.1 141.0,538.5 142.0,536.8 143.0,535.1 144.0,533.3 145.0,531.4 146.0,529.5 147.0,527.6 148.0,525.6 149.0,523.7 150.0,521.7 151.0,519.8 152.0,517.9 153.0,516.1 154.0,514.3 155.0,512.6 156.0,511.1 157.0,509.6 158.0,508.2 159.0,507.0 160.0,505.9 161.0,505.0 162.0,504.3 163.0,503.7 164.0,503.2 165.0,503.0 166.0,502.9 167.0,503.1 168.0,503.4 169.0,503.8 170.0,504.5 171.0,505.4 172.0,506.4 173.1,507.6 174.1,508.9 175.1,510.4 176.1,512.0 177.1,513.8 178.1,515.6 179.1,517.6 180.1,519.7 181.1,521.8 182.1,524.0 183.1,526.2 184.1,528.5 185.1,530.8 186.1,533.1 187.1,535.4 188.1,537.7 189.1,539.9 190.1,542.1 191.1,544.2 192.1,546.3 193.1,548.2 194.1,550.1 195.1,551.9 196.1,553.6 197.1,555.2 198.1,556.6 199.1,558.0 200.1,559.2 201.1,560.3 202.1,561.3 203.1,562.2 204.1,562.9 205.1,563.6 206.1,564.2 207.1,564.6 208.1,565.0 209.1,565.2 210.1,565.4 211.1,565.5 212.1,565.6 213.1,565.6 214.1,565.5 215.1,565.4 216.1,565.3 217.1,565.1 218.1,565.0 219.1,564.8 220.1,564.6 221.1,564.4 222.1,564.3 223.1,564.2 224.1,564.0 225.1,564.0 226.1,563.9 227.1,563.9 228.1,563.9 229.1,564.0 230.1,564.0 231.1,564.2 232.1,564.3 233.1,564.6 234.1,564.8 235.1,565.1 236.1,565.4 237.1,565.7 238.1,566.1 239.1,566.4 240.1,566.8 241.1,567.2 242.1,567.6 243.1,568.1 244.1,568.5 245.1,568.9 246.1,569.3 247.2,569.7 248.2,570.0 249.2,570.4 250.2,570.7 251.2,571.0 252.2,571.3 253.2,571.6 254.2,571.8 255.2,572.1 256.2,572.2 257.2,572.4 258.2,572.5 259.2,572.6 260.2,572.7 261.2,572.8 262.2,572.8 263.2,572.9 264.2,572.9 265.2,572.9 266.2,572.9 267.2,572.9 268.2,572.8 269.2,572.8 270.2,572.8 271.2,572.8 272.2,572.8 273.2,572.9 274.2,572.9 275.2,572.9 276.2,573.0 277.2,573.1 278.2,573.2 279.2,573.3 280.2,573.5 281.2,573.6 282.2,573.8 283.2,574.0 284.2,574.3 285.2,574.5 286.2,574.8 287.2,575.1 288.2,575.3 289.2,575.6 290.2,575.9 291.2,576.3 292.2,576.6 293.2,576.9 294.2,577.2 295.2,577.5 296.2,577.8 297.2,578.1 298.2,578.4 299.2,578.7 300.2,579.0 301.2,579.2 302.2,579.5 303.2,579.7 304.2,579.9 305.2,580.1 306.2,580.2 307.2,580.4 308.2,580.5 309.2,580.7 310.2,580.8 311.2,580.9 312.2,581.0 313.2,581.0 314.2,581.1 315.2,581.2 316.2,581.2 317.2,581.3 318.2,581.3 319.2,581.4 320.3,581.4 321.3,581.5 322.3,581.5 323.3,581.6 324.3,581.7 325.3,581.8 326.3,581.9 327.3,582.0 328.3,582.1 329.3,582.3 330.3,582.4 331.3,582.6 332.3,582.8 333.3,583.0 334.3,583.2 335.3,583.4 336.3,583.7 337.3,583.9 338.3,584.2 339.3,584.4 340.3,584.7 341.3,585.0 342.3,585.2 343.3,585.5 344.3,585.8 345.3,586.1 346.3,586.3 347.3,586.6 348.3,586.8 349.3,587.1 350.3,587.3 351.3,587.6 352.3,587.8 353.3,588.0 354.3,588.2 355.3,588.4 356.3,588.5 357.3,588.7 358.3,588.8 359.3,589.0 360.3,589.1 361.3,589.2 362.3,589.3 363.3,589.4 364.3,589.5 365.3,589.6 366.3,589.7 367.3,589.8 368.3,589.9 369.3,589.9 370.3,590.0 371.3,590.1 372.3,590.2 373.3,590.3 374.3,590.4 375.3,590.5 376.3,590.6 377.3,590.8 378.3,590.9 379.3,591.0 380.3,591.2 381.3,591.4 382.3,591.6 383.3,591.8 384.3,592.0 385.3,592.2 386.3,592.4 387.3,592.6 388.3,592.9 389.3,593.1 390.3,593.3 391.3,593.6 392.3,593.8 393.4,594.1 394.4,594.4 395.4,594.6 396.4,594.9 397.4,595.1 398.4,595.3 399.4,595.6 400.4,595.8 401.4,596.0 402.4,596.2 403.4,596.4 404.4,596.6 405.4,596.8 406.4,597.0 407.4,597.1 408.4,597.3 409.4,597.4 410.4,597.5 411.4,597.7 412.4,597.8 413.4,597.9 414.4,598.0 415.4,598.1 416.4,598.2 417.4,598.3 418.4,598.4 419.4,598.5 420.4,598.6 421.4,598.7 422.4,598.8 423.4,598.9 424.4,599.1 425.4,599.2 426.4,599.3 427.4,599.4 428.4,599.6 429.4,599.7 430.4,599.9 431.4,600.1 432.4,600.3 433.4,600.5 434.4,600.6 435.4,600.9 436.4,601.1 437.4,601.3 438.4,601.5 439.4,601.7 440.4,602.0 441.4,602.2 442.4,602.4 443.4,602.7 444.4,602.9 445.4,603.2 446.4,603.4 447.4,603.6 448.4,603.8 449.4,604.1 450.4,604.3 451.4,604.5 452.4,604.7 453.4,604.9 454.4,605.1 455.4,605.3 456.4,605.4 457.4,605.6 458.4,605.7 459.4,605.9 460.4,606.0 461.4,606.2 462.4,606.3 463.4,606.4 464.4,606.5 465.4,606.7 466.4,606.8 467.5,606.9 468.5,607.0 469.5,607.1 470.5,607.2 471.5,607.3 472.5,607.4 473.5,607.6 474.5,607.7 475.5,607.8 476.5,608.0 477.5,608.1 478.5,608.3 479.5,608.4 480.5,608.6 481.5,608.7 482.5,608.9 483.5,609.1 484.5,609.3 485.5,609.5 486.5,609.7 487.5,609.9 488.5,610.1 489.5,610.3 490.5,610.6 491.5,610.8 492.5,611.0 493.5,611.3 494.5,611.5 495.5,611.7 496.5,611.9 497.5,612.1 498.5,612.4 499.5,612.6 500.5,612.8 501.5,613.0 502.5,613.2 503.5,613.4" fill="none" stroke="#4040c4" stroke-width="1.35" stroke-dasharray="8.5,3" stroke-linejoin="round"/><path d="M62.9,538.0 63.9,538.3 64.9,538.5 65.9,538.8 66.9,539.0 67.9,539.2 68.9,539.4 69.9,539.5 70.9,539.7 71.9,539.8 72.9,539.9 73.9,540.0 74.9,540.1 75.9,540.2 76.9,540.2 77.9,540.3 78.9,540.3 79.9,540.4 80.9,540.4 81.9,540.4 82.9,540.4 83.9,540.5 84.9,540.5 85.9,540.5 86.9,540.6 87.9,540.7 88.9,540.7 89.9,540.8 90.9,540.9 91.9,541.1 92.9,541.2 93.9,541.4 94.9,541.6 95.9,541.8 96.9,542.0 97.9,542.2 98.9,542.5 100.0,542.8 101.0,543.1 102.0,543.4 103.0,543.7 104.0,544.1 105.0,544.4 106.0,544.8 107.0,545.1 108.0,545.5 109.0,545.8 110.0,546.1 111.0,546.5 112.0,546.8 113.0,547.1 114.0,547.4 115.0,547.6 116.0,547.9 117.0,548.1 118.0,548.3 119.0,548.4 120.0,548.6 121.0,548.7 122.0,548.8 123.0,548.8 124.0,548.9 125.0,548.9 126.0,548.9 127.0,548.9 128.0,548.8 129.0,548.8 130.0,548.7 131.0,548.7 132.0,548.6 133.0,548.5 134.0,548.5 135.0,548.5 136.0,548.4 137.0,548.4 138.0,548.4 139.0,548.5 140.0,548.6 141.0,548.7 142.0,548.8 143.0,549.0 144.0,549.2 145.0,549.4 146.0,549.7 147.0,549.9 148.0,550.3 149.0,550.6 150.0,550.9 151.0,551.3 152.0,551.7 153.0,552.0 154.0,552.4 155.0,552.7 156.0,553.0 157.0,553.3 158.0,553.5 159.0,553.6 160.0,553.7 161.0,553.7 162.0,553.7 163.0,553.5 164.0,553.2 165.0,552.8 166.0,552.2 167.0,551.5 168.0,550.7 169.0,549.7 170.0,548.5 171.0,547.2 172.0,545.7 173.1,544.1 174.1,542.2 175.1,540.2 176.1,538.0 177.1,535.6 178.1,533.1 179.1,530.4 180.1,527.6 181.1,524.6 182.1,521.5 183.1,518.3 184.1,515.0 185.1,511.6 186.1,508.1 187.1,504.6 188.1,501.0 189.1,497.4 190.1,493.9 191.1,490.3 192.1,486.8 193.1,483.4 194.1,480.1 195.1,476.9 196.1,473.8 197.1,470.8 198.1,468.1 199.1,465.5 200.1,463.2 201.1,461.1 202.1,459.2 203.1,457.6 204.1,456.2 205.1,455.2 206.1,454.4 207.1,453.9 208.1,453.7 209.1,453.8 210.1,454.2 211.1,454.9 212.1,455.9 213.1,457.2 214.1,458.8 215.1,460.6 216.1,462.8 217.1,465.1 218.1,467.7 219.1,470.5 220.1,473.5 221.1,476.7 222.1,480.1 223.1,483.6 224.1,487.2 225.1,491.0 226.1,494.8 227.1,498.6 228.1,502.5 229.1,506.5 230.1,510.4 231.1,514.3 232.1,518.1 233.1,521.9 234.1,525.6 235.1,529.2 236.1,532.7 237.1,536.1 238.1,539.3 239.1,542.4 240.1,545.3 241.1,548.1 242.1,550.7 243.1,553.1 244.1,555.4 245.1,557.5 246.1,559.4 247.2,561.1 248.2,562.7 249.2,564.1 250.2,565.4 251.2,566.5 252.2,567.4 253.2,568.2 254.2,568.9 255.2,569.5 256.2,569.9 257.2,570.3 258.2,570.6 259.2,570.8 260.2,571.0 261.2,571.0 262.2,571.1 263.2,571.1 264.2,571.1 265.2,571.1 266.2,571.1 267.2,571.1 268.2,571.1 269.2,571.1 270.2,571.1 271.2,571.1 272.2,571.2 273.2,571.3 274.2,571.4 275.2,571.6 276.2,571.8 277.2,572.0 278.2,572.3 279.2,572.6 280.2,572.9 281.2,573.2 282.2,573.6 283.2,573.9 284.2,574.3 285.2,574.7 286.2,575.1 287.2,575.5 288.2,575.9 289.2,576.3 290.2,576.7 291.2,577.1 292.2,577.4 293.2,577.8 294.2,578.1 295.2,578.4 296.2,578.7 297.2,578.9 298.2,579.1 299.2,579.3 300.2,579.5 301.2,579.6 302.2,579.7 303.2,579.8 304.2,579.9 305.2,579.9 306.2,580.0 307.2,580.0 308.2,580.0 309.2,580.0 310.2,580.0 311.2,580.0 312.2,580.0 313.2,580.0 314.2,580.0 315.2,580.0 316.2,580.0 317.2,580.0 318.2,580.1 319.2,580.2 320.3,580.3 321.3,580.4 322.3,580.5 323.3,580.6 324.3,580.8 325.3,581.0 326.3,581.2 327.3,581.4 328.3,581.7 329.3,581.9 330.3,582.2 331.3,582.5 332.3,582.8 333.3,583.1 334.3,583.4 335.3,583.7 336.3,584.0 337.3,584.4 338.3,584.7 339.3,585.0 340.3,585.3 341.3,585.6 342.3,585.8 343.3,586.1 344.3,586.4 345.3,586.6 346.3,586.8 347.3,587.0 348.3,587.2 349.3,587.4 350.3,587.5 351.3,587.7 352.3,587.8 353.3,587.9 354.3,588.0 355.3,588.1 356.3,588.1 357.3,588.2 358.3,588.2 359.3,588.3 360.3,588.4 361.3,588.4 362.3,588.5 363.3,588.5 364.3,588.6 365.3,588.6 366.3,588.7 367.3,588.8 368.3,588.9 369.3,589.0 370.3,589.1 371.3,589.3 372.3,589.4 373.3,589.6 374.3,589.7 375.3,589.9 376.3,590.1 377.3,590.4 378.3,590.6 379.3,590.8 380.3,591.1 381.3,591.3 382.3,591.6 383.3,591.9 384.3,592.1 385.3,592.4 386.3,592.7 387.3,593.0 388.3,593.2 389.3,593.5 390.3,593.8 391.3,594.0 392.3,594.3 393.4,594.5 394.4,594.7 395.4,594.9 396.4,595.1 397.4,595.3 398.4,595.5 399.4,595.7 400.4,595.8 401.4,596.0 402.4,596.1 403.4,596.2 404.4,596.3 405.4,596.4 406.4,596.5 407.4,596.6 408.4,596.7 409.4,596.8 410.4,596.9 411.4,596.9 412.4,597.0 413.4,597.1 414.4,597.2 415.4,597.3 416.4,597.4 417.4,597.5 418.4,597.6 419.4,597.7 420.4,597.9 421.4,598.0 422.4,598.2 423.4,598.3 424.4,598.5 425.4,598.7 426.4,598.9 427.4,599.1 428.4,599.3 429.4,599.6 430.4,599.8 431.4,600.0 432.4,600.3 433.4,600.5 434.4,600.8 435.4,601.0 436.4,601.3 437.4,601.5 438.4,601.8 439.4,602.0 440.4,602.3 441.4,602.5 442.4,602.7 443.4,603.0 444.4,603.2 445.4,603.4 446.4,603.6 447.4,603.7 448.4,603.9 449.4,604.1 450.4,604.2 451.4,604.4 452.4,604.5 453.4,604.7 454.4,604.8 455.4,604.9 456.4,605.0 457.4,605.1 458.4,605.2 459.4,605.3 460.4,605.4 461.4,605.5 462.4,605.6 463.4,605.7 464.4,605.8 465.4,605.9 466.4,606.0 467.5,606.2 468.5,606.3 469.5,606.4 470.5,606.6 471.5,606.7 472.5,606.9 473.5,607.0 474.5,607.2 475.5,607.4 476.5,607.6 477.5,607.8 478.5,608.0 479.5,608.2 480.5,608.4 481.5,608.7 482.5,608.9 483.5,609.1 484.5,609.4 485.5,609.6 486.5,609.9 487.5,610.1 488.5,610.3 489.5,610.6 490.5,610.8 491.5,611.0 492.5,611.2 493.5,611.4 494.5,611.6 495.5,611.8 496.5,612.0 497.5,612.2 498.5,612.4 499.5,612.6 500.5,612.7 501.5,612.9 502.5,613.0 503.5,613.1" fill="none" stroke="#c4303a" stroke-width="1.2" stroke-linejoin="round"/><path d="M62.9,536.6 63.9,536.7 64.9,536.9 65.9,537.0 66.9,537.2 67.9,537.4 68.9,537.6 69.9,537.8 70.9,538.0 71.9,538.2 72.9,538.5 73.9,538.7 74.9,539.0 75.9,539.3 76.9,539.5 77.9,539.8 78.9,540.1 79.9,540.4 80.9,540.6 81.9,540.9 82.9,541.2 83.9,541.4 84.9,541.7 85.9,542.0 86.9,542.2 87.9,542.4 88.9,542.6 89.9,542.8 90.9,543.0 91.9,543.2 92.9,543.4 93.9,543.5 94.9,543.6 95.9,543.8 96.9,543.9 97.9,544.0 98.9,544.0 100.0,544.1 101.0,544.2 102.0,544.2 103.0,544.3 104.0,544.4 105.0,544.4 106.0,544.5 107.0,544.5 108.0,544.6 109.0,544.7 110.0,544.7 111.0,544.8 112.0,544.9 113.0,545.0 114.0,545.1 115.0,545.3 116.0,545.4 117.0,545.6 118.0,545.8 119.0,546.0 120.0,546.2 121.0,546.4 122.0,546.7 123.0,546.9 124.0,547.2 125.0,547.5 126.0,547.8 127.0,548.1 128.0,548.4 129.0,548.7 130.0,549.0 131.0,549.3 132.0,549.6 133.0,549.9 134.0,550.2 135.0,550.4 136.0,550.7 137.0,551.0 138.0,551.2 139.0,551.4 140.0,551.6 141.0,551.8 142.0,552.0 143.0,552.2 144.0,552.3 145.0,552.4 146.0,552.5 147.0,552.6 148.0,552.7 149.0,552.7 150.0,552.8 151.0,552.8 152.0,552.9 153.0,552.9 154.0,552.9 155.0,552.9 156.0,552.9 157.0,553.0 158.0,553.0 159.0,553.0 160.0,553.1 161.0,553.1 162.0,553.2 163.0,553.3 164.0,553.4 165.0,553.6 166.0,553.7 167.0,553.9 168.0,554.1 169.0,554.3 170.0,554.5 171.0,554.8 172.0,555.0 173.1,555.3 174.1,555.6 175.1,555.9 176.1,556.3 177.1,556.6 178.1,556.9 179.1,557.3 180.1,557.6 181.1,558.0 182.1,558.3 183.1,558.7 184.1,559.0 185.1,559.3 186.1,559.6 187.1,559.9 188.1,560.1 189.1,560.4 190.1,560.6 191.1,560.8 192.1,561.0 193.1,561.1 194.1,561.2 195.1,561.3 196.1,561.4 197.1,561.5 198.1,561.5 199.1,561.5 200.1,561.5 201.1,561.5 202.1,561.5 203.1,561.4 204.1,561.4 205.1,561.3 206.1,561.3 207.1,561.3 208.1,561.2 209.1,561.2 210.1,561.2 211.1,561.3 212.1,561.3 213.1,561.4 214.1,561.5 215.1,561.6 216.1,561.7 217.1,561.9 218.1,562.1 219.1,562.4 220.1,562.6 221.1,562.9 222.1,563.3 223.1,563.6 224.1,564.0 225.1,564.4 226.1,564.8 227.1,565.2 228.1,565.6 229.1,566.1 230.1,566.5 231.1,566.9 232.1,567.4 233.1,567.8 234.1,568.2 235.1,568.5 236.1,568.9 237.1,569.2 238.1,569.5 239.1,569.8 240.1,570.0 241.1,570.2 242.1,570.3 243.1,570.4 244.1,570.5 245.1,570.5 246.1,570.5 247.2,570.4 248.2,570.4 249.2,570.3 250.2,570.1 251.2,570.0 252.2,569.8 253.2,569.7 254.2,569.5 255.2,569.3 256.2,569.2 257.2,569.0 258.2,568.9 259.2,568.8 260.2,568.7 261.2,568.6 262.2,568.6 263.2,568.7 264.2,568.8 265.2,568.9 266.2,569.1 267.2,569.4 268.2,569.7 269.2,570.0 270.2,570.4 271.2,570.9 272.2,571.4 273.2,571.9 274.2,572.5 275.2,573.1 276.2,573.6 277.2,574.2 278.2,574.8 279.2,575.4 280.2,575.9 281.2,576.4 282.2,576.9 283.2,577.3 284.2,577.5 285.2,577.7 286.2,577.8 287.2,577.7 288.2,577.6 289.2,577.2 290.2,576.7 291.2,576.0 292.2,575.2 293.2,574.2 294.2,572.9 295.2,571.5 296.2,569.8 297.2,568.0 298.2,565.9 299.2,563.7 300.2,561.2 301.2,558.6 302.2,555.8 303.2,552.8 304.2,549.6 305.2,546.3 306.2,542.8 307.2,539.3 308.2,535.6 309.2,531.9 310.2,528.1 311.2,524.3 312.2,520.4 313.2,516.6 314.2,512.8 315.2,509.1 316.2,505.5 317.2,502.0 318.2,498.6 319.2,495.4 320.3,492.4 321.3,489.6 322.3,487.0 323.3,484.7 324.3,482.6 325.3,480.9 326.3,479.4 327.3,478.2 328.3,477.4 329.3,476.8 330.3,476.6 331.3,476.8 332.3,477.3 333.3,478.1 334.3,479.2 335.3,480.7 336.3,482.4 337.3,484.5 338.3,486.8 339.3,489.5 340.3,492.3 341.3,495.5 342.3,498.8 343.3,502.3 344.3,506.0 345.3,509.8 346.3,513.7 347.3,517.8 348.3,521.9 349.3,526.1 350.3,530.2 351.3,534.4 352.3,538.5 353.3,542.6 354.3,546.6 355.3,550.6 356.3,554.4 357.3,558.1 358.3,561.6 359.3,565.0 360.3,568.2 361.3,571.2 362.3,574.0 363.3,576.7 364.3,579.1 365.3,581.3 366.3,583.3 367.3,585.2 368.3,586.8 369.3,588.2 370.3,589.4 371.3,590.5 372.3,591.3 373.3,592.0 374.3,592.6 375.3,593.0 376.3,593.3 377.3,593.5 378.3,593.6 379.3,593.6 380.3,593.5 381.3,593.3 382.3,593.1 383.3,592.9 384.3,592.7 385.3,592.4 386.3,592.2 387.3,591.9 388.3,591.7 389.3,591.5 390.3,591.3 391.3,591.2 392.3,591.2 393.4,591.1 394.4,591.2 395.4,591.3 396.4,591.4 397.4,591.6 398.4,591.8 399.4,592.1 400.4,592.4 401.4,592.8 402.4,593.2 403.4,593.7 404.4,594.1 405.4,594.6 406.4,595.1 407.4,595.7 408.4,596.2 409.4,596.7 410.4,597.2 411.4,597.7 412.4,598.2 413.4,598.6 414.4,599.0 415.4,599.4 416.4,599.8 417.4,600.1 418.4,600.4 419.4,600.6 420.4,600.8 421.4,601.0 422.4,601.1 423.4,601.2 424.4,601.3 425.4,601.3 426.4,601.3 427.4,601.3 428.4,601.2 429.4,601.2 430.4,601.1 431.4,601.0 432.4,600.9 433.4,600.8 434.4,600.7 435.4,600.7 436.4,600.6 437.4,600.5 438.4,600.5 439.4,600.5 440.4,600.5 441.4,600.6 442.4,600.6 443.4,600.7 444.4,600.8 445.4,601.0 446.4,601.2 447.4,601.4 448.4,601.7 449.4,601.9 450.4,602.2 451.4,602.5 452.4,602.9 453.4,603.2 454.4,603.6 455.4,604.0 456.4,604.3 457.4,604.7 458.4,605.1 459.4,605.5 460.4,605.8 461.4,606.2 462.4,606.6 463.4,606.9 464.4,607.2 465.4,607.5 466.4,607.8 467.5,608.0 468.5,608.3 469.5,608.5 470.5,608.6 471.5,608.8 472.5,608.9 473.5,609.0 474.5,609.1 475.5,609.2 476.5,609.2 477.5,609.3 478.5,609.3 479.5,609.3 480.5,609.3 481.5,609.3 482.5,609.3 483.5,609.3 484.5,609.3 485.5,609.3 486.5,609.3 487.5,609.3 488.5,609.4 489.5,609.4 490.5,609.5 491.5,609.6 492.5,609.7 493.5,609.8 494.5,609.9 495.5,610.1 496.5,610.3 497.5,610.5 498.5,610.7 499.5,611.0 500.5,611.3 501.5,611.5 502.5,611.8 503.5,612.1" fill="none" stroke="#46853a" stroke-width="1.35" stroke-dasharray="8.5,3" stroke-linejoin="round"/><path d="M62.9,537.3 63.9,537.4 64.9,537.6 65.9,537.8 66.9,537.9 67.9,538.1 68.9,538.3 69.9,538.5 70.9,538.6 71.9,538.8 72.9,539.0 73.9,539.1 74.9,539.3 75.9,539.5 76.9,539.7 77.9,539.8 78.9,540.0 79.9,540.2 80.9,540.3 81.9,540.5 82.9,540.7 83.9,540.9 84.9,541.0 85.9,541.2 86.9,541.4 87.9,541.5 88.9,541.7 89.9,541.9 90.9,542.1 91.9,542.2 92.9,542.4 93.9,542.6 94.9,542.7 95.9,542.9 96.9,543.1 97.9,543.3 98.9,543.4 100.0,543.6 101.0,543.8 102.0,543.9 103.0,544.1 104.0,544.3 105.0,544.5 106.0,544.6 107.0,544.8 108.0,545.0 109.0,545.1 110.0,545.3 111.0,545.5 112.0,545.7 113.0,545.8 114.0,546.0 115.0,546.2 116.0,546.3 117.0,546.5 118.0,546.7 119.0,546.9 120.0,547.0 121.0,547.2 122.0,547.4 123.0,547.5 124.0,547.7 125.0,547.9 126.0,548.1 127.0,548.2 128.0,548.4 129.0,548.6 130.0,548.7 131.0,548.9 132.0,549.1 133.0,549.3 134.0,549.4 135.0,549.6 136.0,549.8 137.0,549.9 138.0,550.1 139.0,550.3 140.0,550.5 141.0,550.6 142.0,550.8 143.0,551.0 144.0,551.1 145.0,551.3 146.0,551.5 147.0,551.7 148.0,551.8 149.0,552.0 150.0,552.2 151.0,552.3 152.0,552.5 153.0,552.7 154.0,552.9 155.0,553.0 156.0,553.2 157.0,553.4 158.0,553.5 159.0,553.7 160.0,553.9 161.0,554.1 162.0,554.2 163.0,554.4 164.0,554.6 165.0,554.7 166.0,554.9 167.0,555.1 168.0,555.3 169.0,555.4 170.0,555.6 171.0,555.8 172.0,555.9 173.1,556.1 174.1,556.3 175.1,556.5 176.1,556.6 177.1,556.8 178.1,557.0 179.1,557.1 180.1,557.3 181.1,557.5 182.1,557.7 183.1,557.8 184.1,558.0 185.1,558.2 186.1,558.3 187.1,558.5 188.1,558.7 189.1,558.9 190.1,559.0 191.1,559.2 192.1,559.4 193.1,559.5 194.1,559.7 195.1,559.9 196.1,560.0 197.1,560.2 198.1,560.4 199.1,560.6 200.1,560.7 201.1,560.9 202.1,561.1 203.1,561.2 204.1,561.4 205.1,561.6 206.1,561.7 207.1,561.9 208.1,562.1 209.1,562.2 210.1,562.4 211.1,562.6 212.1,562.7 213.1,562.9 214.1,563.1 215.1,563.2 216.1,563.4 217.1,563.6 218.1,563.7 219.1,563.9 220.1,564.0 221.1,564.2 222.1,564.4 223.1,564.5 224.1,564.7 225.1,564.8 226.1,565.0 227.1,565.1 228.1,565.3 229.1,565.4 230.1,565.6 231.1,565.7 232.1,565.9 233.1,566.0 234.1,566.1 235.1,566.3 236.1,566.4 237.1,566.5 238.1,566.7 239.1,566.8 240.1,566.9 241.1,567.0 242.1,567.1 243.1,567.2 244.1,567.3 245.1,567.4 246.1,567.5 247.2,567.6 248.2,567.7 249.2,567.8 250.2,567.9 251.2,567.9 252.2,568.0 253.2,568.0 254.2,568.1 255.2,568.1 256.2,568.1 257.2,568.1 258.2,568.2 259.2,568.2 260.2,568.1 261.2,568.1 262.2,568.1 263.2,568.1 264.2,568.0 265.2,567.9 266.2,567.9 267.2,567.8 268.2,567.7 269.2,567.6 270.2,567.4 271.2,567.3 272.2,567.1 273.2,567.0 274.2,566.8 275.2,566.6 276.2,566.4 277.2,566.1 278.2,565.9 279.2,565.6 280.2,565.3 281.2,565.0 282.2,564.7 283.2,564.4 284.2,564.1 285.2,563.7 286.2,563.3 287.2,562.9 288.2,562.5 289.2,562.0 290.2,561.6 291.2,561.1 292.2,560.6 293.2,560.1 294.2,559.6 295.2,559.1 296.2,558.5 297.2,557.9 298.2,557.3 299.2,556.7 300.2,556.1 301.2,555.5 302.2,554.8 303.2,554.2 304.2,553.5 305.2,552.8 306.2,552.1 307.2,551.4 308.2,550.7 309.2,550.0 310.2,549.3 311.2,548.6 312.2,547.8 313.2,547.1 314.2,546.4 315.2,545.6 316.2,544.9 317.2,544.2 318.2,543.4 319.2,542.7 320.3,542.0 321.3,541.3 322.3,540.6 323.3,539.9 324.3,539.2 325.3,538.5 326.3,537.9 327.3,537.2 328.3,536.6 329.3,536.0 330.3,535.4 331.3,534.9 332.3,534.3 333.3,533.8 334.3,533.3 335.3,532.9 336.3,532.4 337.3,532.0 338.3,531.7 339.3,531.3 340.3,531.0 341.3,530.7 342.3,530.5 343.3,530.3 344.3,530.1 345.3,530.0 346.3,529.9 347.3,529.8 348.3,529.8 349.3,529.8 350.3,529.9 351.3,530.0 352.3,530.1 353.3,530.3 354.3,530.6 355.3,530.9 356.3,531.3 357.3,531.7 358.3,532.2 359.3,532.8 360.3,533.4 361.3,534.1 362.3,534.9 363.3,535.7 364.3,536.6 365.3,537.5 366.3,538.5 367.3,539.5 368.3,540.5 369.3,541.6 370.3,542.8 371.3,544.0 372.3,545.2 373.3,546.4 374.3,547.7 375.3,548.9 376.3,550.3 377.3,551.6 378.3,552.9 379.3,554.3 380.3,555.6 381.3,557.0 382.3,558.3 383.3,559.7 384.3,561.0 385.3,562.4 386.3,563.7 387.3,565.0 388.3,566.4 389.3,567.7 390.3,568.9 391.3,570.2 392.3,571.4 393.4,572.6 394.4,573.8 395.4,575.0 396.4,576.1 397.4,577.2 398.4,578.3 399.4,579.4 400.4,580.4 401.4,581.4 402.4,582.3 403.4,583.3 404.4,584.2 405.4,585.0 406.4,585.9 407.4,586.7 408.4,587.5 409.4,588.2 410.4,588.9 411.4,589.6 412.4,590.3 413.4,591.0 414.4,591.6 415.4,592.2 416.4,592.7 417.4,593.3 418.4,593.8 419.4,594.3 420.4,594.8 421.4,595.3 422.4,595.7 423.4,596.1 424.4,596.5 425.4,596.9 426.4,597.3 427.4,597.7 428.4,598.0 429.4,598.4 430.4,598.7 431.4,599.0 432.4,599.3 433.4,599.6 434.4,599.9 435.4,600.1 436.4,600.4 437.4,600.7 438.4,600.9 439.4,601.2 440.4,601.4 441.4,601.6 442.4,601.9 443.4,602.1 444.4,602.3 445.4,602.5 446.4,602.7 447.4,602.9 448.4,603.1 449.4,603.3 450.4,603.5 451.4,603.7 452.4,603.9 453.4,604.1 454.4,604.3 455.4,604.5 456.4,604.6 457.4,604.8 458.4,605.0 459.4,605.2 460.4,605.4 461.4,605.5 462.4,605.7 463.4,605.9 464.4,606.1 465.4,606.2 466.4,606.4 467.5,606.6 468.5,606.8 469.5,606.9 470.5,607.1 471.5,607.3 472.5,607.5 473.5,607.6 474.5,607.8 475.5,608.0 476.5,608.2 477.5,608.3 478.5,608.5 479.5,608.7 480.5,608.8 481.5,609.0 482.5,609.2 483.5,609.4 484.5,609.5 485.5,609.7 486.5,609.9 487.5,610.1 488.5,610.2 489.5,610.4 490.5,610.6 491.5,610.7 492.5,610.9 493.5,611.1 494.5,611.3 495.5,611.4 496.5,611.6 497.5,611.8 498.5,611.9 499.5,612.1 500.5,612.3 501.5,612.5 502.5,612.6 503.5,612.8" fill="none" stroke="#46853a" stroke-width="1.35" stroke-dasharray="8.5,3" stroke-linejoin="round"/><path d="M62.9,543.5 63.9,543.8 64.9,544.1 65.9,544.2 66.9,544.2 67.9,544.1 68.9,543.9 69.9,543.5 70.9,543.1 71.9,542.5 72.9,541.9 73.9,541.2 74.9,540.4 75.9,539.6 76.9,538.7 77.9,537.9 78.9,537.0 79.9,536.2 80.9,535.4 81.9,534.7 82.9,534.0 83.9,533.4 84.9,532.9 85.9,532.5 86.9,532.2 87.9,532.1 88.9,532.0 89.9,532.0 90.9,532.2 91.9,532.5 92.9,533.0 93.9,533.6 94.9,534.4 95.9,535.3 96.9,536.4 97.9,537.6 98.9,539.0 100.0,540.5 101.0,542.2 102.0,544.0 103.0,545.8 104.0,547.7 105.0,549.7 106.0,551.7 107.0,553.6 108.0,555.5 109.0,557.2 110.0,558.9 111.0,560.4 112.0,561.7 113.0,562.9 114.0,563.8 115.0,564.4 116.0,564.8 117.0,564.8 118.0,564.4 119.0,563.7 120.0,562.5 121.0,561.0 122.0,559.2 123.0,557.0 124.0,554.5 125.0,551.6 126.0,548.4 127.0,544.9 128.0,541.0 129.0,536.9 130.0,532.4 131.0,527.7 132.0,522.4 133.0,516.6 134.0,510.3 135.0,503.9 136.0,497.9 137.0,492.2 138.0,486.9 139.0,482.0 140.0,477.4 141.0,473.1 142.0,469.0 143.0,465.1 144.0,461.4 145.0,457.8 146.0,454.3 147.0,450.7 148.0,447.3 149.0,444.0 150.0,441.1 151.0,438.6 152.0,436.6 153.0,435.2 154.0,434.4 155.0,434.1 156.0,434.3 157.0,435.0 158.0,436.1 159.0,437.6 160.0,439.5 161.0,441.8 162.0,444.4 163.0,447.3 164.0,450.5 165.0,454.0 166.0,457.8 167.0,461.9 168.0,466.1 169.0,470.3 170.0,474.3 171.0,478.0 172.0,481.4 173.1,484.5 174.1,487.3 175.1,489.8 176.1,492.1 177.1,494.2 178.1,496.1 179.1,497.7 180.1,499.0 181.1,500.0 182.1,500.7 183.1,501.0 184.1,500.9 185.1,500.4 186.1,499.5 187.1,498.1 188.1,496.4 189.1,494.3 190.1,491.9 191.1,489.3 192.1,486.4 193.1,483.4 194.1,480.3 195.1,477.0 196.1,473.7 197.1,470.4 198.1,467.1 199.1,463.9 200.1,460.8 201.1,457.8 202.1,455.0 203.1,452.5 204.1,450.2 205.1,448.2 206.1,446.6 207.1,445.3 208.1,444.5 209.1,444.0 210.1,443.9 211.1,444.3 212.1,445.0 213.1,446.2 214.1,447.8 215.1,449.8 216.1,452.3 217.1,455.2 218.1,458.6 219.1,462.4 220.1,466.7 221.1,471.4 222.1,476.4 223.1,481.7 224.1,487.1 225.1,492.5 226.1,497.9 227.1,503.1 228.1,508.2 229.1,512.9 230.1,517.2 231.1,521.1 232.1,524.9 233.1,528.8 234.1,532.8 235.1,537.0 236.1,541.2 237.1,545.4 238.1,549.3 239.1,552.8 240.1,555.8 241.1,558.3 242.1,560.3 243.1,562.0 244.1,563.3 245.1,564.2 246.1,564.8 247.2,565.2 248.2,565.4 249.2,565.3 250.2,565.1 251.2,564.8 252.2,564.4 253.2,563.9 254.2,563.4 255.2,562.8 256.2,562.2 257.2,561.6 258.2,560.9 259.2,560.3 260.2,559.7 261.2,559.1 262.2,558.6 263.2,558.2 264.2,557.8 265.2,557.5 266.2,557.4 267.2,557.3 268.2,557.4 269.2,557.6 270.2,558.0 271.2,558.6 272.2,559.4 273.2,560.3 274.2,561.3 275.2,562.5 276.2,563.7 277.2,564.9 278.2,566.1 279.2,567.3 280.2,568.4 281.2,569.5 282.2,570.4 283.2,571.1 284.2,571.6 285.2,572.0 286.2,572.0 287.2,571.8 288.2,571.3 289.2,570.5 290.2,569.4 291.2,568.0 292.2,566.4 293.2,564.4 294.2,562.2 295.2,559.8 296.2,557.0 297.2,554.0 298.2,550.7 299.2,547.2 300.2,543.4 301.2,539.3 302.2,535.1 303.2,530.6 304.2,526.0 305.2,521.1 306.2,516.1 307.2,511.0 308.2,505.7 309.2,500.3 310.2,494.8 311.2,489.3 312.2,483.8 313.2,478.3 314.2,472.9 315.2,467.7 316.2,462.7 317.2,458.0 318.2,453.6 319.2,449.6 320.3,445.9 321.3,442.5 322.3,439.5 323.3,436.8 324.3,434.4 325.3,432.4 326.3,430.7 327.3,429.3 328.3,428.2 329.3,427.5 330.3,427.0 331.3,427.0 332.3,427.2 333.3,427.8 334.3,428.6 335.3,429.9 336.3,431.4 337.3,433.3 338.3,435.6 339.3,438.2 340.3,441.1 341.3,444.4 342.3,448.0 343.3,451.6 344.3,455.2 345.3,458.6 346.3,461.8 347.3,464.6 348.3,467.2 349.3,469.9 350.3,472.7 351.3,476.0 352.3,479.8 353.3,484.0 354.3,488.1 355.3,491.7 356.3,494.8 357.3,497.8 358.3,501.0 359.3,504.2 360.3,507.4 361.3,510.4 362.3,513.5 363.3,516.4 364.3,519.3 365.3,522.2 366.3,525.0 367.3,527.7 368.3,530.3 369.3,532.9 370.3,535.4 371.3,537.8 372.3,540.2 373.3,542.5 374.3,544.7 375.3,546.8 376.3,548.8 377.3,550.8 378.3,552.6 379.3,554.4 380.3,556.2 381.3,557.8 382.3,559.4 383.3,560.9 384.3,562.3 385.3,563.7 386.3,565.1 387.3,566.4 388.3,567.6 389.3,568.8 390.3,569.9 391.3,571.0 392.3,572.1 393.4,573.1 394.4,574.1 395.4,575.1 396.4,576.0 397.4,576.9 398.4,577.8 399.4,578.6 400.4,579.5 401.4,580.3 402.4,581.2 403.4,582.0 404.4,582.8 405.4,583.6 406.4,584.4 407.4,585.2 408.4,586.0 409.4,586.8 410.4,587.7 411.4,588.4 412.4,589.2 413.4,590.0 414.4,590.8 415.4,591.5 416.4,592.2 417.4,592.9 418.4,593.6 419.4,594.3 420.4,594.9 421.4,595.5 422.4,596.1 423.4,596.7 424.4,597.2 425.4,597.7 426.4,598.1 427.4,598.6 428.4,599.0 429.4,599.4 430.4,599.8 431.4,600.2 432.4,600.5 433.4,600.8 434.4,601.1 435.4,601.4 436.4,601.7 437.4,602.0 438.4,602.2 439.4,602.4 440.4,602.7 441.4,602.9 442.4,603.1 443.4,603.3 444.4,603.4 445.4,603.6 446.4,603.8 447.4,603.9 448.4,604.1 449.4,604.2 450.4,604.3 451.4,604.5 452.4,604.6 453.4,604.7 454.4,604.9 455.4,605.0 456.4,605.1 457.4,605.3 458.4,605.4 459.4,605.5 460.4,605.7 461.4,605.8 462.4,606.0 463.4,606.1 464.4,606.3 465.4,606.4 466.4,606.6 467.5,606.8 468.5,607.0 469.5,607.2 470.5,607.4 471.5,607.7 472.5,607.9 473.5,608.2 474.5,608.4 475.5,608.7 476.5,608.9 477.5,609.2 478.5,609.5 479.5,609.7 480.5,610.0 481.5,610.3 482.5,610.5 483.5,610.8 484.5,611.1 485.5,611.3 486.5,611.5 487.5,611.8 488.5,612.0 489.5,612.2 490.5,612.4 491.5,612.6 492.5,612.8 493.5,612.9 494.5,613.1 495.5,613.2 496.5,613.3 497.5,613.4 498.5,613.4 499.5,613.5 500.5,613.5 501.5,613.5 502.5,613.5 503.5,613.4" fill="none" stroke="#000" stroke-width="1.5" stroke-linejoin="round"/><path d="M96.7,598.6 98.2,599.0 99.7,599.3 101.2,599.6 102.7,599.9 104.2,600.1 105.7,600.2 107.2,600.3 108.7,600.4 110.2,600.5 111.7,600.5 113.2,600.5 114.7,600.6 116.2,600.5 117.7,600.5 119.2,600.5 120.7,600.5 122.2,600.5 123.7,600.5 125.2,600.5 126.7,600.5 128.2,600.4 129.7,600.4 131.2,600.4 132.7,600.4 134.2,600.4 135.7,600.4 137.2,600.3 138.7,600.3 140.2,600.3 141.7,600.3 143.2,600.3 144.7,600.3 146.2,600.2 147.7,600.2 149.2,600.2 150.7,600.2 152.2,600.2 153.7,600.2 155.2,600.1 156.7,600.1 158.2,600.1 159.7,600.1 161.2,600.1 162.7,600.1 164.1,600.1 165.6,600.1 167.1,600.1 168.6,600.1 170.1,600.1 171.6,600.1 173.1,600.1 174.6,600.1 176.1,600.1 177.6,600.1 179.1,600.1 180.6,600.1 182.1,600.1 183.6,600.1 185.1,600.1 186.6,600.1 188.1,600.1 189.6,600.1 191.1,600.1 192.6,600.1 194.1,600.1 195.6,600.1 197.1,600.1 198.6,600.2 200.1,600.2 201.6,600.2 203.1,600.2 204.6,600.2 206.1,600.2 207.6,600.2 209.1,600.2 210.6,600.2 212.1,600.2 213.6,600.2 215.1,600.3 216.6,600.3 218.1,600.3 219.6,600.3 221.1,600.3 222.6,600.3 224.1,600.3 225.6,600.3 227.1,600.3 228.6,600.3 230.1,600.3 231.6,600.3 233.1,600.4 234.6,600.4 236.1,600.4 237.6,600.4 239.1,600.4 240.6,600.4 242.1,600.4 243.6,600.4 245.1,600.4 246.6,600.4 248.1,600.4 249.6,600.4 251.1,600.4 252.6,600.4 254.1,600.4 255.6,600.4 257.1,600.4 258.6,600.4 260.1,600.4 261.6,600.4 263.1,600.4 264.6,600.4 266.1,600.4 267.6,600.4 269.1,600.4 270.6,600.4 272.1,600.4 273.6,600.4 275.1,600.4 276.6,600.4 278.1,600.4 279.6,600.4 281.1,600.4 282.6,600.4 284.1,600.4 285.6,600.4 287.1,600.4 288.6,600.4 290.1,600.4 291.6,600.4 293.1,600.4 294.6,600.4 296.0,600.4 297.5,600.4 299.0,600.5 300.5,600.5 302.0,600.5 303.5,600.5 305.0,600.5 306.5,600.5 308.0,600.5 309.5,600.5 311.0,600.5 312.5,600.5 314.0,600.5 315.5,600.5 317.0,600.5 318.5,600.5 320.0,600.5 321.5,600.5 323.0,600.5 324.5,600.5 326.0,600.5 327.5,600.6 329.0,600.6 330.5,600.6 332.0,600.6 333.5,600.6 335.0,600.6 336.5,600.6 338.0,600.6 339.5,600.6 341.0,600.6 342.5,600.6 344.0,600.6 345.5,600.5 347.0,600.4 348.5,600.2 350.0,599.9 351.5,599.6 353.0,599.2 354.5,598.7 356.0,598.1 357.5,597.4 359.0,596.6 360.5,595.6 362.0,594.5" fill="none" stroke="#8fe05a" stroke-width="1.7" stroke-linejoin="round"/><g fill="#000"><circle cx="63.0" cy="544.4" r="1.85"/><circle cx="65.8" cy="545.2" r="1.85"/><circle cx="68.5" cy="544.7" r="1.85"/><circle cx="71.2" cy="543.1" r="1.85"/><circle cx="73.9" cy="540.7" r="1.85"/><circle cx="76.6" cy="537.9" r="1.85"/><circle cx="79.3" cy="535.0" r="1.85"/><circle cx="82.0" cy="532.3" r="1.85"/><circle cx="84.7" cy="530.0" r="1.85"/><circle cx="87.4" cy="528.6" r="1.85"/><circle cx="90.1" cy="528.3" r="1.85"/><circle cx="92.8" cy="529.5" r="1.85"/><circle cx="95.5" cy="532.4" r="1.85"/><circle cx="98.2" cy="536.7" r="1.85"/><circle cx="100.9" cy="542.1" r="1.85"/><circle cx="103.6" cy="547.9" r="1.85"/><circle cx="106.3" cy="553.6" r="1.85"/><circle cx="109.0" cy="558.8" r="1.85"/><circle cx="111.7" cy="562.8" r="1.85"/><circle cx="114.4" cy="565.1" r="1.85"/><circle cx="117.1" cy="565.3" r="1.85"/><circle cx="119.8" cy="563.0" r="1.85"/><circle cx="122.5" cy="558.1" r="1.85"/><circle cx="125.2" cy="550.9" r="1.85"/><circle cx="127.9" cy="541.4" r="1.85"/><circle cx="130.6" cy="529.6" r="1.85"/><circle cx="133.3" cy="514.7" r="1.85"/><circle cx="136.0" cy="497.9" r="1.85"/><circle cx="138.7" cy="483.5" r="1.85"/><circle cx="141.4" cy="471.4" r="1.85"/><circle cx="144.1" cy="461.1" r="1.85"/><circle cx="146.8" cy="451.5" r="1.85"/><circle cx="149.5" cy="442.5" r="1.85"/><circle cx="152.2" cy="436.3" r="1.85"/><circle cx="154.9" cy="434.1" r="1.85"/><circle cx="157.6" cy="435.6" r="1.85"/><circle cx="160.3" cy="440.1" r="1.85"/><circle cx="163.0" cy="447.3" r="1.85"/><circle cx="165.7" cy="456.5" r="1.85"/><circle cx="168.4" cy="467.7" r="1.85"/><circle cx="171.1" cy="478.3" r="1.85"/><circle cx="173.8" cy="486.7" r="1.85"/><circle cx="176.5" cy="493.2" r="1.85"/><circle cx="179.2" cy="497.9" r="1.85"/><circle cx="181.9" cy="500.6" r="1.85"/><circle cx="184.6" cy="500.7" r="1.85"/><circle cx="187.3" cy="497.7" r="1.85"/><circle cx="190.0" cy="492.0" r="1.85"/><circle cx="192.7" cy="484.5" r="1.85"/><circle cx="195.4" cy="475.8" r="1.85"/><circle cx="198.1" cy="466.9" r="1.85"/><circle cx="200.8" cy="458.5" r="1.85"/><circle cx="203.5" cy="451.4" r="1.85"/><circle cx="206.2" cy="446.4" r="1.85"/><circle cx="208.9" cy="444.1" r="1.85"/><circle cx="211.6" cy="444.6" r="1.85"/><circle cx="214.4" cy="448.3" r="1.85"/><circle cx="217.1" cy="455.0" r="1.85"/><circle cx="219.8" cy="465.1" r="1.85"/><circle cx="222.5" cy="478.2" r="1.85"/><circle cx="225.2" cy="492.7" r="1.85"/><circle cx="227.9" cy="506.9" r="1.85"/><circle cx="230.6" cy="518.9" r="1.85"/><circle cx="233.3" cy="529.3" r="1.85"/><circle cx="236.0" cy="540.5" r="1.85"/><circle cx="238.7" cy="551.2" r="1.85"/><circle cx="241.4" cy="558.8" r="1.85"/><circle cx="244.1" cy="563.2" r="1.85"/><circle cx="246.8" cy="565.1" r="1.85"/><circle cx="249.5" cy="565.3" r="1.85"/><circle cx="252.2" cy="564.4" r="1.85"/><circle cx="254.9" cy="563.0" r="1.85"/><circle cx="257.6" cy="561.3" r="1.85"/><circle cx="260.3" cy="559.6" r="1.85"/><circle cx="263.0" cy="558.3" r="1.85"/><circle cx="265.7" cy="557.4" r="1.85"/><circle cx="268.4" cy="557.4" r="1.85"/><circle cx="271.1" cy="558.6" r="1.85"/><circle cx="273.8" cy="560.9" r="1.85"/><circle cx="276.5" cy="564.0" r="1.85"/><circle cx="279.2" cy="567.3" r="1.85"/><circle cx="281.9" cy="570.1" r="1.85"/><circle cx="284.6" cy="571.8" r="1.85"/><circle cx="287.3" cy="571.8" r="1.85"/><circle cx="290.0" cy="569.6" r="1.85"/><circle cx="292.7" cy="565.5" r="1.85"/><circle cx="295.4" cy="559.3" r="1.85"/><circle cx="298.1" cy="551.1" r="1.85"/><circle cx="300.8" cy="541.0" r="1.85"/><circle cx="303.5" cy="529.3" r="1.85"/><circle cx="306.2" cy="516.2" r="1.85"/><circle cx="308.9" cy="502.1" r="1.85"/><circle cx="311.6" cy="487.2" r="1.85"/><circle cx="314.3" cy="472.5" r="1.85"/><circle cx="317.0" cy="459.0" r="1.85"/><circle cx="319.7" cy="447.8" r="1.85"/><circle cx="322.4" cy="439.0" r="1.85"/><circle cx="325.1" cy="432.6" r="1.85"/><circle cx="327.8" cy="428.6" r="1.85"/><circle cx="330.5" cy="427.0" r="1.85"/><circle cx="333.2" cy="427.7" r="1.85"/><circle cx="335.9" cy="430.8" r="1.85"/><circle cx="338.6" cy="436.4" r="1.85"/><circle cx="341.3" cy="444.6" r="1.85"/><circle cx="344.0" cy="454.3" r="1.85"/><circle cx="346.7" cy="463.1" r="1.85"/><circle cx="349.4" cy="470.3" r="1.85"/><circle cx="352.1" cy="479.2" r="1.85"/><circle cx="354.8" cy="490.5" r="1.85"/><circle cx="357.5" cy="500.2" r="1.85"/><circle cx="360.2" cy="506.7" r="1.85"/><circle cx="362.9" cy="511.8" r="1.85"/><circle cx="365.7" cy="516.7" r="1.85"/><circle cx="368.4" cy="520.9" r="1.85"/><circle cx="371.1" cy="524.4" r="1.85"/><circle cx="373.8" cy="527.5" r="1.85"/><circle cx="376.5" cy="530.3" r="1.85"/><circle cx="379.2" cy="532.9" r="1.85"/><circle cx="381.9" cy="535.3" r="1.85"/><circle cx="384.6" cy="537.2" r="1.85"/><circle cx="387.3" cy="538.9" r="1.85"/><circle cx="390.0" cy="540.2" r="1.85"/><circle cx="392.7" cy="541.0" r="1.85"/><circle cx="395.4" cy="541.5" r="1.85"/><circle cx="398.1" cy="541.4" r="1.85"/><circle cx="400.8" cy="540.9" r="1.85"/><circle cx="403.5" cy="539.9" r="1.85"/><circle cx="406.2" cy="538.4" r="1.85"/><circle cx="408.9" cy="536.5" r="1.85"/><circle cx="411.6" cy="534.1" r="1.85"/><circle cx="414.3" cy="531.3" r="1.85"/><circle cx="417.0" cy="528.1" r="1.85"/><circle cx="419.7" cy="524.6" r="1.85"/><circle cx="422.4" cy="520.8" r="1.85"/><circle cx="425.1" cy="517.0" r="1.85"/><circle cx="427.8" cy="513.5" r="1.85"/><circle cx="430.5" cy="510.3" r="1.85"/><circle cx="433.2" cy="507.4" r="1.85"/><circle cx="435.9" cy="505.1" r="1.85"/><circle cx="438.6" cy="503.3" r="1.85"/><circle cx="441.3" cy="501.9" r="1.85"/><circle cx="444.0" cy="501.2" r="1.85"/><circle cx="446.7" cy="501.1" r="1.85"/><circle cx="449.4" cy="501.6" r="1.85"/><circle cx="452.1" cy="502.7" r="1.85"/><circle cx="454.8" cy="504.4" r="1.85"/><circle cx="457.5" cy="506.4" r="1.85"/><circle cx="460.2" cy="508.8" r="1.85"/><circle cx="462.9" cy="511.3" r="1.85"/><circle cx="465.6" cy="513.8" r="1.85"/><circle cx="468.3" cy="516.1" r="1.85"/><circle cx="471.0" cy="518.2" r="1.85"/><circle cx="473.7" cy="520.0" r="1.85"/><circle cx="476.4" cy="521.5" r="1.85"/><circle cx="479.1" cy="522.7" r="1.85"/><circle cx="481.8" cy="523.7" r="1.85"/><circle cx="484.5" cy="524.4" r="1.85"/><circle cx="487.2" cy="524.9" r="1.85"/><circle cx="489.9" cy="525.1" r="1.85"/><circle cx="492.6" cy="525.1" r="1.85"/><circle cx="495.3" cy="524.9" r="1.85"/><circle cx="498.0" cy="524.5" r="1.85"/><circle cx="500.7" cy="523.8" r="1.85"/><circle cx="503.4" cy="523.0" r="1.85"/></g><g stroke="#222" stroke-width="1.3" fill="none"><line x1="80.52" y1="11.80" x2="80.52" y2="18.00"/><line x1="80.52" y1="213.20" x2="80.52" y2="207.00"/><line x1="98.15" y1="11.80" x2="98.15" y2="18.00"/><line x1="98.15" y1="213.20" x2="98.15" y2="207.00"/><line x1="115.77" y1="11.80" x2="115.77" y2="18.00"/><line x1="115.77" y1="213.20" x2="115.77" y2="207.00"/><line x1="133.40" y1="11.80" x2="133.40" y2="18.00"/><line x1="133.40" y1="213.20" x2="133.40" y2="207.00"/><line x1="151.02" y1="11.80" x2="151.02" y2="23.30"/><line x1="151.02" y1="213.20" x2="151.02" y2="201.70"/><line x1="168.64" y1="11.80" x2="168.64" y2="18.00"/><line x1="168.64" y1="213.20" x2="168.64" y2="207.00"/><line x1="186.27" y1="11.80" x2="186.27" y2="18.00"/><line x1="186.27" y1="213.20" x2="186.27" y2="207.00"/><line x1="203.89" y1="11.80" x2="203.89" y2="18.00"/><line x1="203.89" y1="213.20" x2="203.89" y2="207.00"/><line x1="221.52" y1="11.80" x2="221.52" y2="18.00"/><line x1="221.52" y1="213.20" x2="221.52" y2="207.00"/><line x1="239.14" y1="11.80" x2="239.14" y2="23.30"/><line x1="239.14" y1="213.20" x2="239.14" y2="201.70"/><line x1="256.76" y1="11.80" x2="256.76" y2="18.00"/><line x1="256.76" y1="213.20" x2="256.76" y2="207.00"/><line x1="274.39" y1="11.80" x2="274.39" y2="18.00"/><line x1="274.39" y1="213.20" x2="274.39" y2="207.00"/><line x1="292.01" y1="11.80" x2="292.01" y2="18.00"/><line x1="292.01" y1="213.20" x2="292.01" y2="207.00"/><line x1="309.64" y1="11.80" x2="309.64" y2="18.00"/><line x1="309.64" y1="213.20" x2="309.64" y2="207.00"/><line x1="327.26" y1="11.80" x2="327.26" y2="23.30"/><line x1="327.26" y1="213.20" x2="327.26" y2="201.70"/><line x1="344.88" y1="11.80" x2="344.88" y2="18.00"/><line x1="344.88" y1="213.20" x2="344.88" y2="207.00"/><line x1="362.51" y1="11.80" x2="362.51" y2="18.00"/><line x1="362.51" y1="213.20" x2="362.51" y2="207.00"/><line x1="380.13" y1="11.80" x2="380.13" y2="18.00"/><line x1="380.13" y1="213.20" x2="380.13" y2="207.00"/><line x1="397.76" y1="11.80" x2="397.76" y2="18.00"/><line x1="397.76" y1="213.20" x2="397.76" y2="207.00"/><line x1="415.38" y1="11.80" x2="415.38" y2="23.30"/><line x1="415.38" y1="213.20" x2="415.38" y2="201.70"/><line x1="433.00" y1="11.80" x2="433.00" y2="18.00"/><line x1="433.00" y1="213.20" x2="433.00" y2="207.00"/><line x1="450.63" y1="11.80" x2="450.63" y2="18.00"/><line x1="450.63" y1="213.20" x2="450.63" y2="207.00"/><line x1="468.25" y1="11.80" x2="468.25" y2="18.00"/><line x1="468.25" y1="213.20" x2="468.25" y2="207.00"/><line x1="485.88" y1="11.80" x2="485.88" y2="18.00"/><line x1="485.88" y1="213.20" x2="485.88" y2="207.00"/><line x1="62.90" y1="200.61" x2="69.10" y2="200.61"/><line x1="503.50" y1="200.61" x2="497.30" y2="200.61"/><line x1="62.90" y1="188.02" x2="69.10" y2="188.02"/><line x1="503.50" y1="188.02" x2="497.30" y2="188.02"/><line x1="62.90" y1="175.44" x2="69.10" y2="175.44"/><line x1="503.50" y1="175.44" x2="497.30" y2="175.44"/><line x1="62.90" y1="162.85" x2="74.40" y2="162.85"/><line x1="503.50" y1="162.85" x2="492.00" y2="162.85"/><line x1="62.90" y1="150.26" x2="69.10" y2="150.26"/><line x1="503.50" y1="150.26" x2="497.30" y2="150.26"/><line x1="62.90" y1="137.67" x2="69.10" y2="137.67"/><line x1="503.50" y1="137.67" x2="497.30" y2="137.67"/><line x1="62.90" y1="125.09" x2="69.10" y2="125.09"/><line x1="503.50" y1="125.09" x2="497.30" y2="125.09"/><line x1="62.90" y1="112.50" x2="74.40" y2="112.50"/><line x1="503.50" y1="112.50" x2="492.00" y2="112.50"/><line x1="62.90" y1="99.91" x2="69.10" y2="99.91"/><line x1="503.50" y1="99.91" x2="497.30" y2="99.91"/><line x1="62.90" y1="87.32" x2="69.10" y2="87.32"/><line x1="503.50" y1="87.32" x2="497.30" y2="87.32"/><line x1="62.90" y1="74.74" x2="69.10" y2="74.74"/><line x1="503.50" y1="74.74" x2="497.30" y2="74.74"/><line x1="62.90" y1="62.15" x2="74.40" y2="62.15"/><line x1="503.50" y1="62.15" x2="492.00" y2="62.15"/><line x1="62.90" y1="49.56" x2="69.10" y2="49.56"/><line x1="503.50" y1="49.56" x2="497.30" y2="49.56"/><line x1="62.90" y1="36.97" x2="69.10" y2="36.97"/><line x1="503.50" y1="36.97" x2="497.30" y2="36.97"/><line x1="62.90" y1="24.39" x2="69.10" y2="24.39"/><line x1="503.50" y1="24.39" x2="497.30" y2="24.39"/><line x1="80.52" y1="213.20" x2="80.52" y2="219.40"/><line x1="80.52" y1="414.40" x2="80.52" y2="408.20"/><line x1="98.15" y1="213.20" x2="98.15" y2="219.40"/><line x1="98.15" y1="414.40" x2="98.15" y2="408.20"/><line x1="115.77" y1="213.20" x2="115.77" y2="219.40"/><line x1="115.77" y1="414.40" x2="115.77" y2="408.20"/><line x1="133.40" y1="213.20" x2="133.40" y2="219.40"/><line x1="133.40" y1="414.40" x2="133.40" y2="408.20"/><line x1="151.02" y1="213.20" x2="151.02" y2="224.70"/><line x1="151.02" y1="414.40" x2="151.02" y2="402.90"/><line x1="168.64" y1="213.20" x2="168.64" y2="219.40"/><line x1="168.64" y1="414.40" x2="168.64" y2="408.20"/><line x1="186.27" y1="213.20" x2="186.27" y2="219.40"/><line x1="186.27" y1="414.40" x2="186.27" y2="408.20"/><line x1="203.89" y1="213.20" x2="203.89" y2="219.40"/><line x1="203.89" y1="414.40" x2="203.89" y2="408.20"/><line x1="221.52" y1="213.20" x2="221.52" y2="219.40"/><line x1="221.52" y1="414.40" x2="221.52" y2="408.20"/><line x1="239.14" y1="213.20" x2="239.14" y2="224.70"/><line x1="239.14" y1="414.40" x2="239.14" y2="402.90"/><line x1="256.76" y1="213.20" x2="256.76" y2="219.40"/><line x1="256.76" y1="414.40" x2="256.76" y2="408.20"/><line x1="274.39" y1="213.20" x2="274.39" y2="219.40"/><line x1="274.39" y1="414.40" x2="274.39" y2="408.20"/><line x1="292.01" y1="213.20" x2="292.01" y2="219.40"/><line x1="292.01" y1="414.40" x2="292.01" y2="408.20"/><line x1="309.64" y1="213.20" x2="309.64" y2="219.40"/><line x1="309.64" y1="414.40" x2="309.64" y2="408.20"/><line x1="327.26" y1="213.20" x2="327.26" y2="224.70"/><line x1="327.26" y1="414.40" x2="327.26" y2="402.90"/><line x1="344.88" y1="213.20" x2="344.88" y2="219.40"/><line x1="344.88" y1="414.40" x2="344.88" y2="408.20"/><line x1="362.51" y1="213.20" x2="362.51" y2="219.40"/><line x1="362.51" y1="414.40" x2="362.51" y2="408.20"/><line x1="380.13" y1="213.20" x2="380.13" y2="219.40"/><line x1="380.13" y1="414.40" x2="380.13" y2="408.20"/><line x1="397.76" y1="213.20" x2="397.76" y2="219.40"/><line x1="397.76" y1="414.40" x2="397.76" y2="408.20"/><line x1="415.38" y1="213.20" x2="415.38" y2="224.70"/><line x1="415.38" y1="414.40" x2="415.38" y2="402.90"/><line x1="433.00" y1="213.20" x2="433.00" y2="219.40"/><line x1="433.00" y1="414.40" x2="433.00" y2="408.20"/><line x1="450.63" y1="213.20" x2="450.63" y2="219.40"/><line x1="450.63" y1="414.40" x2="450.63" y2="408.20"/><line x1="468.25" y1="213.20" x2="468.25" y2="219.40"/><line x1="468.25" y1="414.40" x2="468.25" y2="408.20"/><line x1="485.88" y1="213.20" x2="485.88" y2="219.40"/><line x1="485.88" y1="414.40" x2="485.88" y2="408.20"/><line x1="62.90" y1="398.92" x2="69.10" y2="398.92"/><line x1="503.50" y1="398.92" x2="497.30" y2="398.92"/><line x1="62.90" y1="383.45" x2="69.10" y2="383.45"/><line x1="503.50" y1="383.45" x2="497.30" y2="383.45"/><line x1="62.90" y1="367.97" x2="74.40" y2="367.97"/><line x1="503.50" y1="367.97" x2="492.00" y2="367.97"/><line x1="62.90" y1="352.49" x2="69.10" y2="352.49"/><line x1="503.50" y1="352.49" x2="497.30" y2="352.49"/><line x1="62.90" y1="337.02" x2="69.10" y2="337.02"/><line x1="503.50" y1="337.02" x2="497.30" y2="337.02"/><line x1="62.90" y1="321.54" x2="69.10" y2="321.54"/><line x1="503.50" y1="321.54" x2="497.30" y2="321.54"/><line x1="62.90" y1="306.06" x2="74.40" y2="306.06"/><line x1="503.50" y1="306.06" x2="492.00" y2="306.06"/><line x1="62.90" y1="290.58" x2="69.10" y2="290.58"/><line x1="503.50" y1="290.58" x2="497.30" y2="290.58"/><line x1="62.90" y1="275.11" x2="69.10" y2="275.11"/><line x1="503.50" y1="275.11" x2="497.30" y2="275.11"/><line x1="62.90" y1="259.63" x2="69.10" y2="259.63"/><line x1="503.50" y1="259.63" x2="497.30" y2="259.63"/><line x1="62.90" y1="244.15" x2="74.40" y2="244.15"/><line x1="503.50" y1="244.15" x2="492.00" y2="244.15"/><line x1="62.90" y1="228.68" x2="69.10" y2="228.68"/><line x1="503.50" y1="228.68" x2="497.30" y2="228.68"/><line x1="80.52" y1="414.40" x2="80.52" y2="420.60"/><line x1="80.52" y1="615.60" x2="80.52" y2="609.40"/><line x1="98.15" y1="414.40" x2="98.15" y2="420.60"/><line x1="98.15" y1="615.60" x2="98.15" y2="609.40"/><line x1="115.77" y1="414.40" x2="115.77" y2="420.60"/><line x1="115.77" y1="615.60" x2="115.77" y2="609.40"/><line x1="133.40" y1="414.40" x2="133.40" y2="420.60"/><line x1="133.40" y1="615.60" x2="133.40" y2="609.40"/><line x1="151.02" y1="414.40" x2="151.02" y2="425.90"/><line x1="151.02" y1="615.60" x2="151.02" y2="604.10"/><line x1="168.64" y1="414.40" x2="168.64" y2="420.60"/><line x1="168.64" y1="615.60" x2="168.64" y2="609.40"/><line x1="186.27" y1="414.40" x2="186.27" y2="420.60"/><line x1="186.27" y1="615.60" x2="186.27" y2="609.40"/><line x1="203.89" y1="414.40" x2="203.89" y2="420.60"/><line x1="203.89" y1="615.60" x2="203.89" y2="609.40"/><line x1="221.52" y1="414.40" x2="221.52" y2="420.60"/><line x1="221.52" y1="615.60" x2="221.52" y2="609.40"/><line x1="239.14" y1="414.40" x2="239.14" y2="425.90"/><line x1="239.14" y1="615.60" x2="239.14" y2="604.10"/><line x1="256.76" y1="414.40" x2="256.76" y2="420.60"/><line x1="256.76" y1="615.60" x2="256.76" y2="609.40"/><line x1="274.39" y1="414.40" x2="274.39" y2="420.60"/><line x1="274.39" y1="615.60" x2="274.39" y2="609.40"/><line x1="292.01" y1="414.40" x2="292.01" y2="420.60"/><line x1="292.01" y1="615.60" x2="292.01" y2="609.40"/><line x1="309.64" y1="414.40" x2="309.64" y2="420.60"/><line x1="309.64" y1="615.60" x2="309.64" y2="609.40"/><line x1="327.26" y1="414.40" x2="327.26" y2="425.90"/><line x1="327.26" y1="615.60" x2="327.26" y2="604.10"/><line x1="344.88" y1="414.40" x2="344.88" y2="420.60"/><line x1="344.88" y1="615.60" x2="344.88" y2="609.40"/><line x1="362.51" y1="414.40" x2="362.51" y2="420.60"/><line x1="362.51" y1="615.60" x2="362.51" y2="609.40"/><line x1="380.13" y1="414.40" x2="380.13" y2="420.60"/><line x1="380.13" y1="615.60" x2="380.13" y2="609.40"/><line x1="397.76" y1="414.40" x2="397.76" y2="420.60"/><line x1="397.76" y1="615.60" x2="397.76" y2="609.40"/><line x1="415.38" y1="414.40" x2="415.38" y2="425.90"/><line x1="415.38" y1="615.60" x2="415.38" y2="604.10"/><line x1="433.00" y1="414.40" x2="433.00" y2="420.60"/><line x1="433.00" y1="615.60" x2="433.00" y2="609.40"/><line x1="450.63" y1="414.40" x2="450.63" y2="420.60"/><line x1="450.63" y1="615.60" x2="450.63" y2="609.40"/><line x1="468.25" y1="414.40" x2="468.25" y2="420.60"/><line x1="468.25" y1="615.60" x2="468.25" y2="609.40"/><line x1="485.88" y1="414.40" x2="485.88" y2="420.60"/><line x1="485.88" y1="615.60" x2="485.88" y2="609.40"/><line x1="62.90" y1="600.12" x2="69.10" y2="600.12"/><line x1="503.50" y1="600.12" x2="497.30" y2="600.12"/><line x1="62.90" y1="584.65" x2="69.10" y2="584.65"/><line x1="503.50" y1="584.65" x2="497.30" y2="584.65"/><line x1="62.90" y1="569.17" x2="74.40" y2="569.17"/><line x1="503.50" y1="569.17" x2="492.00" y2="569.17"/><line x1="62.90" y1="553.69" x2="69.10" y2="553.69"/><line x1="503.50" y1="553.69" x2="497.30" y2="553.69"/><line x1="62.90" y1="538.22" x2="69.10" y2="538.22"/><line x1="503.50" y1="538.22" x2="497.30" y2="538.22"/><line x1="62.90" y1="522.74" x2="69.10" y2="522.74"/><line x1="503.50" y1="522.74" x2="497.30" y2="522.74"/><line x1="62.90" y1="507.26" x2="74.40" y2="507.26"/><line x1="503.50" y1="507.26" x2="492.00" y2="507.26"/><line x1="62.90" y1="491.78" x2="69.10" y2="491.78"/><line x1="503.50" y1="491.78" x2="497.30" y2="491.78"/><line x1="62.90" y1="476.31" x2="69.10" y2="476.31"/><line x1="503.50" y1="476.31" x2="497.30" y2="476.31"/><line x1="62.90" y1="460.83" x2="69.10" y2="460.83"/><line x1="503.50" y1="460.83" x2="497.30" y2="460.83"/><line x1="62.90" y1="445.35" x2="74.40" y2="445.35"/><line x1="503.50" y1="445.35" x2="492.00" y2="445.35"/><line x1="62.90" y1="429.88" x2="69.10" y2="429.88"/><line x1="503.50" y1="429.88" x2="497.30" y2="429.88"/></g><g stroke="#222" stroke-width="1.6" fill="none"><rect x="62.9" y="11.8" width="440.60" height="603.80"/></g><g stroke="#222" stroke-width="1.2"><line x1="62.9" y1="213.2" x2="503.5" y2="213.2"/><line x1="62.9" y1="414.4" x2="503.5" y2="414.4"/></g><text x="57.6" y="19.8" text-anchor="end" font-family="Liberation Serif, serif" font-size="23" fill="#111" stroke="#111" stroke-width="0.25">4</text><text x="57.6" y="70.1" text-anchor="end" font-family="Liberation Serif, serif" font-size="23" fill="#111" stroke="#111" stroke-width="0.25">2</text><text x="57.6" y="120.5" text-anchor="end" font-family="Liberation Serif, serif" font-size="23" fill="#111" stroke="#111" stroke-width="0.25">0</text><text x="57.6" y="170.8" text-anchor="end" font-family="Liberation Serif, serif" font-size="23" fill="#111" stroke="#111" stroke-width="0.25">-2</text><text x="57.6" y="252.2" text-anchor="end" font-family="Liberation Serif, serif" font-size="23" fill="#111" stroke="#111" stroke-width="0.25">2</text><text x="57.6" y="314.1" text-anchor="end" font-family="Liberation Serif, serif" font-size="23" fill="#111" stroke="#111" stroke-width="0.25">0</text><text x="57.6" y="376.0" text-anchor="end" font-family="Liberation Serif, serif" font-size="23" fill="#111" stroke="#111" stroke-width="0.25">-2</text><text x="57.6" y="453.4" text-anchor="end" font-family="Liberation Serif, serif" font-size="23" fill="#111" stroke="#111" stroke-width="0.25">2</text><text x="57.6" y="515.3" text-anchor="end" font-family="Liberation Serif, serif" font-size="23" fill="#111" stroke="#111" stroke-width="0.25">0</text><text x="57.6" y="577.2" text-anchor="end" font-family="Liberation Serif, serif" font-size="23" fill="#111" stroke="#111" stroke-width="0.25">-2</text><text x="62.9" y="637.8" text-anchor="middle" font-family="Liberation Serif, serif" font-size="23" fill="#111" stroke="#111" stroke-width="0.25">1</text><text x="151.0" y="637.8" text-anchor="middle" font-family="Liberation Serif, serif" font-size="23" fill="#111" stroke="#111" stroke-width="0.25">1.5</text><text x="239.1" y="637.8" text-anchor="middle" font-family="Liberation Serif, serif" font-size="23" fill="#111" stroke="#111" stroke-width="0.25">2</text><text x="327.3" y="637.8" text-anchor="middle" font-family="Liberation Serif, serif" font-size="23" fill="#111" stroke="#111" stroke-width="0.25">2.5</text><text x="415.4" y="637.8" text-anchor="middle" font-family="Liberation Serif, serif" font-size="23" fill="#111" stroke="#111" stroke-width="0.25">3</text><text x="503.5" y="637.8" text-anchor="middle" font-family="Liberation Serif, serif" font-size="23" fill="#111" stroke="#111" stroke-width="0.25">3.5</text><text x="80" y="41.6" font-family="Liberation Serif, serif" font-size="22" fill="#111" stroke="#111" stroke-width="0.25">(a)</text><text x="80" y="243.3" font-family="Liberation Serif, serif" font-size="22" fill="#111" stroke="#111" stroke-width="0.25">(b)</text><text x="80" y="444.2" font-family="Liberation Serif, serif" font-size="22" fill="#111" stroke="#111" stroke-width="0.25">(c)</text><text x="283.1" y="664.5" text-anchor="middle" font-family="Liberation Serif, serif" font-size="23.3" fill="#111" stroke="#111" stroke-width="0.25">Distance <tspan font-style="italic">r</tspan> (Å)</text><text transform="translate(27.9,313.9) rotate(-90.26)" text-anchor="middle" font-family="Liberation Serif, serif" font-size="23.45" fill="#111" stroke="#111" stroke-width="0.25">Total pair-distribution function <tspan font-style="italic">D</tspan>′(<tspan font-style="italic">r</tspan>) (Å<tspan dy="-13" font-size="16">-2</tspan><tspan dy="13">)</tspan></text></svg></body></html>
